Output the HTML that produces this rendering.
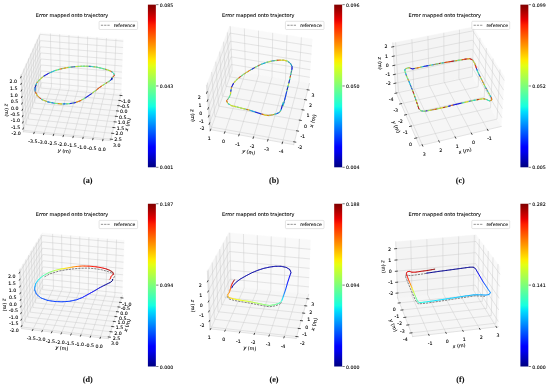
<!DOCTYPE html>
<html><head><meta charset="utf-8"><title>Error mapped onto trajectory</title>
<style>
html,body{margin:0;padding:0;background:#fff;}
body{width:550px;height:386px;overflow:hidden;}
svg{display:block}
svg *{stroke-linejoin:round;stroke-linecap:butt}
svg text{stroke:#000;stroke-width:0.08px;text-rendering:geometricPrecision}
svg .m text{stroke-width:0.2px}
</style></head><body>
<svg width="550" height="386" viewBox="0 0 550 386">
<rect width="550" height="386" fill="#fff"/>
<g class="m" transform="scale(0.409)">



<g>
<g>
<path d="M 101.98 209.75  L 296.19 227.71  L 301.51 96.48  L 98.36 79.89
" style="fill: #f2f2f2; opacity: 0.42; stroke: #f2f2f2; stroke-linejoin: miter"/>
</g>
</g>
<g>
<g>
<path d="M 101.98 209.75  L 57.18 321.99  L 50.90 183.97  L 98.36 79.89
" style="fill: #e6e6e6; opacity: 0.42; stroke: #e6e6e6; stroke-linejoin: miter"/>
</g>
</g>
<g>
<g>
<path d="M 101.98 209.75  L 57.18 321.99  L 270.61 343.82  L 296.19 227.71
" style="fill: #ececec; opacity: 0.42; stroke: #ececec; stroke-linejoin: miter"/>
</g>
</g>
<g>
<g>
<path d="M 294.94 233.35  L 99.80 215.21  L 96.06 84.93
" style="fill: none; stroke: #c6c6c6; stroke-width: 1.05"/>
<path d="M 292.22 245.71  L 95.03 227.17  L 91.02 95.98
" style="fill: none; stroke: #c6c6c6; stroke-width: 1.05"/>
<path d="M 289.44 258.34  L 90.15 239.39  L 85.87 107.28
" style="fill: none; stroke: #c6c6c6; stroke-width: 1.05"/>
<path d="M 286.60 271.25  L 85.17 251.88  L 80.60 118.84
" style="fill: none; stroke: #c6c6c6; stroke-width: 1.05"/>
<path d="M 283.69 284.45  L 80.07 264.65  L 75.20 130.67
" style="fill: none; stroke: #c6c6c6; stroke-width: 1.05"/>
<path d="M 280.72 297.95  L 74.86 277.70  L 69.68 142.78
" style="fill: none; stroke: #c6c6c6; stroke-width: 1.05"/>
<path d="M 277.67 311.77  L 69.53 291.05  L 64.03 155.18
" style="fill: none; stroke: #c6c6c6; stroke-width: 1.05"/>
<path d="M 274.56 325.91  L 64.08 304.70  L 58.24 167.87
" style="fill: none; stroke: #c6c6c6; stroke-width: 1.05"/>
<path d="M 271.37 340.38  L 58.50 318.67  L 52.31 180.88
" style="fill: none; stroke: #c6c6c6; stroke-width: 1.05"/>
</g>
</g>
<g>
<g>
<path d="M 123.27 81.92  L 125.81 211.95  L 83.33 324.67
" style="fill: none; stroke: #c6c6c6; stroke-width: 1.05"/>
<path d="M 145.88 83.77  L 147.44 213.95  L 107.07 327.09
" style="fill: none; stroke: #c6c6c6; stroke-width: 1.05"/>
<path d="M 168.57 85.62  L 169.14 215.96  L 130.91 329.53
" style="fill: none; stroke: #c6c6c6; stroke-width: 1.05"/>
<path d="M 191.36 87.48  L 190.92 217.97  L 154.84 331.98
" style="fill: none; stroke: #c6c6c6; stroke-width: 1.05"/>
<path d="M 214.23 89.35  L 212.79 220.00  L 178.87 334.43
" style="fill: none; stroke: #c6c6c6; stroke-width: 1.05"/>
<path d="M 237.18 91.23  L 234.73 222.03  L 202.99 336.90
" style="fill: none; stroke: #c6c6c6; stroke-width: 1.05"/>
<path d="M 260.23 93.11  L 256.75 224.06  L 227.21 339.38
" style="fill: none; stroke: #c6c6c6; stroke-width: 1.05"/>
<path d="M 283.36 95.00  L 278.85 226.11  L 251.53 341.87
" style="fill: none; stroke: #c6c6c6; stroke-width: 1.05"/>
</g>
</g>
<g>
<g>
<path d="M 56.81 313.83  L 101.77 202.04  L 296.50 219.92
" style="fill: none; stroke: #c6c6c6; stroke-width: 1.05"/>
<path d="M 56.12 298.76  L 101.37 187.81  L 297.09 205.55
" style="fill: none; stroke: #c6c6c6; stroke-width: 1.05"/>
<path d="M 55.43 283.52  L 100.97 173.43  L 297.67 191.03
" style="fill: none; stroke: #c6c6c6; stroke-width: 1.05"/>
<path d="M 54.73 268.11  L 100.56 158.91  L 298.27 176.36
" style="fill: none; stroke: #c6c6c6; stroke-width: 1.05"/>
<path d="M 54.02 252.53  L 100.15 144.25  L 298.87 161.54
" style="fill: none; stroke: #c6c6c6; stroke-width: 1.05"/>
<path d="M 53.30 236.78  L 99.74 129.43  L 299.48 146.57
" style="fill: none; stroke: #c6c6c6; stroke-width: 1.05"/>
<path d="M 52.58 220.85  L 99.32 114.47  L 300.09 131.44
" style="fill: none; stroke: #c6c6c6; stroke-width: 1.05"/>
<path d="M 51.85 204.73  L 98.90 99.35  L 300.71 116.16
" style="fill: none; stroke: #c6c6c6; stroke-width: 1.05"/>
<path d="M 51.11 188.44  L 98.47 84.07  L 301.34 100.71
" style="fill: none; stroke: #c6c6c6; stroke-width: 1.05"/>
</g>
</g>
<g>
<g>
<path d="M 296.19 227.71  L 270.61 343.82
" style="fill: none; stroke: #cccccc; stroke-width: 1.25; stroke-linecap: square"/>
</g>
<g>
<g>
<path d="M 293.36 233.21  L 298.12 233.65
" style="fill: none; stroke: #000000; stroke-width: 1.7; stroke-linecap: square"/>
</g>
<g>
<text style="font-size: 11.5px; font-family: 'DejaVu Sans', 'Liberation Sans', sans-serif; text-anchor: middle" x="307.92" y="251.77" transform="rotate(-0 307.92 251.77)">-1.0</text>
</g>
</g>
<g>
<g>
<path d="M 290.62 245.56  L 295.43 246.01
" style="fill: none; stroke: #000000; stroke-width: 1.7; stroke-linecap: square"/>
</g>
<g>
<text style="font-size: 11.5px; font-family: 'DejaVu Sans', 'Liberation Sans', sans-serif; text-anchor: middle" x="305.34" y="264.21" transform="rotate(-0 305.34 264.21)">-0.5</text>
</g>
</g>
<g>
<g>
<path d="M 287.82 258.18  L 292.68 258.65
" style="fill: none; stroke: #000000; stroke-width: 1.7; stroke-linecap: square"/>
</g>
<g>
<text style="font-size: 11.5px; font-family: 'DejaVu Sans', 'Liberation Sans', sans-serif; text-anchor: middle" x="302.71" y="276.92" transform="rotate(-0 302.71 276.92)">0.0</text>
</g>
</g>
<g>
<g>
<path d="M 284.96 271.09  L 289.88 271.56
" style="fill: none; stroke: #000000; stroke-width: 1.7; stroke-linecap: square"/>
</g>
<g>
<text style="font-size: 11.5px; font-family: 'DejaVu Sans', 'Liberation Sans', sans-serif; text-anchor: middle" x="300.02" y="289.92" transform="rotate(-0 300.02 289.92)">0.5</text>
</g>
</g>
<g>
<g>
<path d="M 282.03 284.29  L 287.00 284.77
" style="fill: none; stroke: #000000; stroke-width: 1.7; stroke-linecap: square"/>
</g>
<g>
<text style="font-size: 11.5px; font-family: 'DejaVu Sans', 'Liberation Sans', sans-serif; text-anchor: middle" x="297.27" y="303.21" transform="rotate(-0 297.27 303.21)">1.0</text>
</g>
</g>
<g>
<g>
<path d="M 279.04 297.79  L 284.07 298.28
" style="fill: none; stroke: #000000; stroke-width: 1.7; stroke-linecap: square"/>
</g>
<g>
<text style="font-size: 11.5px; font-family: 'DejaVu Sans', 'Liberation Sans', sans-serif; text-anchor: middle" x="294.46" y="316.80" transform="rotate(-0 294.46 316.80)">1.5</text>
</g>
</g>
<g>
<g>
<path d="M 275.98 311.60  L 281.06 312.11
" style="fill: none; stroke: #000000; stroke-width: 1.7; stroke-linecap: square"/>
</g>
<g>
<text style="font-size: 11.5px; font-family: 'DejaVu Sans', 'Liberation Sans', sans-serif; text-anchor: middle" x="291.58" y="330.70" transform="rotate(-0 291.58 330.70)">2.0</text>
</g>
</g>
<g>
<g>
<path d="M 272.85 325.73  L 277.99 326.25
" style="fill: none; stroke: #000000; stroke-width: 1.7; stroke-linecap: square"/>
</g>
<g>
<text style="font-size: 11.5px; font-family: 'DejaVu Sans', 'Liberation Sans', sans-serif; text-anchor: middle" x="288.63" y="344.93" transform="rotate(-0 288.63 344.93)">2.5</text>
</g>
</g>
<g>
<g>
<path d="M 269.64 340.20  L 274.84 340.73
" style="fill: none; stroke: #000000; stroke-width: 1.7; stroke-linecap: square"/>
</g>
<g>
<text style="font-size: 11.5px; font-family: 'DejaVu Sans', 'Liberation Sans', sans-serif; text-anchor: middle" x="285.62" y="359.49" transform="rotate(-0 285.62 359.49)">3.0</text>
</g>
</g>
<g>
<g transform="translate(313.23 320.98) rotate(-77.57)">
<text x="0" y="-0.89" style="font-size: 12px; font-family: 'DejaVu Sans', 'Liberation Sans', sans-serif"><tspan style="font-style: oblique">x</tspan> (m)</text>
</g>
</g>
</g>
<g>
<g>
<path d="M 57.18 321.99  L 270.61 343.82
" style="fill: none; stroke: #cccccc; stroke-width: 1.25; stroke-linecap: square"/>
</g>
<g>
<g>
<path d="M 83.70 323.67  L 82.58 326.66
" style="fill: none; stroke: #000000; stroke-width: 1.7; stroke-linecap: square"/>
</g>
<g>
<text style="font-size: 11.5px; font-family: 'DejaVu Sans', 'Liberation Sans', sans-serif; text-anchor: middle" x="80.49" y="350.66" transform="rotate(-0 80.49 350.66)">-3.5</text>
</g>
</g>
<g>
<g>
<path d="M 107.43 326.10  L 106.36 329.09
" style="fill: none; stroke: #000000; stroke-width: 1.7; stroke-linecap: square"/>
</g>
<g>
<text style="font-size: 11.5px; font-family: 'DejaVu Sans', 'Liberation Sans', sans-serif; text-anchor: middle" x="104.31" y="353.13" transform="rotate(-0 104.31 353.13)">-3.0</text>
</g>
</g>
<g>
<g>
<path d="M 131.24 328.53  L 130.23 331.54
" style="fill: none; stroke: #000000; stroke-width: 1.7; stroke-linecap: square"/>
</g>
<g>
<text style="font-size: 11.5px; font-family: 'DejaVu Sans', 'Liberation Sans', sans-serif; text-anchor: middle" x="128.23" y="355.62" transform="rotate(-0 128.23 355.62)">-2.5</text>
</g>
</g>
<g>
<g>
<path d="M 155.16 330.97  L 154.20 333.99
" style="fill: none; stroke: #000000; stroke-width: 1.7; stroke-linecap: square"/>
</g>
<g>
<text style="font-size: 11.5px; font-family: 'DejaVu Sans', 'Liberation Sans', sans-serif; text-anchor: middle" x="152.24" y="358.11" transform="rotate(-0 152.24 358.11)">-2.0</text>
</g>
</g>
<g>
<g>
<path d="M 179.17 333.43  L 178.27 336.46
" style="fill: none; stroke: #000000; stroke-width: 1.7; stroke-linecap: square"/>
</g>
<g>
<text style="font-size: 11.5px; font-family: 'DejaVu Sans', 'Liberation Sans', sans-serif; text-anchor: middle" x="176.35" y="360.61" transform="rotate(-0 176.35 360.61)">-1.5</text>
</g>
</g>
<g>
<g>
<path d="M 203.27 335.89  L 202.43 338.93
" style="fill: none; stroke: #000000; stroke-width: 1.7; stroke-linecap: square"/>
</g>
<g>
<text style="font-size: 11.5px; font-family: 'DejaVu Sans', 'Liberation Sans', sans-serif; text-anchor: middle" x="200.56" y="363.12" transform="rotate(-0 200.56 363.12)">-1.0</text>
</g>
</g>
<g>
<g>
<path d="M 227.47 338.36  L 226.69 341.42
" style="fill: none; stroke: #000000; stroke-width: 1.7; stroke-linecap: square"/>
</g>
<g>
<text style="font-size: 11.5px; font-family: 'DejaVu Sans', 'Liberation Sans', sans-serif; text-anchor: middle" x="224.86" y="365.64" transform="rotate(-0 224.86 365.64)">-0.5</text>
</g>
</g>
<g>
<g>
<path d="M 251.77 340.84  L 251.05 343.91
" style="fill: none; stroke: #000000; stroke-width: 1.7; stroke-linecap: square"/>
</g>
<g>
<text style="font-size: 11.5px; font-family: 'DejaVu Sans', 'Liberation Sans', sans-serif; text-anchor: middle" x="249.26" y="368.17" transform="rotate(-0 249.26 368.17)">0.0</text>
</g>
</g>
<g>
<g transform="translate(141.07 372.46) rotate(-354.16)">
<text x="0" y="-0.89" style="font-size: 12px; font-family: 'DejaVu Sans', 'Liberation Sans', sans-serif"><tspan style="font-style: oblique">y</tspan> (m)</text>
</g>
</g>
</g>
<g>
<g>
<path d="M 57.18 321.99  L 50.90 183.97
" style="fill: none; stroke: #cccccc; stroke-width: 1.25; stroke-linecap: square"/>
</g>
<g>
<g>
<path d="M 57.20 312.85  L 56.01 315.81
" style="fill: none; stroke: #000000; stroke-width: 1.7; stroke-linecap: square"/>
</g>
<g>
<text style="font-size: 11.5px; font-family: 'DejaVu Sans', 'Liberation Sans', sans-serif; text-anchor: middle" x="39.23" y="329.46" transform="rotate(-0 39.23 329.46)">-2.0</text>
</g>
</g>
<g>
<g>
<path d="M 56.52 297.78  L 55.32 300.72
" style="fill: none; stroke: #000000; stroke-width: 1.7; stroke-linecap: square"/>
</g>
<g>
<text style="font-size: 11.5px; font-family: 'DejaVu Sans', 'Liberation Sans', sans-serif; text-anchor: middle" x="38.45" y="314.34" transform="rotate(-0 38.45 314.34)">-1.5</text>
</g>
</g>
<g>
<g>
<path d="M 55.83 282.55  L 54.62 285.47
" style="fill: none; stroke: #000000; stroke-width: 1.7; stroke-linecap: square"/>
</g>
<g>
<text style="font-size: 11.5px; font-family: 'DejaVu Sans', 'Liberation Sans', sans-serif; text-anchor: middle" x="37.65" y="299.05" transform="rotate(-0 37.65 299.05)">-1.0</text>
</g>
</g>
<g>
<g>
<path d="M 55.13 267.15  L 53.92 270.04
" style="fill: none; stroke: #000000; stroke-width: 1.7; stroke-linecap: square"/>
</g>
<g>
<text style="font-size: 11.5px; font-family: 'DejaVu Sans', 'Liberation Sans', sans-serif; text-anchor: middle" x="36.85" y="283.59" transform="rotate(-0 36.85 283.59)">-0.5</text>
</g>
</g>
<g>
<g>
<path d="M 54.43 251.58  L 53.20 254.45
" style="fill: none; stroke: #000000; stroke-width: 1.7; stroke-linecap: square"/>
</g>
<g>
<text style="font-size: 11.5px; font-family: 'DejaVu Sans', 'Liberation Sans', sans-serif; text-anchor: middle" x="36.03" y="267.96" transform="rotate(-0 36.03 267.96)">0.0</text>
</g>
</g>
<g>
<g>
<path d="M 53.71 235.83  L 52.48 238.68
" style="fill: none; stroke: #000000; stroke-width: 1.7; stroke-linecap: square"/>
</g>
<g>
<text style="font-size: 11.5px; font-family: 'DejaVu Sans', 'Liberation Sans', sans-serif; text-anchor: middle" x="35.21" y="252.15" transform="rotate(-0 35.21 252.15)">0.5</text>
</g>
</g>
<g>
<g>
<path d="M 52.99 219.91  L 51.75 222.73
" style="fill: none; stroke: #000000; stroke-width: 1.7; stroke-linecap: square"/>
</g>
<g>
<text style="font-size: 11.5px; font-family: 'DejaVu Sans', 'Liberation Sans', sans-serif; text-anchor: middle" x="34.38" y="236.16" transform="rotate(-0 34.38 236.16)">1.0</text>
</g>
</g>
<g>
<g>
<path d="M 52.26 203.80  L 51.01 206.60
" style="fill: none; stroke: #000000; stroke-width: 1.7; stroke-linecap: square"/>
</g>
<g>
<text style="font-size: 11.5px; font-family: 'DejaVu Sans', 'Liberation Sans', sans-serif; text-anchor: middle" x="33.54" y="219.99" transform="rotate(-0 33.54 219.99)">1.5</text>
</g>
</g>
<g>
<g>
<path d="M 51.53 187.51  L 50.27 190.29
" style="fill: none; stroke: #000000; stroke-width: 1.7; stroke-linecap: square"/>
</g>
<g>
<text style="font-size: 11.5px; font-family: 'DejaVu Sans', 'Liberation Sans', sans-serif; text-anchor: middle" x="32.69" y="203.63" transform="rotate(-0 32.69 203.63)">2.0</text>
</g>
</g>
<g>
<g transform="translate(10.76 253.89) rotate(-272.60)">
<text x="0" y="-0.89" style="font-size: 12px; font-family: 'DejaVu Sans', 'Liberation Sans', sans-serif"><tspan style="font-style: oblique">z</tspan> (m)</text>
</g>
</g>
</g>
<g/>

<g>
<g>
<path d="M 756.49 204.21  L 566.25 172.73  L 561.67 63.98  L 764.11 95.48
" style="fill: #f2f2f2; opacity: 0.42; stroke: #f2f2f2; stroke-linejoin: miter"/>
</g>
</g>
<g>
<g>
<path d="M 513.30 316.82  L 566.25 172.73  L 561.67 63.98  L 504.69 208.67
" style="fill: #e6e6e6; opacity: 0.42; stroke: #e6e6e6; stroke-linejoin: miter"/>
</g>
</g>
<g>
<g>
<path d="M 718.07 353.60  L 756.49 204.21  L 566.25 172.73  L 513.30 316.82
" style="fill: #ececec; opacity: 0.42; stroke: #ececec; stroke-linejoin: miter"/>
</g>
</g>
<g>
<g>
<path d="M 719.79 346.94  L 515.66 310.40  L 507.24 202.20
" style="fill: none; stroke: #c6c6c6; stroke-width: 1.05"/>
<path d="M 726.69 320.09  L 525.17 284.52  L 517.51 176.12
" style="fill: none; stroke: #c6c6c6; stroke-width: 1.05"/>
<path d="M 733.41 293.96  L 534.42 259.33  L 527.49 150.78
" style="fill: none; stroke: #c6c6c6; stroke-width: 1.05"/>
<path d="M 739.96 268.52  L 543.44 234.80  L 537.19 126.14
" style="fill: none; stroke: #c6c6c6; stroke-width: 1.05"/>
<path d="M 746.33 243.75  L 552.22 210.90  L 546.63 102.17
" style="fill: none; stroke: #c6c6c6; stroke-width: 1.05"/>
<path d="M 752.53 219.62  L 560.79 187.60  L 555.82 78.85
" style="fill: none; stroke: #c6c6c6; stroke-width: 1.05"/>
</g>
</g>
<g>
<g>
<path d="M 736.90 91.24  L 730.95 199.99  L 690.54 348.66
" style="fill: none; stroke: #c6c6c6; stroke-width: 1.05"/>
<path d="M 701.71 85.77  L 697.90 194.52  L 654.94 342.26
" style="fill: none; stroke: #c6c6c6; stroke-width: 1.05"/>
<path d="M 666.75 80.33  L 665.05 189.08  L 619.57 335.91
" style="fill: none; stroke: #c6c6c6; stroke-width: 1.05"/>
<path d="M 632.00 74.93  L 632.39 183.67  L 584.43 329.59
" style="fill: none; stroke: #c6c6c6; stroke-width: 1.05"/>
<path d="M 597.48 69.55  L 599.93 178.30  L 549.52 323.32
" style="fill: none; stroke: #c6c6c6; stroke-width: 1.05"/>
<path d="M 563.18 64.22  L 567.67 172.96  L 514.82 317.09
" style="fill: none; stroke: #c6c6c6; stroke-width: 1.05"/>
</g>
</g>
<g>
<g>
<path d="M 512.11 301.79  L 565.61 157.56  L 757.56 189.06
" style="fill: none; stroke: #c6c6c6; stroke-width: 1.05"/>
<path d="M 510.64 283.42  L 564.83 139.03  L 758.85 170.54
" style="fill: none; stroke: #c6c6c6; stroke-width: 1.05"/>
<path d="M 509.14 264.62  L 564.03 120.10  L 760.18 151.62
" style="fill: none; stroke: #c6c6c6; stroke-width: 1.05"/>
<path d="M 507.61 245.37  L 563.22 100.76  L 761.53 132.28
" style="fill: none; stroke: #c6c6c6; stroke-width: 1.05"/>
<path d="M 506.04 225.66  L 562.39 80.99  L 762.92 112.50
" style="fill: none; stroke: #c6c6c6; stroke-width: 1.05"/>
</g>
</g>
<g>
<g>
<path d="M 756.49 204.21  L 718.07 353.60
" style="fill: none; stroke: #cccccc; stroke-width: 1.25; stroke-linecap: square"/>
</g>
<g>
<g>
<path d="M 718.12 346.64  L 723.12 347.53
" style="fill: none; stroke: #000000; stroke-width: 1.7; stroke-linecap: square"/>
</g>
<g>
<text style="font-size: 11.5px; font-family: 'DejaVu Sans', 'Liberation Sans', sans-serif; text-anchor: middle" x="733.52" y="365.03" transform="rotate(-0 733.52 365.03)">-2</text>
</g>
</g>
<g>
<g>
<path d="M 725.05 319.80  L 729.98 320.67
" style="fill: none; stroke: #000000; stroke-width: 1.7; stroke-linecap: square"/>
</g>
<g>
<text style="font-size: 11.5px; font-family: 'DejaVu Sans', 'Liberation Sans', sans-serif; text-anchor: middle" x="740.22" y="338.13" transform="rotate(-0 740.22 338.13)">-1</text>
</g>
</g>
<g>
<g>
<path d="M 731.79 293.67  L 736.66 294.52
" style="fill: none; stroke: #000000; stroke-width: 1.7; stroke-linecap: square"/>
</g>
<g>
<text style="font-size: 11.5px; font-family: 'DejaVu Sans', 'Liberation Sans', sans-serif; text-anchor: middle" x="746.74" y="311.96" transform="rotate(-0 746.74 311.96)">0</text>
</g>
</g>
<g>
<g>
<path d="M 738.36 268.24  L 743.16 269.07
" style="fill: none; stroke: #000000; stroke-width: 1.7; stroke-linecap: square"/>
</g>
<g>
<text style="font-size: 11.5px; font-family: 'DejaVu Sans', 'Liberation Sans', sans-serif; text-anchor: middle" x="753.09" y="286.48" transform="rotate(-0 753.09 286.48)">1</text>
</g>
</g>
<g>
<g>
<path d="M 744.75 243.48  L 749.49 244.28
" style="fill: none; stroke: #000000; stroke-width: 1.7; stroke-linecap: square"/>
</g>
<g>
<text style="font-size: 11.5px; font-family: 'DejaVu Sans', 'Liberation Sans', sans-serif; text-anchor: middle" x="759.27" y="261.66" transform="rotate(-0 759.27 261.66)">2</text>
</g>
</g>
<g>
<g>
<path d="M 750.97 219.35  L 755.66 220.14
" style="fill: none; stroke: #000000; stroke-width: 1.7; stroke-linecap: square"/>
</g>
<g>
<text style="font-size: 11.5px; font-family: 'DejaVu Sans', 'Liberation Sans', sans-serif; text-anchor: middle" x="765.29" y="237.48" transform="rotate(-0 765.29 237.48)">3</text>
</g>
</g>
<g>
<g transform="translate(765.82 312.32) rotate(-75.57)">
<text x="0" y="-0.89" style="font-size: 12px; font-family: 'DejaVu Sans', 'Liberation Sans', sans-serif"><tspan style="font-style: oblique">x</tspan> (m)</text>
</g>
</g>
</g>
<g>
<g>
<path d="M 513.30 316.82  L 718.07 353.60
" style="fill: none; stroke: #cccccc; stroke-width: 1.25; stroke-linecap: square"/>
</g>
<g>
<g>
<path d="M 690.89 347.37  L 689.84 351.23
" style="fill: none; stroke: #000000; stroke-width: 1.7; stroke-linecap: square"/>
</g>
<g>
<text style="font-size: 11.5px; font-family: 'DejaVu Sans', 'Liberation Sans', sans-serif; text-anchor: middle" x="687.34" y="375.19" transform="rotate(-0 687.34 375.19)">-4</text>
</g>
</g>
<g>
<g>
<path d="M 655.31 340.98  L 654.20 344.82
" style="fill: none; stroke: #000000; stroke-width: 1.7; stroke-linecap: square"/>
</g>
<g>
<text style="font-size: 11.5px; font-family: 'DejaVu Sans', 'Liberation Sans', sans-serif; text-anchor: middle" x="651.71" y="368.73" transform="rotate(-0 651.71 368.73)">-3</text>
</g>
</g>
<g>
<g>
<path d="M 619.97 334.64  L 618.79 338.45
" style="fill: none; stroke: #000000; stroke-width: 1.7; stroke-linecap: square"/>
</g>
<g>
<text style="font-size: 11.5px; font-family: 'DejaVu Sans', 'Liberation Sans', sans-serif; text-anchor: middle" x="616.31" y="362.32" transform="rotate(-0 616.31 362.32)">-2</text>
</g>
</g>
<g>
<g>
<path d="M 584.85 328.33  L 583.60 332.12
" style="fill: none; stroke: #000000; stroke-width: 1.7; stroke-linecap: square"/>
</g>
<g>
<text style="font-size: 11.5px; font-family: 'DejaVu Sans', 'Liberation Sans', sans-serif; text-anchor: middle" x="581.14" y="355.94" transform="rotate(-0 581.14 355.94)">-1</text>
</g>
</g>
<g>
<g>
<path d="M 549.95 322.07  L 548.64 325.83
" style="fill: none; stroke: #000000; stroke-width: 1.7; stroke-linecap: square"/>
</g>
<g>
<text style="font-size: 11.5px; font-family: 'DejaVu Sans', 'Liberation Sans', sans-serif; text-anchor: middle" x="546.20" y="349.60" transform="rotate(-0 546.20 349.60)">0</text>
</g>
</g>
<g>
<g>
<path d="M 515.28 315.84  L 513.91 319.58
" style="fill: none; stroke: #000000; stroke-width: 1.7; stroke-linecap: square"/>
</g>
<g>
<text style="font-size: 11.5px; font-family: 'DejaVu Sans', 'Liberation Sans', sans-serif; text-anchor: middle" x="511.48" y="343.31" transform="rotate(-0 511.48 343.31)">1</text>
</g>
</g>
<g>
<g transform="translate(591.27 373.90) rotate(-349.81)">
<text x="0" y="-0.89" style="font-size: 12px; font-family: 'DejaVu Sans', 'Liberation Sans', sans-serif"><tspan style="font-style: oblique">y</tspan> (m)</text>
</g>
</g>
</g>
<g>
<g>
<path d="M 513.30 316.82  L 504.69 208.67
" style="fill: none; stroke: #cccccc; stroke-width: 1.25; stroke-linecap: square"/>
</g>
<g>
<g>
<path d="M 512.57 300.55  L 511.18 304.29
" style="fill: none; stroke: #000000; stroke-width: 1.7; stroke-linecap: square"/>
</g>
<g>
<text style="font-size: 11.5px; font-family: 'DejaVu Sans', 'Liberation Sans', sans-serif; text-anchor: middle" x="494.31" y="318.71" transform="rotate(-0 494.31 318.71)">-2</text>
</g>
</g>
<g>
<g>
<path d="M 511.11 282.17  L 509.70 285.92
" style="fill: none; stroke: #000000; stroke-width: 1.7; stroke-linecap: square"/>
</g>
<g>
<text style="font-size: 11.5px; font-family: 'DejaVu Sans', 'Liberation Sans', sans-serif; text-anchor: middle" x="492.63" y="300.35" transform="rotate(-0 492.63 300.35)">-1</text>
</g>
</g>
<g>
<g>
<path d="M 509.62 263.37  L 508.19 267.13
" style="fill: none; stroke: #000000; stroke-width: 1.7; stroke-linecap: square"/>
</g>
<g>
<text style="font-size: 11.5px; font-family: 'DejaVu Sans', 'Liberation Sans', sans-serif; text-anchor: middle" x="490.91" y="281.56" transform="rotate(-0 490.91 281.56)">0</text>
</g>
</g>
<g>
<g>
<path d="M 508.09 244.12  L 506.64 247.88
" style="fill: none; stroke: #000000; stroke-width: 1.7; stroke-linecap: square"/>
</g>
<g>
<text style="font-size: 11.5px; font-family: 'DejaVu Sans', 'Liberation Sans', sans-serif; text-anchor: middle" x="489.15" y="262.33" transform="rotate(-0 489.15 262.33)">1</text>
</g>
</g>
<g>
<g>
<path d="M 506.53 224.41  L 505.06 228.17
" style="fill: none; stroke: #000000; stroke-width: 1.7; stroke-linecap: square"/>
</g>
<g>
<text style="font-size: 11.5px; font-family: 'DejaVu Sans', 'Liberation Sans', sans-serif; text-anchor: middle" x="487.36" y="242.63" transform="rotate(-0 487.36 242.63)">2</text>
</g>
</g>
<g>
<g transform="translate(464.76 267.19) rotate(-274.55)">
<text x="0" y="-0.89" style="font-size: 12px; font-family: 'DejaVu Sans', 'Liberation Sans', sans-serif"><tspan style="font-style: oblique">z</tspan> (m)</text>
</g>
</g>
</g>
<g/>

<g>
<g>
<path d="M 1153.13 184.55  L 1225.59 309.12  L 1233.62 187.38  L 1156.47 66.15
" style="fill: #f2f2f2; opacity: 0.42; stroke: #f2f2f2; stroke-linejoin: miter"/>
</g>
</g>
<g>
<g>
<path d="M 1153.13 184.55  L 967.54 224.57  L 960.39 104.97  L 1156.47 66.15
" style="fill: #e6e6e6; opacity: 0.42; stroke: #e6e6e6; stroke-linejoin: miter"/>
</g>
</g>
<g>
<g>
<path d="M 1153.13 184.55  L 967.54 224.57  L 1025.62 356.50  L 1225.59 309.12
" style="fill: #ececec; opacity: 0.42; stroke: #ececec; stroke-linejoin: miter"/>
</g>
</g>
<g>
<g>
<path d="M 1192.03 317.07  L 1121.92 191.28  L 1123.53 72.67
" style="fill: none; stroke: #c6c6c6; stroke-width: 1.05"/>
<path d="M 1152.89 326.35  L 1085.55 199.12  L 1085.14 80.27
" style="fill: none; stroke: #c6c6c6; stroke-width: 1.05"/>
<path d="M 1113.29 335.73  L 1048.79 207.05  L 1046.30 87.96
" style="fill: none; stroke: #c6c6c6; stroke-width: 1.05"/>
<path d="M 1073.21 345.22  L 1011.63 215.06  L 1007.02 95.74
" style="fill: none; stroke: #c6c6c6; stroke-width: 1.05"/>
<path d="M 1032.65 354.83  L 974.05 223.17  L 967.27 103.61
" style="fill: none; stroke: #c6c6c6; stroke-width: 1.05"/>
</g>
</g>
<g>
<g>
<path d="M 1158.22 68.92  L 1154.79 187.40  L 968.87 227.58
" style="fill: none; stroke: #c6c6c6; stroke-width: 1.05"/>
<path d="M 1173.42 92.79  L 1169.12 212.03  L 980.33 253.62
" style="fill: none; stroke: #c6c6c6; stroke-width: 1.05"/>
<path d="M 1189.18 117.55  L 1183.94 237.52  L 992.20 280.58
" style="fill: none; stroke: #c6c6c6; stroke-width: 1.05"/>
<path d="M 1205.53 143.24  L 1199.29 263.90  L 1004.51 308.53
" style="fill: none; stroke: #c6c6c6; stroke-width: 1.05"/>
<path d="M 1222.50 169.91  L 1215.20 291.24  L 1017.27 337.52
" style="fill: none; stroke: #c6c6c6; stroke-width: 1.05"/>
</g>
</g>
<g>
<g>
<path d="M 966.28 203.47  L 1153.72 163.64  L 1227.01 287.70
" style="fill: none; stroke: #c6c6c6; stroke-width: 1.05"/>
<path d="M 964.99 181.88  L 1154.32 142.24  L 1228.45 265.75
" style="fill: none; stroke: #c6c6c6; stroke-width: 1.05"/>
<path d="M 963.67 159.84  L 1154.94 120.42  L 1229.93 243.33
" style="fill: none; stroke: #c6c6c6; stroke-width: 1.05"/>
<path d="M 962.32 137.34  L 1155.57 98.16  L 1231.44 220.40
" style="fill: none; stroke: #c6c6c6; stroke-width: 1.05"/>
<path d="M 960.95 114.37  L 1156.20 75.44  L 1232.99 196.97
" style="fill: none; stroke: #c6c6c6; stroke-width: 1.05"/>
</g>
</g>
<g>
<g>
<path d="M 1225.59 309.12  L 1025.62 356.50
" style="fill: none; stroke: #cccccc; stroke-width: 1.25; stroke-linecap: square"/>
</g>
<g>
<g>
<path d="M 1191.42 315.98  L 1193.25 319.27
" style="fill: none; stroke: #000000; stroke-width: 1.7; stroke-linecap: square"/>
</g>
<g>
<text style="font-size: 11.5px; font-family: 'DejaVu Sans', 'Liberation Sans', sans-serif; text-anchor: middle" x="1196.84" y="342.95" transform="rotate(-0 1196.84 342.95)">-1</text>
</g>
</g>
<g>
<g>
<path d="M 1152.31 325.24  L 1154.07 328.56
" style="fill: none; stroke: #000000; stroke-width: 1.7; stroke-linecap: square"/>
</g>
<g>
<text style="font-size: 11.5px; font-family: 'DejaVu Sans', 'Liberation Sans', sans-serif; text-anchor: middle" x="1157.64" y="352.34" transform="rotate(-0 1157.64 352.34)">0</text>
</g>
</g>
<g>
<g>
<path d="M 1112.73 334.61  L 1114.41 337.97
" style="fill: none; stroke: #000000; stroke-width: 1.7; stroke-linecap: square"/>
</g>
<g>
<text style="font-size: 11.5px; font-family: 'DejaVu Sans', 'Liberation Sans', sans-serif; text-anchor: middle" x="1117.99" y="361.85" transform="rotate(-0 1117.99 361.85)">1</text>
</g>
</g>
<g>
<g>
<path d="M 1072.67 344.09  L 1074.28 347.49
" style="fill: none; stroke: #000000; stroke-width: 1.7; stroke-linecap: square"/>
</g>
<g>
<text style="font-size: 11.5px; font-family: 'DejaVu Sans', 'Liberation Sans', sans-serif; text-anchor: middle" x="1077.85" y="371.47" transform="rotate(-0 1077.85 371.47)">2</text>
</g>
</g>
<g>
<g>
<path d="M 1032.14 353.69  L 1033.67 357.13
" style="fill: none; stroke: #000000; stroke-width: 1.7; stroke-linecap: square"/>
</g>
<g>
<text style="font-size: 11.5px; font-family: 'DejaVu Sans', 'Liberation Sans', sans-serif; text-anchor: middle" x="1037.24" y="381.20" transform="rotate(-0 1037.24 381.20)">3</text>
</g>
</g>
<g>
<g transform="translate(1122.56 377.15) rotate(-13.32)">
<text x="0" y="-0.89" style="font-size: 12px; font-family: 'DejaVu Sans', 'Liberation Sans', sans-serif"><tspan style="font-style: oblique">x</tspan> (m)</text>
</g>
</g>
</g>
<g>
<g>
<path d="M 967.54 224.57  L 1025.62 356.50
" style="fill: none; stroke: #cccccc; stroke-width: 1.25; stroke-linecap: square"/>
</g>
<g>
<g>
<path d="M 970.40 227.25  L 965.81 228.24
" style="fill: none; stroke: #000000; stroke-width: 1.7; stroke-linecap: square"/>
</g>
<g>
<text style="font-size: 11.5px; font-family: 'DejaVu Sans', 'Liberation Sans', sans-serif; text-anchor: middle" x="956.36" y="246.80" transform="rotate(-0 956.36 246.80)">-4</text>
</g>
</g>
<g>
<g>
<path d="M 981.88 253.28  L 977.22 254.30
" style="fill: none; stroke: #000000; stroke-width: 1.7; stroke-linecap: square"/>
</g>
<g>
<text style="font-size: 11.5px; font-family: 'DejaVu Sans', 'Liberation Sans', sans-serif; text-anchor: middle" x="967.58" y="272.97" transform="rotate(-0 967.58 272.97)">-3</text>
</g>
</g>
<g>
<g>
<path d="M 993.78 280.23  L 989.05 281.29
" style="fill: none; stroke: #000000; stroke-width: 1.7; stroke-linecap: square"/>
</g>
<g>
<text style="font-size: 11.5px; font-family: 'DejaVu Sans', 'Liberation Sans', sans-serif; text-anchor: middle" x="979.20" y="300.08" transform="rotate(-0 979.20 300.08)">-2</text>
</g>
</g>
<g>
<g>
<path d="M 1006.11 308.17  L 1001.30 309.27
" style="fill: none; stroke: #000000; stroke-width: 1.7; stroke-linecap: square"/>
</g>
<g>
<text style="font-size: 11.5px; font-family: 'DejaVu Sans', 'Liberation Sans', sans-serif; text-anchor: middle" x="991.25" y="328.18" transform="rotate(-0 991.25 328.18)">-1</text>
</g>
</g>
<g>
<g>
<path d="M 1018.90 337.14  L 1014.01 338.29
" style="fill: none; stroke: #000000; stroke-width: 1.7; stroke-linecap: square"/>
</g>
<g>
<text style="font-size: 11.5px; font-family: 'DejaVu Sans', 'Liberation Sans', sans-serif; text-anchor: middle" x="1003.74" y="357.31" transform="rotate(-0 1003.74 357.31)">0</text>
</g>
</g>
<g>
<g transform="translate(957.52 297.80) rotate(-293.76)">
<text x="0" y="-0.89" style="font-size: 12px; font-family: 'DejaVu Sans', 'Liberation Sans', sans-serif"><tspan style="font-style: oblique">y</tspan> (m)</text>
</g>
</g>
</g>
<g>
<g>
<path d="M 967.54 224.57  L 960.39 104.97
" style="fill: none; stroke: #cccccc; stroke-width: 1.25; stroke-linecap: square"/>
</g>
<g>
<g>
<path d="M 967.82 203.14  L 963.20 204.13
" style="fill: none; stroke: #000000; stroke-width: 1.7; stroke-linecap: square"/>
</g>
<g>
<text style="font-size: 11.5px; font-family: 'DejaVu Sans', 'Liberation Sans', sans-serif; text-anchor: middle" x="949.59" y="206.82" transform="rotate(-0 949.59 206.82)">-2</text>
</g>
</g>
<g>
<g>
<path d="M 966.55 181.55  L 961.87 182.53
" style="fill: none; stroke: #000000; stroke-width: 1.7; stroke-linecap: square"/>
</g>
<g>
<text style="font-size: 11.5px; font-family: 'DejaVu Sans', 'Liberation Sans', sans-serif; text-anchor: middle" x="948.14" y="185.25" transform="rotate(-0 948.14 185.25)">-1</text>
</g>
</g>
<g>
<g>
<path d="M 965.24 159.51  L 960.52 160.48
" style="fill: none; stroke: #000000; stroke-width: 1.7; stroke-linecap: square"/>
</g>
<g>
<text style="font-size: 11.5px; font-family: 'DejaVu Sans', 'Liberation Sans', sans-serif; text-anchor: middle" x="946.65" y="163.24" transform="rotate(-0 946.65 163.24)">0</text>
</g>
</g>
<g>
<g>
<path d="M 963.91 137.01  L 959.14 137.98
" style="fill: none; stroke: #000000; stroke-width: 1.7; stroke-linecap: square"/>
</g>
<g>
<text style="font-size: 11.5px; font-family: 'DejaVu Sans', 'Liberation Sans', sans-serif; text-anchor: middle" x="945.13" y="140.77" transform="rotate(-0 945.13 140.77)">1</text>
</g>
</g>
<g>
<g>
<path d="M 962.56 114.04  L 957.73 115.01
" style="fill: none; stroke: #000000; stroke-width: 1.7; stroke-linecap: square"/>
</g>
<g>
<text style="font-size: 11.5px; font-family: 'DejaVu Sans', 'Liberation Sans', sans-serif; text-anchor: middle" x="943.58" y="117.83" transform="rotate(-0 943.58 117.83)">2</text>
</g>
</g>
<g>
<g transform="translate(923.10 139.49) rotate(-273.42)">
<text x="0" y="-0.89" style="font-size: 12px; font-family: 'DejaVu Sans', 'Liberation Sans', sans-serif"><tspan style="font-style: oblique">z</tspan> (m)</text>
</g>
</g>
</g>
<g/>

<g>
<g>
<path d="M 106.30 703.06  L 298.97 723.09  L 303.86 587.57  L 103.28 569.61
" style="fill: #f2f2f2; opacity: 0.42; stroke: #f2f2f2; stroke-linejoin: miter"/>
</g>
</g>
<g>
<g>
<path d="M 106.30 703.06  L 53.15 803.44  L 47.40 659.92  L 103.28 569.61
" style="fill: #e6e6e6; opacity: 0.42; stroke: #e6e6e6; stroke-linejoin: miter"/>
</g>
</g>
<g>
<g>
<path d="M 106.30 703.06  L 53.15 803.44  L 265.20 827.92  L 298.97 723.09
" style="fill: #ececec; opacity: 0.42; stroke: #ececec; stroke-linejoin: miter"/>
</g>
</g>
<g>
<g>
<path d="M 297.30 728.28  L 103.67 708.04  L 100.52 574.07
" style="fill: none; stroke: #c6c6c6; stroke-width: 1.05"/>
<path d="M 293.75 739.31  L 98.07 718.62  L 94.65 583.56
" style="fill: none; stroke: #c6c6c6; stroke-width: 1.05"/>
<path d="M 290.11 750.59  L 92.34 729.44  L 88.64 593.26
" style="fill: none; stroke: #c6c6c6; stroke-width: 1.05"/>
<path d="M 286.40 762.12  L 86.48 740.49  L 82.50 603.20
" style="fill: none; stroke: #c6c6c6; stroke-width: 1.05"/>
<path d="M 282.59 773.93  L 80.50 751.80  L 76.21 613.36
" style="fill: none; stroke: #c6c6c6; stroke-width: 1.05"/>
<path d="M 278.70 786.01  L 74.37 763.37  L 69.77 623.77
" style="fill: none; stroke: #c6c6c6; stroke-width: 1.05"/>
<path d="M 274.71 798.38  L 68.10 775.20  L 63.17 634.44
" style="fill: none; stroke: #c6c6c6; stroke-width: 1.05"/>
<path d="M 270.63 811.05  L 61.69 787.31  L 56.41 645.36
" style="fill: none; stroke: #c6c6c6; stroke-width: 1.05"/>
<path d="M 266.45 824.02  L 55.12 799.71  L 49.49 656.56
" style="fill: none; stroke: #c6c6c6; stroke-width: 1.05"/>
</g>
</g>
<g>
<g>
<path d="M 128.61 571.88  L 130.65 705.60  L 79.89 806.53
" style="fill: none; stroke: #c6c6c6; stroke-width: 1.05"/>
<path d="M 150.63 573.85  L 151.82 707.80  L 103.16 809.21
" style="fill: none; stroke: #c6c6c6; stroke-width: 1.05"/>
<path d="M 172.76 575.83  L 173.08 710.01  L 126.54 811.91
" style="fill: none; stroke: #c6c6c6; stroke-width: 1.05"/>
<path d="M 195.00 577.82  L 194.44 712.23  L 150.04 814.63
" style="fill: none; stroke: #c6c6c6; stroke-width: 1.05"/>
<path d="M 217.34 579.82  L 215.90 714.46  L 173.66 817.35
" style="fill: none; stroke: #c6c6c6; stroke-width: 1.05"/>
<path d="M 239.79 581.83  L 237.46 716.70  L 197.40 820.09
" style="fill: none; stroke: #c6c6c6; stroke-width: 1.05"/>
<path d="M 262.35 583.85  L 259.12 718.95  L 221.26 822.85
" style="fill: none; stroke: #c6c6c6; stroke-width: 1.05"/>
<path d="M 285.01 585.88  L 280.88 721.21  L 245.24 825.62
" style="fill: none; stroke: #c6c6c6; stroke-width: 1.05"/>
</g>
</g>
<g>
<g>
<path d="M 52.89 796.94  L 106.17 697.00  L 299.20 716.93
" style="fill: none; stroke: #c6c6c6; stroke-width: 1.05"/>
<path d="M 52.26 781.21  L 105.83 682.32  L 299.73 702.04
" style="fill: none; stroke: #c6c6c6; stroke-width: 1.05"/>
<path d="M 51.62 765.33  L 105.50 667.51  L 300.28 687.01
" style="fill: none; stroke: #c6c6c6; stroke-width: 1.05"/>
<path d="M 50.98 749.28  L 105.16 652.57  L 300.82 671.84
" style="fill: none; stroke: #c6c6c6; stroke-width: 1.05"/>
<path d="M 50.33 733.08  L 104.82 637.50  L 301.38 656.53
" style="fill: none; stroke: #c6c6c6; stroke-width: 1.05"/>
<path d="M 49.68 716.71  L 104.47 622.29  L 301.93 641.08
" style="fill: none; stroke: #c6c6c6; stroke-width: 1.05"/>
<path d="M 49.01 700.18  L 104.12 606.93  L 302.50 625.49
" style="fill: none; stroke: #c6c6c6; stroke-width: 1.05"/>
<path d="M 48.35 683.49  L 103.77 591.44  L 303.06 609.75
" style="fill: none; stroke: #c6c6c6; stroke-width: 1.05"/>
<path d="M 47.67 666.62  L 103.42 575.81  L 303.64 593.87
" style="fill: none; stroke: #c6c6c6; stroke-width: 1.05"/>
</g>
</g>
<g>
<g>
<path d="M 298.97 723.09  L 265.20 827.92
" style="fill: none; stroke: #cccccc; stroke-width: 1.25; stroke-linecap: square"/>
</g>
<g>
<g>
<path d="M 295.72 728.11  L 300.47 728.61
" style="fill: none; stroke: #000000; stroke-width: 1.7; stroke-linecap: square"/>
</g>
<g>
<text style="font-size: 11.5px; font-family: 'DejaVu Sans', 'Liberation Sans', sans-serif; text-anchor: middle" x="310.29" y="747.19" transform="rotate(-0 310.29 747.19)">-1.0</text>
</g>
</g>
<g>
<g>
<path d="M 292.15 739.14  L 296.95 739.64
" style="fill: none; stroke: #000000; stroke-width: 1.7; stroke-linecap: square"/>
</g>
<g>
<text style="font-size: 11.5px; font-family: 'DejaVu Sans', 'Liberation Sans', sans-serif; text-anchor: middle" x="306.89" y="758.32" transform="rotate(-0 306.89 758.32)">-0.5</text>
</g>
</g>
<g>
<g>
<path d="M 288.50 750.41  L 293.35 750.93
" style="fill: none; stroke: #000000; stroke-width: 1.7; stroke-linecap: square"/>
</g>
<g>
<text style="font-size: 11.5px; font-family: 'DejaVu Sans', 'Liberation Sans', sans-serif; text-anchor: middle" x="303.41" y="769.70" transform="rotate(-0 303.41 769.70)">0.0</text>
</g>
</g>
<g>
<g>
<path d="M 284.76 761.95  L 289.66 762.48
" style="fill: none; stroke: #000000; stroke-width: 1.7; stroke-linecap: square"/>
</g>
<g>
<text style="font-size: 11.5px; font-family: 'DejaVu Sans', 'Liberation Sans', sans-serif; text-anchor: middle" x="299.85" y="781.35" transform="rotate(-0 299.85 781.35)">0.5</text>
</g>
</g>
<g>
<g>
<path d="M 280.94 773.75  L 285.90 774.29
" style="fill: none; stroke: #000000; stroke-width: 1.7; stroke-linecap: square"/>
</g>
<g>
<text style="font-size: 11.5px; font-family: 'DejaVu Sans', 'Liberation Sans', sans-serif; text-anchor: middle" x="296.20" y="793.26" transform="rotate(-0 296.20 793.26)">1.0</text>
</g>
</g>
<g>
<g>
<path d="M 277.03 785.83  L 282.04 786.38
" style="fill: none; stroke: #000000; stroke-width: 1.7; stroke-linecap: square"/>
</g>
<g>
<text style="font-size: 11.5px; font-family: 'DejaVu Sans', 'Liberation Sans', sans-serif; text-anchor: middle" x="292.47" y="805.45" transform="rotate(-0 292.47 805.45)">1.5</text>
</g>
</g>
<g>
<g>
<path d="M 273.02 798.19  L 278.09 798.76
" style="fill: none; stroke: #000000; stroke-width: 1.7; stroke-linecap: square"/>
</g>
<g>
<text style="font-size: 11.5px; font-family: 'DejaVu Sans', 'Liberation Sans', sans-serif; text-anchor: middle" x="288.66" y="817.93" transform="rotate(-0 288.66 817.93)">2.0</text>
</g>
</g>
<g>
<g>
<path d="M 268.92 810.85  L 274.05 811.44
" style="fill: none; stroke: #000000; stroke-width: 1.7; stroke-linecap: square"/>
</g>
<g>
<text style="font-size: 11.5px; font-family: 'DejaVu Sans', 'Liberation Sans', sans-serif; text-anchor: middle" x="284.75" y="830.70" transform="rotate(-0 284.75 830.70)">2.5</text>
</g>
</g>
<g>
<g>
<path d="M 264.72 823.82  L 269.91 824.42
" style="fill: none; stroke: #000000; stroke-width: 1.7; stroke-linecap: square"/>
</g>
<g>
<text style="font-size: 11.5px; font-family: 'DejaVu Sans', 'Liberation Sans', sans-serif; text-anchor: middle" x="280.75" y="843.79" transform="rotate(-0 280.75 843.79)">3.0</text>
</g>
</g>
<g>
<g transform="translate(310.69 812.07) rotate(-72.14)">
<text x="0" y="-0.89" style="font-size: 12px; font-family: 'DejaVu Sans', 'Liberation Sans', sans-serif"><tspan style="font-style: oblique">x</tspan> (m)</text>
</g>
</g>
</g>
<g>
<g>
<path d="M 53.15 803.44  L 265.20 827.92
" style="fill: none; stroke: #cccccc; stroke-width: 1.25; stroke-linecap: square"/>
</g>
<g>
<g>
<path d="M 80.34 805.64  L 79.00 808.31
" style="fill: none; stroke: #000000; stroke-width: 1.7; stroke-linecap: square"/>
</g>
<g>
<text style="font-size: 11.5px; font-family: 'DejaVu Sans', 'Liberation Sans', sans-serif; text-anchor: middle" x="76.40" y="832.12" transform="rotate(-0 76.40 832.12)">-3.5</text>
</g>
</g>
<g>
<g>
<path d="M 103.59 808.32  L 102.30 811.01
" style="fill: none; stroke: #000000; stroke-width: 1.7; stroke-linecap: square"/>
</g>
<g>
<text style="font-size: 11.5px; font-family: 'DejaVu Sans', 'Liberation Sans', sans-serif; text-anchor: middle" x="99.75" y="834.86" transform="rotate(-0 99.75 834.86)">-3.0</text>
</g>
</g>
<g>
<g>
<path d="M 126.95 811.01  L 125.71 813.72
" style="fill: none; stroke: #000000; stroke-width: 1.7; stroke-linecap: square"/>
</g>
<g>
<text style="font-size: 11.5px; font-family: 'DejaVu Sans', 'Liberation Sans', sans-serif; text-anchor: middle" x="123.22" y="837.61" transform="rotate(-0 123.22 837.61)">-2.5</text>
</g>
</g>
<g>
<g>
<path d="M 150.43 813.72  L 149.25 816.44
" style="fill: none; stroke: #000000; stroke-width: 1.7; stroke-linecap: square"/>
</g>
<g>
<text style="font-size: 11.5px; font-family: 'DejaVu Sans', 'Liberation Sans', sans-serif; text-anchor: middle" x="146.81" y="840.38" transform="rotate(-0 146.81 840.38)">-2.0</text>
</g>
</g>
<g>
<g>
<path d="M 174.03 816.44  L 172.91 819.18
" style="fill: none; stroke: #000000; stroke-width: 1.7; stroke-linecap: square"/>
</g>
<g>
<text style="font-size: 11.5px; font-family: 'DejaVu Sans', 'Liberation Sans', sans-serif; text-anchor: middle" x="170.52" y="843.16" transform="rotate(-0 170.52 843.16)">-1.5</text>
</g>
</g>
<g>
<g>
<path d="M 197.75 819.18  L 196.69 821.93
" style="fill: none; stroke: #000000; stroke-width: 1.7; stroke-linecap: square"/>
</g>
<g>
<text style="font-size: 11.5px; font-family: 'DejaVu Sans', 'Liberation Sans', sans-serif; text-anchor: middle" x="194.35" y="845.96" transform="rotate(-0 194.35 845.96)">-1.0</text>
</g>
</g>
<g>
<g>
<path d="M 221.59 821.93  L 220.59 824.69
" style="fill: none; stroke: #000000; stroke-width: 1.7; stroke-linecap: square"/>
</g>
<g>
<text style="font-size: 11.5px; font-family: 'DejaVu Sans', 'Liberation Sans', sans-serif; text-anchor: middle" x="218.31" y="848.77" transform="rotate(-0 218.31 848.77)">-0.5</text>
</g>
</g>
<g>
<g>
<path d="M 245.56 824.69  L 244.61 827.47
" style="fill: none; stroke: #000000; stroke-width: 1.7; stroke-linecap: square"/>
</g>
<g>
<text style="font-size: 11.5px; font-family: 'DejaVu Sans', 'Liberation Sans', sans-serif; text-anchor: middle" x="242.38" y="851.60" transform="rotate(-0 242.38 851.60)">0.0</text>
</g>
</g>
<g>
<g transform="translate(134.68 854.20) rotate(-353.41)">
<text x="0" y="-0.89" style="font-size: 12px; font-family: 'DejaVu Sans', 'Liberation Sans', sans-serif"><tspan style="font-style: oblique">y</tspan> (m)</text>
</g>
</g>
</g>
<g>
<g>
<path d="M 53.15 803.44  L 47.40 659.92
" style="fill: none; stroke: #cccccc; stroke-width: 1.25; stroke-linecap: square"/>
</g>
<g>
<g>
<path d="M 53.36 796.06  L 51.94 798.71
" style="fill: none; stroke: #000000; stroke-width: 1.7; stroke-linecap: square"/>
</g>
<g>
<text style="font-size: 11.5px; font-family: 'DejaVu Sans', 'Liberation Sans', sans-serif; text-anchor: middle" x="34.83" y="811.55" transform="rotate(-0 34.83 811.55)">-2.0</text>
</g>
</g>
<g>
<g>
<path d="M 52.73 780.34  L 51.31 782.96
" style="fill: none; stroke: #000000; stroke-width: 1.7; stroke-linecap: square"/>
</g>
<g>
<text style="font-size: 11.5px; font-family: 'DejaVu Sans', 'Liberation Sans', sans-serif; text-anchor: middle" x="34.11" y="795.76" transform="rotate(-0 34.11 795.76)">-1.5</text>
</g>
</g>
<g>
<g>
<path d="M 52.10 764.46  L 50.67 767.06
" style="fill: none; stroke: #000000; stroke-width: 1.7; stroke-linecap: square"/>
</g>
<g>
<text style="font-size: 11.5px; font-family: 'DejaVu Sans', 'Liberation Sans', sans-serif; text-anchor: middle" x="33.38" y="779.81" transform="rotate(-0 33.38 779.81)">-1.0</text>
</g>
</g>
<g>
<g>
<path d="M 51.46 748.43  L 50.02 751.00
" style="fill: none; stroke: #000000; stroke-width: 1.7; stroke-linecap: square"/>
</g>
<g>
<text style="font-size: 11.5px; font-family: 'DejaVu Sans', 'Liberation Sans', sans-serif; text-anchor: middle" x="32.64" y="763.71" transform="rotate(-0 32.64 763.71)">-0.5</text>
</g>
</g>
<g>
<g>
<path d="M 50.81 732.24  L 49.36 734.78
" style="fill: none; stroke: #000000; stroke-width: 1.7; stroke-linecap: square"/>
</g>
<g>
<text style="font-size: 11.5px; font-family: 'DejaVu Sans', 'Liberation Sans', sans-serif; text-anchor: middle" x="31.90" y="747.44" transform="rotate(-0 31.90 747.44)">0.0</text>
</g>
</g>
<g>
<g>
<path d="M 50.16 715.88  L 48.70 718.39
" style="fill: none; stroke: #000000; stroke-width: 1.7; stroke-linecap: square"/>
</g>
<g>
<text style="font-size: 11.5px; font-family: 'DejaVu Sans', 'Liberation Sans', sans-serif; text-anchor: middle" x="31.14" y="731.01" transform="rotate(-0 31.14 731.01)">0.5</text>
</g>
</g>
<g>
<g>
<path d="M 49.50 699.36  L 48.04 701.84
" style="fill: none; stroke: #000000; stroke-width: 1.7; stroke-linecap: square"/>
</g>
<g>
<text style="font-size: 11.5px; font-family: 'DejaVu Sans', 'Liberation Sans', sans-serif; text-anchor: middle" x="30.38" y="714.41" transform="rotate(-0 30.38 714.41)">1.0</text>
</g>
</g>
<g>
<g>
<path d="M 48.84 682.67  L 47.36 685.12
" style="fill: none; stroke: #000000; stroke-width: 1.7; stroke-linecap: square"/>
</g>
<g>
<text style="font-size: 11.5px; font-family: 'DejaVu Sans', 'Liberation Sans', sans-serif; text-anchor: middle" x="29.62" y="697.65" transform="rotate(-0 29.62 697.65)">1.5</text>
</g>
</g>
<g>
<g>
<path d="M 48.16 665.81  L 46.68 668.23
" style="fill: none; stroke: #000000; stroke-width: 1.7; stroke-linecap: square"/>
</g>
<g>
<text style="font-size: 11.5px; font-family: 'DejaVu Sans', 'Liberation Sans', sans-serif; text-anchor: middle" x="28.84" y="680.71" transform="rotate(-0 28.84 680.71)">2.0</text>
</g>
</g>
<g>
<g transform="translate(6.06 730.11) rotate(-272.29)">
<text x="0" y="-0.89" style="font-size: 12px; font-family: 'DejaVu Sans', 'Liberation Sans', sans-serif"><tspan style="font-style: oblique">z</tspan> (m)</text>
</g>
</g>
</g>
<g/>

<g>
<g>
<path d="M 754.70 719.79  L 562.89 700.54  L 559.70 569.08  L 759.69 586.51
" style="fill: #f2f2f2; opacity: 0.42; stroke: #f2f2f2; stroke-linejoin: miter"/>
</g>
</g>
<g>
<g>
<path d="M 512.85 803.90  L 562.89 700.54  L 559.70 569.08  L 506.98 663.01
" style="fill: #e6e6e6; opacity: 0.42; stroke: #e6e6e6; stroke-linejoin: miter"/>
</g>
</g>
<g>
<g>
<path d="M 723.90 827.40  L 754.70 719.79  L 562.89 700.54  L 512.85 803.90
" style="fill: #ececec; opacity: 0.42; stroke: #ececec; stroke-linejoin: miter"/>
</g>
</g>
<g>
<g>
<path d="M 725.19 822.88  L 514.94 799.58  L 509.19 659.06
" style="fill: none; stroke: #c6c6c6; stroke-width: 1.05"/>
<path d="M 730.86 803.08  L 524.14 780.58  L 518.91 641.75
" style="fill: none; stroke: #c6c6c6; stroke-width: 1.05"/>
<path d="M 736.33 783.97  L 533.02 762.24  L 528.28 625.05
" style="fill: none; stroke: #c6c6c6; stroke-width: 1.05"/>
<path d="M 741.61 765.51  L 541.60 744.50  L 537.33 608.94
" style="fill: none; stroke: #c6c6c6; stroke-width: 1.05"/>
<path d="M 746.72 747.67  L 549.90 727.36  L 546.06 593.38
" style="fill: none; stroke: #c6c6c6; stroke-width: 1.05"/>
<path d="M 751.66 730.41  L 557.94 710.76  L 554.50 578.34
" style="fill: none; stroke: #c6c6c6; stroke-width: 1.05"/>
</g>
</g>
<g>
<g>
<path d="M 732.00 584.10  L 728.16 717.12  L 694.64 824.14
" style="fill: none; stroke: #c6c6c6; stroke-width: 1.05"/>
<path d="M 697.47 581.09  L 695.06 713.80  L 658.18 820.08
" style="fill: none; stroke: #c6c6c6; stroke-width: 1.05"/>
<path d="M 663.17 578.10  L 662.17 710.50  L 621.98 816.05
" style="fill: none; stroke: #c6c6c6; stroke-width: 1.05"/>
<path d="M 629.11 575.13  L 629.50 707.22  L 586.04 812.05
" style="fill: none; stroke: #c6c6c6; stroke-width: 1.05"/>
<path d="M 595.28 572.18  L 597.03 703.96  L 550.36 808.08
" style="fill: none; stroke: #c6c6c6; stroke-width: 1.05"/>
<path d="M 561.67 569.25  L 564.78 700.73  L 514.93 804.13
" style="fill: none; stroke: #c6c6c6; stroke-width: 1.05"/>
</g>
</g>
<g>
<g>
<path d="M 512.04 784.56  L 562.45 682.42  L 755.39 701.43
" style="fill: none; stroke: #c6c6c6; stroke-width: 1.05"/>
<path d="M 511.05 760.84  L 561.91 660.23  L 756.23 678.95
" style="fill: none; stroke: #c6c6c6; stroke-width: 1.05"/>
<path d="M 510.05 736.74  L 561.36 637.73  L 757.08 656.14
" style="fill: none; stroke: #c6c6c6; stroke-width: 1.05"/>
<path d="M 509.03 712.26  L 560.81 614.90  L 757.95 632.99
" style="fill: none; stroke: #c6c6c6; stroke-width: 1.05"/>
<path d="M 507.99 687.39  L 560.25 591.75  L 758.83 609.51
" style="fill: none; stroke: #c6c6c6; stroke-width: 1.05"/>
</g>
</g>
<g>
<g>
<path d="M 754.70 719.79  L 723.90 827.40
" style="fill: none; stroke: #cccccc; stroke-width: 1.25; stroke-linecap: square"/>
</g>
<g>
<g>
<path d="M 723.47 822.69  L 728.62 823.26
" style="fill: none; stroke: #000000; stroke-width: 1.7; stroke-linecap: square"/>
</g>
<g>
<text style="font-size: 11.5px; font-family: 'DejaVu Sans', 'Liberation Sans', sans-serif; text-anchor: middle" x="739.46" y="842.45" transform="rotate(-0 739.46 842.45)">-2</text>
</g>
</g>
<g>
<g>
<path d="M 729.17 802.90  L 734.23 803.45
" style="fill: none; stroke: #000000; stroke-width: 1.7; stroke-linecap: square"/>
</g>
<g>
<text style="font-size: 11.5px; font-family: 'DejaVu Sans', 'Liberation Sans', sans-serif; text-anchor: middle" x="744.87" y="822.48" transform="rotate(-0 744.87 822.48)">-1</text>
</g>
</g>
<g>
<g>
<path d="M 734.67 783.79  L 739.65 784.32
" style="fill: none; stroke: #000000; stroke-width: 1.7; stroke-linecap: square"/>
</g>
<g>
<text style="font-size: 11.5px; font-family: 'DejaVu Sans', 'Liberation Sans', sans-serif; text-anchor: middle" x="750.09" y="803.22" transform="rotate(-0 750.09 803.22)">0</text>
</g>
</g>
<g>
<g>
<path d="M 739.98 765.33  L 744.88 765.85
" style="fill: none; stroke: #000000; stroke-width: 1.7; stroke-linecap: square"/>
</g>
<g>
<text style="font-size: 11.5px; font-family: 'DejaVu Sans', 'Liberation Sans', sans-serif; text-anchor: middle" x="755.13" y="784.60" transform="rotate(-0 755.13 784.60)">1</text>
</g>
</g>
<g>
<g>
<path d="M 745.11 747.50  L 749.93 748.00
" style="fill: none; stroke: #000000; stroke-width: 1.7; stroke-linecap: square"/>
</g>
<g>
<text style="font-size: 11.5px; font-family: 'DejaVu Sans', 'Liberation Sans', sans-serif; text-anchor: middle" x="760.00" y="766.62" transform="rotate(-0 760.00 766.62)">2</text>
</g>
</g>
<g>
<g>
<path d="M 750.08 730.25  L 754.82 730.74
" style="fill: none; stroke: #000000; stroke-width: 1.7; stroke-linecap: square"/>
</g>
<g>
<text style="font-size: 11.5px; font-family: 'DejaVu Sans', 'Liberation Sans', sans-serif; text-anchor: middle" x="764.71" y="749.22" transform="rotate(-0 764.71 749.22)">3</text>
</g>
</g>
<g>
<g transform="translate(768.33 809.78) rotate(-74.02)">
<text x="0" y="-0.89" style="font-size: 12px; font-family: 'DejaVu Sans', 'Liberation Sans', sans-serif"><tspan style="font-style: oblique">x</tspan> (m)</text>
</g>
</g>
</g>
<g>
<g>
<path d="M 512.85 803.90  L 723.90 827.40
" style="fill: none; stroke: #cccccc; stroke-width: 1.25; stroke-linecap: square"/>
</g>
<g>
<g>
<path d="M 694.94 823.19  L 694.05 826.04
" style="fill: none; stroke: #000000; stroke-width: 1.7; stroke-linecap: square"/>
</g>
<g>
<text style="font-size: 11.5px; font-family: 'DejaVu Sans', 'Liberation Sans', sans-serif; text-anchor: middle" x="691.95" y="850.21" transform="rotate(-0 691.95 850.21)">-4</text>
</g>
</g>
<g>
<g>
<path d="M 658.51 819.14  L 657.53 821.96
" style="fill: none; stroke: #000000; stroke-width: 1.7; stroke-linecap: square"/>
</g>
<g>
<text style="font-size: 11.5px; font-family: 'DejaVu Sans', 'Liberation Sans', sans-serif; text-anchor: middle" x="655.34" y="846.07" transform="rotate(-0 655.34 846.07)">-3</text>
</g>
</g>
<g>
<g>
<path d="M 622.33 815.12  L 621.27 817.92
" style="fill: none; stroke: #000000; stroke-width: 1.7; stroke-linecap: square"/>
</g>
<g>
<text style="font-size: 11.5px; font-family: 'DejaVu Sans', 'Liberation Sans', sans-serif; text-anchor: middle" x="619.01" y="841.96" transform="rotate(-0 619.01 841.96)">-2</text>
</g>
</g>
<g>
<g>
<path d="M 586.42 811.12  L 585.27 813.91
" style="fill: none; stroke: #000000; stroke-width: 1.7; stroke-linecap: square"/>
</g>
<g>
<text style="font-size: 11.5px; font-family: 'DejaVu Sans', 'Liberation Sans', sans-serif; text-anchor: middle" x="582.93" y="837.88" transform="rotate(-0 582.93 837.88)">-1</text>
</g>
</g>
<g>
<g>
<path d="M 550.77 807.16  L 549.53 809.92
" style="fill: none; stroke: #000000; stroke-width: 1.7; stroke-linecap: square"/>
</g>
<g>
<text style="font-size: 11.5px; font-family: 'DejaVu Sans', 'Liberation Sans', sans-serif; text-anchor: middle" x="547.12" y="833.83" transform="rotate(-0 547.12 833.83)">0</text>
</g>
</g>
<g>
<g>
<path d="M 515.37 803.22  L 514.05 805.96
" style="fill: none; stroke: #000000; stroke-width: 1.7; stroke-linecap: square"/>
</g>
<g>
<text style="font-size: 11.5px; font-family: 'DejaVu Sans', 'Liberation Sans', sans-serif; text-anchor: middle" x="511.56" y="829.81" transform="rotate(-0 511.56 829.81)">1</text>
</g>
</g>
<g>
<g transform="translate(594.44 854.52) rotate(-353.64)">
<text x="0" y="-0.89" style="font-size: 12px; font-family: 'DejaVu Sans', 'Liberation Sans', sans-serif"><tspan style="font-style: oblique">y</tspan> (m)</text>
</g>
</g>
</g>
<g>
<g>
<path d="M 512.85 803.90  L 506.98 663.01
" style="fill: none; stroke: #cccccc; stroke-width: 1.25; stroke-linecap: square"/>
</g>
<g>
<g>
<path d="M 512.49 783.66  L 511.15 786.37
" style="fill: none; stroke: #000000; stroke-width: 1.7; stroke-linecap: square"/>
</g>
<g>
<text style="font-size: 11.5px; font-family: 'DejaVu Sans', 'Liberation Sans', sans-serif; text-anchor: middle" x="494.06" y="799.44" transform="rotate(-0 494.06 799.44)">-2</text>
</g>
</g>
<g>
<g>
<path d="M 511.50 759.95  L 510.15 762.62
" style="fill: none; stroke: #000000; stroke-width: 1.7; stroke-linecap: square"/>
</g>
<g>
<text style="font-size: 11.5px; font-family: 'DejaVu Sans', 'Liberation Sans', sans-serif; text-anchor: middle" x="492.92" y="775.63" transform="rotate(-0 492.92 775.63)">-1</text>
</g>
</g>
<g>
<g>
<path d="M 510.50 735.87  L 509.14 738.50
" style="fill: none; stroke: #000000; stroke-width: 1.7; stroke-linecap: square"/>
</g>
<g>
<text style="font-size: 11.5px; font-family: 'DejaVu Sans', 'Liberation Sans', sans-serif; text-anchor: middle" x="491.77" y="751.44" transform="rotate(-0 491.77 751.44)">0</text>
</g>
</g>
<g>
<g>
<path d="M 509.49 711.40  L 508.11 713.99
" style="fill: none; stroke: #000000; stroke-width: 1.7; stroke-linecap: square"/>
</g>
<g>
<text style="font-size: 11.5px; font-family: 'DejaVu Sans', 'Liberation Sans', sans-serif; text-anchor: middle" x="490.60" y="726.87" transform="rotate(-0 490.60 726.87)">1</text>
</g>
</g>
<g>
<g>
<path d="M 508.45 686.55  L 507.06 689.09
" style="fill: none; stroke: #000000; stroke-width: 1.7; stroke-linecap: square"/>
</g>
<g>
<text style="font-size: 11.5px; font-family: 'DejaVu Sans', 'Liberation Sans', sans-serif; text-anchor: middle" x="489.41" y="701.90" transform="rotate(-0 489.41 701.90)">2</text>
</g>
</g>
<g>
<g transform="translate(465.99 732.66) rotate(-272.38)">
<text x="0" y="-0.89" style="font-size: 12px; font-family: 'DejaVu Sans', 'Liberation Sans', sans-serif"><tspan style="font-style: oblique">z</tspan> (m)</text>
</g>
</g>
</g>
<g/>

<g>
<g>
<path d="M 1218.07 798.66  L 1161.50 708.51  L 1164.11 574.13  L 1223.26 652.99
" style="fill: #f2f2f2; opacity: 0.42; stroke: #f2f2f2; stroke-linejoin: miter"/>
</g>
</g>
<g>
<g>
<path d="M 971.91 728.23  L 1161.50 708.51  L 1164.11 574.13  L 967.49 591.33
" style="fill: #e6e6e6; opacity: 0.42; stroke: #e6e6e6; stroke-linejoin: miter"/>
</g>
</g>
<g>
<g>
<path d="M 1009.15 822.88  L 1218.07 798.66  L 1161.50 708.51  L 971.91 728.23
" style="fill: #ececec; opacity: 0.42; stroke: #ececec; stroke-linejoin: miter"/>
</g>
</g>
<g>
<g>
<path d="M 1048.34 818.34  L 1007.40 724.54  L 1004.32 588.11
" style="fill: none; stroke: #c6c6c6; stroke-width: 1.05"/>
<path d="M 1090.24 813.48  L 1045.39 720.59  L 1043.73 584.66
" style="fill: none; stroke: #c6c6c6; stroke-width: 1.05"/>
<path d="M 1131.72 808.67  L 1083.02 716.67  L 1082.76 581.25
" style="fill: none; stroke: #c6c6c6; stroke-width: 1.05"/>
<path d="M 1172.78 803.91  L 1120.32 712.80  L 1121.43 577.87
" style="fill: none; stroke: #c6c6c6; stroke-width: 1.05"/>
<path d="M 1213.42 799.20  L 1157.27 708.95  L 1159.73 574.52
" style="fill: none; stroke: #c6c6c6; stroke-width: 1.05"/>
</g>
</g>
<g>
<g>
<path d="M 1217.67 645.53  L 1212.74 790.16  L 1005.63 813.94
" style="fill: none; stroke: #c6c6c6; stroke-width: 1.05"/>
<path d="M 1205.49 629.30  L 1201.12 771.65  L 997.97 794.48
" style="fill: none; stroke: #c6c6c6; stroke-width: 1.05"/>
<path d="M 1193.81 613.73  L 1189.97 753.87  L 990.63 775.80
" style="fill: none; stroke: #c6c6c6; stroke-width: 1.05"/>
<path d="M 1182.60 598.79  L 1179.24 736.77  L 983.57 757.85
" style="fill: none; stroke: #c6c6c6; stroke-width: 1.05"/>
<path d="M 1171.83 584.43  L 1168.91 720.32  L 976.78 740.60
" style="fill: none; stroke: #c6c6c6; stroke-width: 1.05"/>
</g>
</g>
<g>
<g>
<path d="M 971.54 716.58  L 1161.72 697.07  L 1218.51 786.30
" style="fill: none; stroke: #c6c6c6; stroke-width: 1.05"/>
<path d="M 970.68 690.01  L 1162.23 670.98  L 1219.52 758.09
" style="fill: none; stroke: #c6c6c6; stroke-width: 1.05"/>
<path d="M 969.81 663.06  L 1162.74 644.51  L 1220.54 729.43
" style="fill: none; stroke: #c6c6c6; stroke-width: 1.05"/>
<path d="M 968.93 635.71  L 1163.26 617.67  L 1221.58 700.31
" style="fill: none; stroke: #c6c6c6; stroke-width: 1.05"/>
<path d="M 968.03 607.95  L 1163.79 590.44  L 1222.63 670.73
" style="fill: none; stroke: #c6c6c6; stroke-width: 1.05"/>
</g>
</g>
<g>
<g>
<path d="M 1218.07 798.66  L 1009.15 822.88
" style="fill: none; stroke: #cccccc; stroke-width: 1.25; stroke-linecap: square"/>
</g>
<g>
<g>
<path d="M 1047.97 817.51  L 1049.07 820.01
" style="fill: none; stroke: #000000; stroke-width: 1.7; stroke-linecap: square"/>
</g>
<g>
<text style="font-size: 11.5px; font-family: 'DejaVu Sans', 'Liberation Sans', sans-serif; text-anchor: middle" x="1051.57" y="843.97" transform="rotate(-0 1051.57 843.97)">-1</text>
</g>
</g>
<g>
<g>
<path d="M 1089.84 812.66  L 1091.04 815.13
" style="fill: none; stroke: #000000; stroke-width: 1.7; stroke-linecap: square"/>
</g>
<g>
<text style="font-size: 11.5px; font-family: 'DejaVu Sans', 'Liberation Sans', sans-serif; text-anchor: middle" x="1093.65" y="839.00" transform="rotate(-0 1093.65 839.00)">0</text>
</g>
</g>
<g>
<g>
<path d="M 1131.29 807.86  L 1132.58 810.31
" style="fill: none; stroke: #000000; stroke-width: 1.7; stroke-linecap: square"/>
</g>
<g>
<text style="font-size: 11.5px; font-family: 'DejaVu Sans', 'Liberation Sans', sans-serif; text-anchor: middle" x="1135.31" y="834.08" transform="rotate(-0 1135.31 834.08)">1</text>
</g>
</g>
<g>
<g>
<path d="M 1172.31 803.11  L 1173.71 805.53
" style="fill: none; stroke: #000000; stroke-width: 1.7; stroke-linecap: square"/>
</g>
<g>
<text style="font-size: 11.5px; font-family: 'DejaVu Sans', 'Liberation Sans', sans-serif; text-anchor: middle" x="1176.54" y="829.21" transform="rotate(-0 1176.54 829.21)">2</text>
</g>
</g>
<g>
<g>
<path d="M 1212.93 798.40  L 1214.42 800.80
" style="fill: none; stroke: #000000; stroke-width: 1.7; stroke-linecap: square"/>
</g>
<g>
<text style="font-size: 11.5px; font-family: 'DejaVu Sans', 'Liberation Sans', sans-serif; text-anchor: middle" x="1217.36" y="824.40" transform="rotate(-0 1217.36 824.40)">3</text>
</g>
</g>
<g>
<g transform="translate(1107.11 852.29) rotate(-6.61)">
<text x="0" y="-0.89" style="font-size: 12px; font-family: 'DejaVu Sans', 'Liberation Sans', sans-serif"><tspan style="font-style: oblique">x</tspan> (m)</text>
</g>
</g>
</g>
<g>
<g>
<path d="M 971.91 728.23  L 1009.15 822.88
" style="fill: none; stroke: #cccccc; stroke-width: 1.25; stroke-linecap: square"/>
</g>
<g>
<g>
<path d="M 1007.33 813.74  L 1002.23 814.33
" style="fill: none; stroke: #000000; stroke-width: 1.7; stroke-linecap: square"/>
</g>
<g>
<text style="font-size: 11.5px; font-family: 'DejaVu Sans', 'Liberation Sans', sans-serif; text-anchor: middle" x="991.37" y="834.00" transform="rotate(-0 991.37 834.00)">-4</text>
</g>
</g>
<g>
<g>
<path d="M 999.64 794.29  L 994.64 794.85
" style="fill: none; stroke: #000000; stroke-width: 1.7; stroke-linecap: square"/>
</g>
<g>
<text style="font-size: 11.5px; font-family: 'DejaVu Sans', 'Liberation Sans', sans-serif; text-anchor: middle" x="984.02" y="814.33" transform="rotate(-0 984.02 814.33)">-3</text>
</g>
</g>
<g>
<g>
<path d="M 992.26 775.62  L 987.36 776.16
" style="fill: none; stroke: #000000; stroke-width: 1.7; stroke-linecap: square"/>
</g>
<g>
<text style="font-size: 11.5px; font-family: 'DejaVu Sans', 'Liberation Sans', sans-serif; text-anchor: middle" x="976.95" y="795.44" transform="rotate(-0 976.95 795.44)">-2</text>
</g>
</g>
<g>
<g>
<path d="M 985.17 757.68  L 980.36 758.20
" style="fill: none; stroke: #000000; stroke-width: 1.7; stroke-linecap: square"/>
</g>
<g>
<text style="font-size: 11.5px; font-family: 'DejaVu Sans', 'Liberation Sans', sans-serif; text-anchor: middle" x="970.17" y="777.30" transform="rotate(-0 970.17 777.30)">-1</text>
</g>
</g>
<g>
<g>
<path d="M 978.36 740.44  L 973.63 740.94
" style="fill: none; stroke: #000000; stroke-width: 1.7; stroke-linecap: square"/>
</g>
<g>
<text style="font-size: 11.5px; font-family: 'DejaVu Sans', 'Liberation Sans', sans-serif; text-anchor: middle" x="963.65" y="759.86" transform="rotate(-0 963.65 759.86)">0</text>
</g>
</g>
<g>
<g transform="translate(951.03 783.01) rotate(-291.47)">
<text x="0" y="-0.89" style="font-size: 12px; font-family: 'DejaVu Sans', 'Liberation Sans', sans-serif"><tspan style="font-style: oblique">y</tspan> (m)</text>
</g>
</g>
</g>
<g>
<g>
<path d="M 971.91 728.23  L 967.49 591.33
" style="fill: none; stroke: #cccccc; stroke-width: 1.25; stroke-linecap: square"/>
</g>
<g>
<g>
<path d="M 973.10 716.42  L 968.42 716.90
" style="fill: none; stroke: #000000; stroke-width: 1.7; stroke-linecap: square"/>
</g>
<g>
<text style="font-size: 11.5px; font-family: 'DejaVu Sans', 'Liberation Sans', sans-serif; text-anchor: middle" x="956.04" y="720.94" transform="rotate(-0 956.04 720.94)">-2</text>
</g>
</g>
<g>
<g>
<path d="M 972.25 689.86  L 967.54 690.33
" style="fill: none; stroke: #000000; stroke-width: 1.7; stroke-linecap: square"/>
</g>
<g>
<text style="font-size: 11.5px; font-family: 'DejaVu Sans', 'Liberation Sans', sans-serif; text-anchor: middle" x="955.07" y="694.48" transform="rotate(-0 955.07 694.48)">-1</text>
</g>
</g>
<g>
<g>
<path d="M 971.39 662.91  L 966.65 663.36
" style="fill: none; stroke: #000000; stroke-width: 1.7; stroke-linecap: square"/>
</g>
<g>
<text style="font-size: 11.5px; font-family: 'DejaVu Sans', 'Liberation Sans', sans-serif; text-anchor: middle" x="954.09" y="667.64" transform="rotate(-0 954.09 667.64)">0</text>
</g>
</g>
<g>
<g>
<path d="M 970.52 635.56  L 965.74 636.00
" style="fill: none; stroke: #000000; stroke-width: 1.7; stroke-linecap: square"/>
</g>
<g>
<text style="font-size: 11.5px; font-family: 'DejaVu Sans', 'Liberation Sans', sans-serif; text-anchor: middle" x="953.10" y="640.40" transform="rotate(-0 953.10 640.40)">1</text>
</g>
</g>
<g>
<g>
<path d="M 969.63 607.81  L 964.82 608.24
" style="fill: none; stroke: #000000; stroke-width: 1.7; stroke-linecap: square"/>
</g>
<g>
<text style="font-size: 11.5px; font-family: 'DejaVu Sans', 'Liberation Sans', sans-serif; text-anchor: middle" x="952.09" y="612.76" transform="rotate(-0 952.09 612.76)">2</text>
</g>
</g>
<g>
<g transform="translate(931.95 636.58) rotate(-271.85)">
<text x="0" y="-0.89" style="font-size: 12px; font-family: 'DejaVu Sans', 'Liberation Sans', sans-serif"><tspan style="font-style: oblique">z</tspan> (m)</text>
</g>
</g>
</g>
<g/>

</g>
<text x="72.00" y="16.70" text-anchor="middle" font-family="'DejaVu Sans', 'Liberation Sans', sans-serif" font-size="4.97" fill="#000">Error mapped onto trajectory</text>
<defs><linearGradient id="jet" x1="0" y1="0" x2="0" y2="1"><stop offset="0.0000" stop-color="#800000"/><stop offset="0.0312" stop-color="#9f0000"/><stop offset="0.0625" stop-color="#c40000"/><stop offset="0.0938" stop-color="#e80000"/><stop offset="0.1250" stop-color="#ff1e00"/><stop offset="0.1562" stop-color="#ff3b00"/><stop offset="0.1875" stop-color="#ff5900"/><stop offset="0.2188" stop-color="#ff7700"/><stop offset="0.2500" stop-color="#ff9400"/><stop offset="0.2812" stop-color="#ffb200"/><stop offset="0.3125" stop-color="#ffd000"/><stop offset="0.3438" stop-color="#feed00"/><stop offset="0.3750" stop-color="#e4ff13"/><stop offset="0.4062" stop-color="#caff2c"/><stop offset="0.4375" stop-color="#b1ff46"/><stop offset="0.4688" stop-color="#97ff60"/><stop offset="0.5000" stop-color="#7dff7a"/><stop offset="0.5312" stop-color="#63ff94"/><stop offset="0.5625" stop-color="#49ffad"/><stop offset="0.5938" stop-color="#30ffc7"/><stop offset="0.6250" stop-color="#16ffe1"/><stop offset="0.6562" stop-color="#00e0fb"/><stop offset="0.6875" stop-color="#00c0ff"/><stop offset="0.7188" stop-color="#00a0ff"/><stop offset="0.7500" stop-color="#0080ff"/><stop offset="0.7812" stop-color="#0060ff"/><stop offset="0.8125" stop-color="#0040ff"/><stop offset="0.8438" stop-color="#0020ff"/><stop offset="0.8750" stop-color="#0000ff"/><stop offset="0.9062" stop-color="#0000ed"/><stop offset="0.9375" stop-color="#0000c8"/><stop offset="0.9688" stop-color="#0000a4"/><stop offset="1.0000" stop-color="#000080"/></linearGradient></defs><rect x="147.90" y="4.65" width="7.95" height="162.65" fill="url(#jet)"/><path d="M156.15 4.65h2.3" stroke="#222" stroke-width="0.6" fill="none"/><text x="159.80" y="6.70" font-family="'DejaVu Sans', 'Liberation Sans', sans-serif" font-size="4.7" fill="#000">0.085</text><path d="M156.15 85.98h2.3" stroke="#222" stroke-width="0.6" fill="none"/><text x="159.80" y="88.03" font-family="'DejaVu Sans', 'Liberation Sans', sans-serif" font-size="4.7" fill="#000">0.043</text><path d="M156.15 167.30h2.3" stroke="#222" stroke-width="0.6" fill="none"/><text x="159.80" y="169.35" font-family="'DejaVu Sans', 'Liberation Sans', sans-serif" font-size="4.7" fill="#000">0.001</text>
<text x="258.30" y="16.70" text-anchor="middle" font-family="'DejaVu Sans', 'Liberation Sans', sans-serif" font-size="4.97" fill="#000">Error mapped onto trajectory</text>
<rect x="334.20" y="4.65" width="7.95" height="162.65" fill="url(#jet)"/><path d="M342.45 4.65h2.3" stroke="#222" stroke-width="0.6" fill="none"/><text x="346.10" y="6.70" font-family="'DejaVu Sans', 'Liberation Sans', sans-serif" font-size="4.7" fill="#000">0.096</text><path d="M342.45 85.98h2.3" stroke="#222" stroke-width="0.6" fill="none"/><text x="346.10" y="88.03" font-family="'DejaVu Sans', 'Liberation Sans', sans-serif" font-size="4.7" fill="#000">0.050</text><path d="M342.45 167.30h2.3" stroke="#222" stroke-width="0.6" fill="none"/><text x="346.10" y="169.35" font-family="'DejaVu Sans', 'Liberation Sans', sans-serif" font-size="4.7" fill="#000">0.004</text>
<text x="444.80" y="16.70" text-anchor="middle" font-family="'DejaVu Sans', 'Liberation Sans', sans-serif" font-size="4.97" fill="#000">Error mapped onto trajectory</text>
<rect x="520.40" y="4.65" width="7.95" height="162.65" fill="url(#jet)"/><path d="M528.65 4.65h2.3" stroke="#222" stroke-width="0.6" fill="none"/><text x="532.30" y="6.70" font-family="'DejaVu Sans', 'Liberation Sans', sans-serif" font-size="4.7" fill="#000">0.099</text><path d="M528.65 85.98h2.3" stroke="#222" stroke-width="0.6" fill="none"/><text x="532.30" y="88.03" font-family="'DejaVu Sans', 'Liberation Sans', sans-serif" font-size="4.7" fill="#000">0.052</text><path d="M528.65 167.30h2.3" stroke="#222" stroke-width="0.6" fill="none"/><text x="532.30" y="169.35" font-family="'DejaVu Sans', 'Liberation Sans', sans-serif" font-size="4.7" fill="#000">0.005</text>
<text x="72.00" y="215.50" text-anchor="middle" font-family="'DejaVu Sans', 'Liberation Sans', sans-serif" font-size="4.97" fill="#000">Error mapped onto trajectory</text>
<rect x="147.90" y="203.75" width="7.95" height="162.75" fill="url(#jet)"/><path d="M156.15 203.75h2.3" stroke="#222" stroke-width="0.6" fill="none"/><text x="159.80" y="205.80" font-family="'DejaVu Sans', 'Liberation Sans', sans-serif" font-size="4.7" fill="#000">0.187</text><path d="M156.15 285.12h2.3" stroke="#222" stroke-width="0.6" fill="none"/><text x="159.80" y="287.18" font-family="'DejaVu Sans', 'Liberation Sans', sans-serif" font-size="4.7" fill="#000">0.094</text><path d="M156.15 366.50h2.3" stroke="#222" stroke-width="0.6" fill="none"/><text x="159.80" y="368.55" font-family="'DejaVu Sans', 'Liberation Sans', sans-serif" font-size="4.7" fill="#000">0.000</text>
<text x="258.30" y="215.50" text-anchor="middle" font-family="'DejaVu Sans', 'Liberation Sans', sans-serif" font-size="4.97" fill="#000">Error mapped onto trajectory</text>
<rect x="334.20" y="203.75" width="7.95" height="162.75" fill="url(#jet)"/><path d="M342.45 203.75h2.3" stroke="#222" stroke-width="0.6" fill="none"/><text x="346.10" y="205.80" font-family="'DejaVu Sans', 'Liberation Sans', sans-serif" font-size="4.7" fill="#000">0.188</text><path d="M342.45 285.12h2.3" stroke="#222" stroke-width="0.6" fill="none"/><text x="346.10" y="287.18" font-family="'DejaVu Sans', 'Liberation Sans', sans-serif" font-size="4.7" fill="#000">0.094</text><path d="M342.45 366.50h2.3" stroke="#222" stroke-width="0.6" fill="none"/><text x="346.10" y="368.55" font-family="'DejaVu Sans', 'Liberation Sans', sans-serif" font-size="4.7" fill="#000">0.000</text>
<text x="444.80" y="215.50" text-anchor="middle" font-family="'DejaVu Sans', 'Liberation Sans', sans-serif" font-size="4.97" fill="#000">Error mapped onto trajectory</text>
<rect x="520.40" y="203.75" width="7.95" height="162.75" fill="url(#jet)"/><path d="M528.65 203.75h2.3" stroke="#222" stroke-width="0.6" fill="none"/><text x="532.30" y="205.80" font-family="'DejaVu Sans', 'Liberation Sans', sans-serif" font-size="4.7" fill="#000">0.282</text><path d="M528.65 285.12h2.3" stroke="#222" stroke-width="0.6" fill="none"/><text x="532.30" y="287.18" font-family="'DejaVu Sans', 'Liberation Sans', sans-serif" font-size="4.7" fill="#000">0.141</text><path d="M528.65 366.50h2.3" stroke="#222" stroke-width="0.6" fill="none"/><text x="532.30" y="368.55" font-family="'DejaVu Sans', 'Liberation Sans', sans-serif" font-size="4.7" fill="#000">0.000</text>
<path d="M35.10 89.50L35.10 87.70L36.50 83.40L39.50 79.70L43.80 76.10L48.90 73.20L54.70 70.70L61.30 68.80L67.80 67.50L75.10 66.60L82.40 66.20L89.60 66.30L95.90 67.00L101.40 68.20L105.90 69.40L109.50 70.60L112.30 72.10L113.90 73.60L114.30 75.20L113.40 76.60L112.10 77.70L111.50 79.50L110.00 80.70L106.80 82.70L103.20 85.00L99.50 87.50L96.80 89.70L91.10 94.00L85.30 97.90L80.20 100.80L75.10 102.70L69.30 103.70L62.00 104.00L54.70 103.30L47.50 101.80L41.60 99.40L37.30 95.70L35.10 91.40L35.10 89.50" fill="none" stroke="#777" stroke-width="1.3" stroke-dasharray="2.2 1.0" stroke-opacity="0.5"/>
<path d="M283.00 106.00L284.00 102.40L285.50 96.50L286.90 90.70L288.40 84.90L289.80 79.10L291.00 73.30L292.00 68.90L292.00 66.30L290.50 63.40L287.60 61.20L284.00 60.20L278.20 60.20L272.40 60.90L266.50 62.40L260.70 64.50L254.90 67.50L249.10 70.80L244.00 74.00L239.60 77.30L236.00 80.30L233.40 83.50L231.60 87.10L230.90 90.70L230.40 94.80L228.60 98.30L226.50 100.80L228.00 103.60L231.60 105.70L237.50 107.10L243.30 108.60L249.10 110.00L254.90 111.90L260.70 113.80L265.10 115.10L268.70 115.50L272.40 114.80L276.70 113.70L279.60 112.30L281.10 109.70L282.30 105.40L283.00 102.50" fill="none" stroke="#777" stroke-width="1.3" stroke-dasharray="2.2 1.0" stroke-opacity="0.5"/>
<path d="M404.90 69.60L405.90 68.60L408.80 67.70L412.50 68.90L416.10 68.20L424.10 66.40L432.80 64.80L441.50 63.10L450.30 61.60L459.00 60.20L466.30 59.00L469.90 58.70L472.60 60.00L474.70 63.50L477.70 71.80L481.40 79.10L485.00 86.40L488.60 92.90L491.50 98.00L491.80 100.20L489.40 100.90L486.50 99.50L483.50 98.70L478.50 99.50L471.20 100.90L462.50 102.90L453.70 104.90L447.40 106.60L438.60 108.60L429.90 110.30L424.10 111.30L421.20 110.80L419.00 109.10L417.50 104.70L415.40 98.50L412.80 91.00L411.00 86.50L408.80 81.00L406.60 76.20L404.90 71.10L404.90 69.60" fill="none" stroke="#777" stroke-width="1.3" stroke-dasharray="2.2 1.0" stroke-opacity="0.5"/>
<g fill="none" stroke-width="0.98" stroke-linecap="butt"><path d="M35.10 89.62L35.10 88.78" stroke="#0074e5"/><path d="M35.10 89.02L35.10 88.18" stroke="#0074e5"/><path d="M35.10 88.42L35.10 87.58" stroke="#0074e5"/><path d="M35.06 87.81L35.32 87.02" stroke="#003fdb"/><path d="M35.25 87.24L35.51 86.45" stroke="#0005ba"/><path d="M35.43 86.67L35.69 85.88" stroke="#0000a4"/><path d="M35.62 86.10L35.88 85.30" stroke="#0000a4"/><path d="M35.81 85.53L36.07 84.73" stroke="#074cb1"/><path d="M35.99 84.96L36.25 84.16" stroke="#10bfc4"/><path d="M36.18 84.39L36.44 83.59" stroke="#14e5ca"/><path d="M36.34 83.81L36.73 83.08" stroke="#0aa7d8"/><path d="M36.60 83.28L37.13 82.63" stroke="#738d73"/><path d="M36.98 82.81L37.50 82.16" stroke="#e5b100"/><path d="M37.35 82.35L37.88 81.69" stroke="#e5b600"/><path d="M37.73 81.88L38.26 81.23" stroke="#9ad048"/><path d="M38.11 81.42L38.64 80.76" stroke="#4ee590"/><path d="M38.49 80.95L39.02 80.30" stroke="#4ee590"/><path d="M38.86 80.48L39.39 79.83" stroke="#83e55b"/><path d="M39.23 80.01L39.82 79.42" stroke="#b9e525"/><path d="M39.65 79.58L40.29 79.04" stroke="#b9e525"/><path d="M40.11 79.19L40.75 78.65" stroke="#b9e525"/><path d="M40.57 78.81L41.21 78.27" stroke="#c1e51d"/><path d="M41.03 78.42L41.67 77.88" stroke="#b1e52d"/><path d="M41.49 78.04L42.13 77.50" stroke="#8de552"/><path d="M41.95 77.65L42.59 77.11" stroke="#a1d13f"/><path d="M42.41 77.27L43.05 76.73" stroke="#d4b110"/><path d="M42.87 76.88L43.51 76.34" stroke="#c0af24"/><path d="M43.32 76.49L43.98 75.98" stroke="#4fa293"/><path d="M43.78 76.11L44.51 75.69" stroke="#0247e1"/><path d="M44.31 75.81L45.04 75.40" stroke="#0000e5"/><path d="M44.83 75.52L45.56 75.10" stroke="#0000e5"/><path d="M45.35 75.22L46.08 74.80" stroke="#0000e5"/><path d="M45.87 74.92L46.60 74.51" stroke="#0000e5"/><path d="M46.39 74.63L47.12 74.21" stroke="#0000e5"/><path d="M46.91 74.33L47.64 73.91" stroke="#0000e5"/><path d="M47.43 74.03L48.16 73.62" stroke="#0000e5"/><path d="M47.96 73.74L48.69 73.32" stroke="#0000e5"/><path d="M48.47 73.44L49.22 73.05" stroke="#1226d2"/><path d="M49.00 73.16L49.78 72.82" stroke="#489999"/><path d="M49.55 72.92L50.33 72.59" stroke="#6be573"/><path d="M50.11 72.68L50.88 72.35" stroke="#35daa9"/><path d="M50.66 72.44L51.43 72.11" stroke="#00abe2"/><path d="M51.21 72.21L51.98 71.87" stroke="#0089e5"/><path d="M51.76 71.97L52.53 71.64" stroke="#1bb7c7"/><path d="M52.31 71.73L53.08 71.40" stroke="#2dddb2"/><path d="M52.86 71.49L53.63 71.16" stroke="#12c5d1"/><path d="M53.41 71.26L54.18 70.92" stroke="#00b4e5"/><path d="M53.96 71.02L54.73 70.69" stroke="#05c8dc"/><path d="M54.51 70.77L55.31 70.52" stroke="#0bdcd3"/><path d="M55.08 70.59L55.89 70.36" stroke="#4ee190"/><path d="M55.66 70.42L56.46 70.19" stroke="#90e54e"/><path d="M56.23 70.26L57.04 70.03" stroke="#86e558"/><path d="M56.81 70.09L57.62 69.86" stroke="#76e568"/><path d="M57.39 69.93L58.19 69.69" stroke="#55e589"/><path d="M57.96 69.76L58.77 69.53" stroke="#2de5b1"/><path d="M58.54 69.59L59.35 69.36" stroke="#1fe5bf"/><path d="M59.12 69.43L59.92 69.20" stroke="#82d95f"/><path d="M59.69 69.26L60.50 69.03" stroke="#e5a400"/><path d="M60.27 69.10L61.08 68.86" stroke="#e56800"/><path d="M60.84 68.93L61.66 68.72" stroke="#e55400"/><path d="M61.42 68.78L62.25 68.61" stroke="#b9842a"/><path d="M62.01 68.66L62.84 68.49" stroke="#75cd6a"/><path d="M62.60 68.54L63.42 68.38" stroke="#75d86a"/><path d="M63.19 68.42L64.01 68.26" stroke="#b9ae2a"/><path d="M63.78 68.30L64.60 68.14" stroke="#e59300"/><path d="M64.36 68.19L65.19 68.02" stroke="#e59500"/><path d="M64.95 68.07L65.78 67.90" stroke="#e59800"/><path d="M65.54 67.95L66.36 67.79" stroke="#bfc022"/><path d="M66.13 67.83L66.95 67.67" stroke="#b3d82e"/><path d="M66.72 67.72L67.54 67.55" stroke="#d9c50b"/><path d="M67.30 67.60L68.13 67.45" stroke="#e5be00"/><path d="M67.89 67.49L68.73 67.39" stroke="#a3cb40"/><path d="M68.49 67.41L69.32 67.31" stroke="#40df9f"/><path d="M69.09 67.34L69.92 67.24" stroke="#2ae5b4"/><path d="M69.68 67.27L70.51 67.17" stroke="#4ae594"/><path d="M70.28 67.19L71.11 67.09" stroke="#5fe57f"/><path d="M70.87 67.12L71.70 67.02" stroke="#4fbf8e"/><path d="M71.47 67.05L72.30 66.95" stroke="#204cbb"/><path d="M72.06 66.97L72.90 66.87" stroke="#3a4ca1"/><path d="M72.66 66.90L73.49 66.80" stroke="#74a66b"/><path d="M73.25 66.83L74.09 66.73" stroke="#3a7fa9"/><path d="M73.85 66.75L74.68 66.65" stroke="#004ce5"/><path d="M74.44 66.68L75.28 66.58" stroke="#2e7fb5"/><path d="M75.04 66.60L75.88 66.56" stroke="#74cc6c"/><path d="M75.64 66.57L76.48 66.52" stroke="#a4e53a"/><path d="M76.24 66.54L77.07 66.49" stroke="#cae515"/><path d="M76.84 66.50L77.67 66.46" stroke="#d6e508"/><path d="M77.43 66.47L78.27 66.43" stroke="#a0e53e"/><path d="M78.03 66.44L78.87 66.39" stroke="#6be573"/><path d="M78.63 66.41L79.47 66.36" stroke="#70e56f"/><path d="M79.23 66.37L80.07 66.33" stroke="#85e559"/><path d="M79.83 66.34L80.67 66.29" stroke="#9de541"/><path d="M80.43 66.31L81.27 66.26" stroke="#a5e539"/><path d="M81.03 66.28L81.87 66.23" stroke="#82e55c"/><path d="M81.63 66.24L82.47 66.20" stroke="#53e58b"/><path d="M82.23 66.20L83.06 66.21" stroke="#53e58b"/><path d="M82.83 66.21L83.66 66.22" stroke="#5fe57f"/><path d="M83.42 66.21L84.26 66.23" stroke="#69e575"/><path d="M84.02 66.22L84.86 66.23" stroke="#73e56b"/><path d="M84.62 66.23L85.46 66.24" stroke="#81e55d"/><path d="M85.22 66.24L86.06 66.25" stroke="#a5e539"/><path d="M85.82 66.25L86.66 66.26" stroke="#99e545"/><path d="M86.42 66.26L87.26 66.27" stroke="#62e57c"/><path d="M87.02 66.26L87.86 66.28" stroke="#6ce572"/><path d="M87.62 66.27L88.46 66.28" stroke="#99e545"/><path d="M88.22 66.28L89.06 66.29" stroke="#70ac71"/><path d="M88.82 66.29L89.66 66.30" stroke="#1c57c8"/><path d="M89.42 66.29L90.26 66.37" stroke="#003ae5"/><path d="M90.02 66.35L90.85 66.44" stroke="#1b73c8"/><path d="M90.62 66.41L91.45 66.51" stroke="#43c99c"/><path d="M91.21 66.48L92.05 66.57" stroke="#36d9ab"/><path d="M91.81 66.55L92.64 66.64" stroke="#0dc6d7"/><path d="M92.40 66.61L93.24 66.70" stroke="#2bd2b7"/><path d="M93.00 66.68L93.84 66.77" stroke="#56e588"/><path d="M93.60 66.74L94.43 66.84" stroke="#6ed271"/><path d="M94.19 66.81L95.03 66.90" stroke="#abaa37"/><path d="M94.79 66.88L95.62 66.97" stroke="#a8be38"/><path d="M95.39 66.94L96.22 67.06" stroke="#62e57c"/><path d="M95.98 67.02L96.80 67.20" stroke="#42e59c"/><path d="M96.57 67.15L97.39 67.32" stroke="#49e595"/><path d="M97.15 67.27L97.97 67.45" stroke="#51e58e"/><path d="M97.74 67.40L98.56 67.58" stroke="#72e56c"/><path d="M98.32 67.53L99.14 67.71" stroke="#62dc7d"/><path d="M98.91 67.66L99.73 67.84" stroke="#2ed3b3"/><path d="M99.50 67.78L100.32 67.96" stroke="#55dc8b"/><path d="M100.08 67.91L100.90 68.09" stroke="#70e56f"/><path d="M100.67 68.04L101.49 68.22" stroke="#41e59d"/><path d="M101.26 68.16L102.07 68.38" stroke="#22e5bc"/><path d="M101.84 68.32L102.65 68.53" stroke="#34e5aa"/><path d="M102.42 68.47L103.23 68.69" stroke="#6ce572"/><path d="M102.99 68.63L103.81 68.84" stroke="#82e55c"/><path d="M103.57 68.78L104.39 69.00" stroke="#58e586"/><path d="M104.15 68.93L104.97 69.15" stroke="#3ce5a2"/><path d="M104.73 69.09L105.55 69.31" stroke="#56e588"/><path d="M105.31 69.24L106.12 69.47" stroke="#a57637"/><path d="M105.89 69.40L106.69 69.66" stroke="#cd760e"/><path d="M106.46 69.59L107.26 69.85" stroke="#c2e51c"/><path d="M107.03 69.78L107.83 70.04" stroke="#a6e538"/><path d="M107.60 69.97L108.40 70.23" stroke="#8ae554"/><path d="M108.17 70.16L108.97 70.42" stroke="#89e555"/><path d="M108.74 70.35L109.53 70.61" stroke="#a6e13a"/><path d="M109.31 70.52L110.06 70.90" stroke="#d3db0e"/><path d="M109.85 70.79L110.59 71.18" stroke="#e3b200"/><path d="M110.38 71.07L111.12 71.47" stroke="#e36800"/><path d="M110.91 71.35L111.65 71.75" stroke="#be4b20"/><path d="M111.44 71.64L112.18 72.03" stroke="#5d9b7f"/><path d="M111.97 71.91L112.64 72.40" stroke="#22e5bc"/><path d="M112.46 72.25L113.07 72.82" stroke="#25e5b9"/><path d="M112.90 72.66L113.51 73.23" stroke="#23e5bb"/><path d="M113.34 73.07L113.95 73.64" stroke="#20e5be"/><path d="M113.83 73.45L114.07 74.24" stroke="#1fe5bf"/><path d="M114.00 74.01L114.21 74.83" stroke="#46e598"/><path d="M114.16 74.60L114.26 75.39" stroke="#919b4b"/><path d="M114.31 75.18L113.86 75.89" stroke="#c72c13"/><path d="M113.99 75.68L113.53 76.39" stroke="#d90700"/><path d="M113.67 76.20L113.15 76.84" stroke="#dd4100"/><path d="M113.32 76.67L112.67 77.21" stroke="#d4a00e"/><path d="M112.86 77.06L112.22 77.60" stroke="#a7d53a"/><path d="M112.37 77.43L111.93 78.11" stroke="#88e556"/><path d="M112.03 77.90L111.77 78.69" stroke="#44738d"/><path d="M111.84 78.47L111.58 79.26" stroke="#0000c5"/><path d="M111.68 79.05L111.26 79.74" stroke="#0000c5"/><path d="M111.41 79.57L110.76 80.09" stroke="#0000c5"/><path d="M110.95 79.94L110.29 80.47" stroke="#0029d0"/><path d="M110.48 80.32L109.81 80.83" stroke="#0066e0"/><path d="M110.01 80.69L109.30 81.14" stroke="#40b0a2"/><path d="M109.50 81.01L108.79 81.46" stroke="#7fe55f"/><path d="M108.99 81.33L108.28 81.77" stroke="#7fe55f"/><path d="M108.48 81.65L107.77 82.09" stroke="#7be563"/><path d="M107.98 81.97L107.26 82.41" stroke="#76e568"/><path d="M107.47 82.28L106.75 82.73" stroke="#979b45"/><path d="M106.96 82.60L106.25 83.05" stroke="#c92c11"/><path d="M106.45 82.92L105.74 83.37" stroke="#cc7610"/><path d="M105.95 83.25L105.24 83.70" stroke="#bfe51f"/><path d="M105.44 83.57L104.73 84.02" stroke="#93e54b"/><path d="M104.93 83.89L104.23 84.34" stroke="#68e576"/><path d="M104.43 84.21L103.72 84.67" stroke="#68e576"/><path d="M103.92 84.54L103.22 84.99" stroke="#98e546"/><path d="M103.42 84.86L102.72 85.32" stroke="#c8e516"/><path d="M102.92 85.19L102.22 85.66" stroke="#c8e516"/><path d="M102.42 85.53L101.72 86.00" stroke="#bdb324"/><path d="M101.92 85.86L101.23 86.33" stroke="#cc6619"/><path d="M101.43 86.20L100.73 86.67" stroke="#e54d00"/><path d="M100.93 86.53L100.23 87.00" stroke="#e54d00"/><path d="M100.43 86.87L99.74 87.34" stroke="#e54d00"/><path d="M99.93 87.20L99.25 87.69" stroke="#e54d00"/><path d="M99.44 87.55L98.79 88.08" stroke="#e54d00"/><path d="M98.98 87.93L98.33 88.46" stroke="#e54d00"/><path d="M98.51 88.30L97.86 88.84" stroke="#e54d00"/><path d="M98.05 88.68L97.40 89.21" stroke="#e54d00"/><path d="M97.58 89.06L96.93 89.59" stroke="#e54d00"/><path d="M97.12 89.44L96.46 89.96" stroke="#e54d00"/><path d="M96.65 89.81L95.98 90.32" stroke="#cb8018"/><path d="M96.17 90.18L95.50 90.68" stroke="#a3cc3c"/><path d="M95.69 90.54L95.02 91.04" stroke="#7ce562"/><path d="M95.21 90.90L94.54 91.40" stroke="#62e57c"/><path d="M94.73 91.26L94.06 91.77" stroke="#76e468"/><path d="M94.25 91.62L93.58 92.13" stroke="#b3e22b"/><path d="M93.77 91.98L93.10 92.49" stroke="#cee110"/><path d="M93.30 92.34L92.63 92.85" stroke="#a4e33a"/><path d="M92.82 92.70L92.15 93.21" stroke="#88e556"/><path d="M92.34 93.07L91.67 93.57" stroke="#5a9986"/><path d="M91.86 93.43L91.19 93.93" stroke="#1726ce"/><path d="M91.38 93.79L90.70 94.27" stroke="#0000d0"/><path d="M90.89 94.14L90.20 94.61" stroke="#0006d0"/><path d="M90.40 94.47L89.70 94.94" stroke="#000be5"/><path d="M89.90 94.81L89.20 95.28" stroke="#000be5"/><path d="M89.40 95.14L88.70 95.61" stroke="#000be5"/><path d="M88.90 95.48L88.21 95.95" stroke="#000be5"/><path d="M88.41 95.81L87.71 96.28" stroke="#000be5"/><path d="M87.91 96.15L87.21 96.62" stroke="#000be5"/><path d="M87.41 96.48L86.71 96.95" stroke="#000be5"/><path d="M86.91 96.82L86.21 97.28" stroke="#000be5"/><path d="M86.41 97.15L85.72 97.62" stroke="#000be5"/><path d="M85.92 97.49L85.22 97.95" stroke="#0d30d7"/><path d="M85.42 97.83L84.69 98.24" stroke="#349dad"/><path d="M84.90 98.13L84.17 98.54" stroke="#53e58b"/><path d="M84.38 98.42L83.65 98.84" stroke="#65e579"/><path d="M83.86 98.72L83.13 99.13" stroke="#70e56e"/><path d="M83.34 99.02L82.61 99.43" stroke="#74e56a"/><path d="M82.82 99.31L82.09 99.73" stroke="#7ee560"/><path d="M82.30 99.61L81.57 100.02" stroke="#95d84a"/><path d="M81.77 99.90L81.04 100.32" stroke="#c5ae1e"/><path d="M81.25 100.20L80.52 100.62" stroke="#e59300"/><path d="M80.73 100.50L79.99 100.89" stroke="#e35000"/><path d="M80.21 100.80L79.42 101.09" stroke="#e32f00"/><path d="M79.65 101.01L78.86 101.30" stroke="#e56100"/><path d="M79.09 101.21L78.30 101.51" stroke="#e57200"/><path d="M78.52 101.42L77.74 101.72" stroke="#e57700"/><path d="M77.96 101.63L77.18 101.93" stroke="#e57c00"/><path d="M77.40 101.84L76.61 102.14" stroke="#e59100"/><path d="M76.84 102.05L76.05 102.35" stroke="#e5b000"/><path d="M76.28 102.26L75.49 102.56" stroke="#736373"/><path d="M75.71 102.47L74.92 102.75" stroke="#000be5"/><path d="M75.15 102.69L74.33 102.83" stroke="#0007e5"/><path d="M74.56 102.79L73.74 102.94" stroke="#0002e5"/><path d="M73.97 102.89L73.14 103.04" stroke="#3173b1"/><path d="M73.38 103.00L72.55 103.14" stroke="#52c58e"/><path d="M72.79 103.10L71.96 103.24" stroke="#2165c2"/><path d="M72.20 103.20L71.37 103.34" stroke="#0018e3"/><path d="M71.61 103.30L70.78 103.44" stroke="#0006df"/><path d="M71.02 103.40L70.19 103.55" stroke="#0000dd"/><path d="M70.43 103.51L69.60 103.65" stroke="#0b4cd2"/><path d="M69.83 103.61L69.00 103.72" stroke="#1cbfc2"/><path d="M69.24 103.70L68.40 103.74" stroke="#42e59c"/><path d="M68.64 103.73L67.80 103.76" stroke="#66e578"/><path d="M68.04 103.75L67.20 103.79" stroke="#71e56d"/><path d="M67.44 103.78L66.61 103.81" stroke="#79e565"/><path d="M66.85 103.80L66.01 103.84" stroke="#51ce90"/><path d="M66.25 103.83L65.41 103.86" stroke="#14abd0"/><path d="M65.65 103.85L64.81 103.88" stroke="#0090e5"/><path d="M65.05 103.87L64.21 103.91" stroke="#0065e5"/><path d="M64.45 103.90L63.61 103.93" stroke="#0048e5"/><path d="M63.85 103.92L63.01 103.96" stroke="#0a7dd9"/><path d="M63.25 103.95L62.41 103.98" stroke="#1acbc5"/><path d="M62.65 103.98L61.81 104.00" stroke="#61d77f"/><path d="M62.05 104.00L61.21 103.92" stroke="#c4c220"/><path d="M61.45 103.95L60.62 103.87" stroke="#e4c100"/><path d="M60.86 103.89L60.02 103.81" stroke="#dfd301"/><path d="M60.26 103.83L59.42 103.75" stroke="#dec402"/><path d="M59.66 103.78L58.83 103.70" stroke="#e27001"/><path d="M59.06 103.72L58.23 103.64" stroke="#e05605"/><path d="M58.47 103.66L57.63 103.58" stroke="#ceac13"/><path d="M57.87 103.60L57.03 103.52" stroke="#8ee550"/><path d="M57.27 103.55L56.44 103.47" stroke="#5fe57f"/><path d="M56.68 103.49L55.84 103.41" stroke="#70e56e"/><path d="M56.08 103.43L55.24 103.35" stroke="#7fe55f"/><path d="M55.48 103.38L54.65 103.29" stroke="#5ee580"/><path d="M54.88 103.33L54.06 103.17" stroke="#2de5b1"/><path d="M54.29 103.22L53.47 103.04" stroke="#1ce5c2"/><path d="M53.71 103.09L52.89 102.92" stroke="#0e8cd4"/><path d="M53.12 102.97L52.30 102.80" stroke="#0033e5"/><path d="M52.53 102.85L51.71 102.68" stroke="#046bdf"/><path d="M51.95 102.73L51.12 102.55" stroke="#09c0d6"/><path d="M51.36 102.60L50.54 102.43" stroke="#2ddfb1"/><path d="M50.77 102.48L49.95 102.31" stroke="#60e47f"/><path d="M50.18 102.36L49.36 102.19" stroke="#3893aa"/><path d="M49.60 102.24L48.77 102.07" stroke="#004ee5"/><path d="M49.01 102.11L48.19 101.94" stroke="#0074e5"/><path d="M48.42 101.99L47.60 101.82" stroke="#008de5"/><path d="M47.83 101.88L47.04 101.62" stroke="#16aacd"/><path d="M47.26 101.70L46.48 101.39" stroke="#6ea974"/><path d="M46.71 101.48L45.93 101.16" stroke="#c68b1d"/><path d="M46.15 101.25L45.37 100.93" stroke="#d3b80d"/><path d="M45.59 101.02L44.82 100.71" stroke="#96e548"/><path d="M45.04 100.80L44.26 100.48" stroke="#8ed753"/><path d="M44.48 100.57L43.71 100.26" stroke="#d0c215"/><path d="M43.93 100.35L43.15 100.03" stroke="#dbc209"/><path d="M43.37 100.12L42.59 99.80" stroke="#bcd724"/><path d="M42.82 99.89L42.04 99.58" stroke="#54cd8e"/><path d="M42.26 99.67L41.48 99.35" stroke="#00b4e5"/><path d="M41.69 99.47L41.05 98.93" stroke="#48cd9a"/><path d="M41.23 99.08L40.59 98.54" stroke="#b57627"/><path d="M40.78 98.69L40.14 98.14" stroke="#d90700"/><path d="M40.32 98.30L39.69 97.75" stroke="#ba5121"/><path d="M39.87 97.91L39.23 97.36" stroke="#c09021"/><path d="M39.41 97.52L38.78 96.97" stroke="#e58600"/><path d="M38.96 97.13L38.32 96.58" stroke="#e58600"/><path d="M38.50 96.74L37.87 96.19" stroke="#e58200"/><path d="M38.05 96.34L37.41 95.80" stroke="#e57f00"/><path d="M37.57 95.97L37.08 95.31" stroke="#d9b208"/><path d="M37.20 95.51L36.82 94.76" stroke="#cde511"/><path d="M36.93 94.98L36.55 94.23" stroke="#cde511"/><path d="M36.66 94.44L36.27 93.70" stroke="#d9a008"/><path d="M36.38 93.91L36.00 93.16" stroke="#e55a00"/><path d="M36.11 93.38L35.73 92.63" stroke="#e55700"/><path d="M35.84 92.84L35.45 92.09" stroke="#e54f00"/><path d="M35.56 92.31L35.18 91.56" stroke="#cc6418"/><path d="M35.26 91.78L35.07 90.99" stroke="#668c7d"/><path d="M35.10 91.22L35.10 90.38" stroke="#0d87d7"/><path d="M35.10 90.62L35.10 89.78" stroke="#0074e5"/><path d="M35.10 89.98L35.10 89.42" stroke="#0074e5"/></g>
<path d="M112.05 77.8L111.5 80.0" stroke="#1428b8" stroke-width="1.5" fill="none"/>
<g fill="none" stroke-width="0.98" stroke-linecap="butt"><path d="M282.97 106.12L283.19 105.31" stroke="#5fe57f"/><path d="M283.13 105.54L283.35 104.73" stroke="#48e596"/><path d="M283.29 104.96L283.51 104.15" stroke="#25e5b9"/><path d="M283.45 104.38L283.67 103.57" stroke="#0d95d5"/><path d="M283.61 103.80L283.83 102.99" stroke="#0045e5"/><path d="M283.77 103.23L284.00 102.42" stroke="#0047e5"/><path d="M283.93 102.65L284.14 101.84" stroke="#0048e5"/><path d="M284.08 102.07L284.29 101.25" stroke="#3597ac"/><path d="M284.23 101.49L284.44 100.67" stroke="#47aa99"/><path d="M284.38 100.91L284.59 100.09" stroke="#1251d2"/><path d="M284.53 100.32L284.73 99.51" stroke="#0033e5"/><path d="M284.68 99.74L284.88 98.93" stroke="#0033e5"/><path d="M284.82 99.16L285.03 98.35" stroke="#0033e5"/><path d="M284.97 98.58L285.18 97.77" stroke="#0033e5"/><path d="M285.12 98.00L285.33 97.19" stroke="#0033e5"/><path d="M285.27 97.42L285.47 96.60" stroke="#0033e5"/><path d="M285.42 96.84L285.62 96.02" stroke="#0033e5"/><path d="M285.56 96.25L285.76 95.44" stroke="#0033e5"/><path d="M285.70 95.67L285.90 94.86" stroke="#0033e5"/><path d="M285.84 95.09L286.04 94.27" stroke="#0033e5"/><path d="M285.98 94.51L286.18 93.69" stroke="#0033e5"/><path d="M286.12 93.92L286.32 93.11" stroke="#0033e5"/><path d="M286.26 93.34L286.46 92.52" stroke="#0033e5"/><path d="M286.40 92.76L286.60 91.94" stroke="#0033e5"/><path d="M286.54 92.17L286.74 91.36" stroke="#0033e5"/><path d="M286.69 91.59L286.88 90.77" stroke="#226ec1"/><path d="M286.82 91.01L287.03 90.19" stroke="#54c88b"/><path d="M286.97 90.42L287.18 89.61" stroke="#54bf80"/><path d="M287.12 89.84L287.33 89.03" stroke="#224c96"/><path d="M287.27 89.26L287.48 88.45" stroke="#0000a4"/><path d="M287.42 88.68L287.63 87.87" stroke="#0000a4"/><path d="M287.57 88.10L287.78 87.29" stroke="#0000a4"/><path d="M287.72 87.52L287.93 86.71" stroke="#0058c5"/><path d="M287.87 86.94L288.08 86.13" stroke="#00b1e5"/><path d="M288.02 86.36L288.23 85.55" stroke="#3fc2a4"/><path d="M288.17 85.78L288.38 84.97" stroke="#9ddd43"/><path d="M288.32 85.20L288.53 84.38" stroke="#bce522"/><path d="M288.47 84.62L288.67 83.80" stroke="#ace533"/><path d="M288.61 84.03L288.81 83.22" stroke="#93e54b"/><path d="M288.75 83.45L288.95 82.63" stroke="#457e9c"/><path d="M288.89 82.87L289.09 82.05" stroke="#0016e5"/><path d="M289.03 82.28L289.23 81.47" stroke="#000bc5"/><path d="M289.17 81.70L289.37 80.89" stroke="#0000a4"/><path d="M289.31 81.12L289.51 80.30" stroke="#0016af"/><path d="M289.45 80.54L289.65 79.72" stroke="#0059d0"/><path d="M289.59 79.95L289.79 79.14" stroke="#1296d2"/><path d="M289.74 79.37L289.91 78.55" stroke="#40c6a1"/><path d="M289.87 78.78L290.04 77.96" stroke="#49e595"/><path d="M289.99 78.20L290.16 77.37" stroke="#71db70"/><path d="M290.11 77.61L290.28 76.79" stroke="#c8941c"/><path d="M290.23 77.02L290.40 76.20" stroke="#e54900"/><path d="M290.35 76.43L290.52 75.61" stroke="#e55200"/><path d="M290.47 75.85L290.64 75.02" stroke="#734873"/><path d="M290.59 75.26L290.76 74.44" stroke="#0b65d8"/><path d="M290.72 74.67L290.89 73.85" stroke="#30c5b0"/><path d="M290.84 74.09L291.01 73.26" stroke="#52e58c"/><path d="M290.96 73.50L291.14 72.68" stroke="#5ce582"/><path d="M291.09 72.91L291.27 72.09" stroke="#3d998d"/><path d="M291.22 72.33L291.41 71.51" stroke="#0f269e"/><path d="M291.35 71.74L291.54 70.92" stroke="#37738a"/><path d="M291.49 71.16L291.67 70.34" stroke="#56e588"/><path d="M291.62 70.57L291.81 69.75" stroke="#2699ba"/><path d="M291.75 69.99L291.94 69.17" stroke="#0726de"/><path d="M291.89 69.40L292.02 68.58" stroke="#0000e5"/><path d="M292.00 68.82L292.00 67.98" stroke="#0000e5"/><path d="M292.00 68.22L292.00 67.38" stroke="#0000e5"/><path d="M292.00 67.62L292.00 66.78" stroke="#001ce5"/><path d="M292.00 67.02L292.00 66.18" stroke="#0055db"/><path d="M292.05 66.40L291.67 65.66" stroke="#0039ba"/><path d="M291.78 65.87L291.39 65.12" stroke="#0146b7"/><path d="M291.50 65.34L291.12 64.59" stroke="#02aed3"/><path d="M291.23 64.81L290.84 64.06" stroke="#1bdbc3"/><path d="M290.95 64.27L290.57 63.53" stroke="#1a97c8"/><path d="M290.70 63.72L290.15 63.11" stroke="#0f63d5"/><path d="M290.33 63.27L289.66 62.76" stroke="#3cb1a5"/><path d="M289.85 62.91L289.18 62.40" stroke="#3cc2a5"/><path d="M289.37 62.54L288.70 62.04" stroke="#0f8dd5"/><path d="M288.89 62.18L288.22 61.67" stroke="#0e8dd6"/><path d="M288.42 61.82L287.75 61.31" stroke="#3ac2a7"/><path d="M287.95 61.44L287.21 61.07" stroke="#56e588"/><path d="M287.43 61.15L286.62 60.93" stroke="#7fe55f"/><path d="M286.85 60.99L286.04 60.77" stroke="#bce522"/><path d="M286.27 60.83L285.47 60.61" stroke="#d0e50e"/><path d="M285.70 60.67L284.89 60.45" stroke="#dbd207"/><path d="M285.12 60.51L284.31 60.29" stroke="#e5be00"/><path d="M284.54 60.34L283.72 60.18" stroke="#d4d20e"/><path d="M283.96 60.20L283.12 60.20" stroke="#ced413"/><path d="M283.36 60.20L282.52 60.20" stroke="#e0ba05"/><path d="M282.76 60.20L281.92 60.20" stroke="#becb24"/><path d="M282.16 60.20L281.32 60.20" stroke="#b1da30"/><path d="M281.56 60.20L280.72 60.20" stroke="#d8c80c"/><path d="M280.96 60.20L280.12 60.20" stroke="#e5c600"/><path d="M280.36 60.20L279.52 60.20" stroke="#e5cd00"/><path d="M279.76 60.20L278.92 60.20" stroke="#e5a800"/><path d="M279.16 60.20L278.32 60.20" stroke="#e36000"/><path d="M278.56 60.19L277.73 60.25" stroke="#dd2300"/><path d="M277.97 60.23L277.13 60.33" stroke="#cd2c0d"/><path d="M277.37 60.30L276.54 60.40" stroke="#a99b34"/><path d="M276.77 60.37L275.94 60.47" stroke="#90e54e"/><path d="M276.18 60.44L275.35 60.54" stroke="#80e55e"/><path d="M275.58 60.52L274.75 60.62" stroke="#6ce572"/><path d="M274.99 60.59L274.15 60.69" stroke="#54c78b"/><path d="M274.39 60.66L273.56 60.76" stroke="#3589ad"/><path d="M273.80 60.73L272.96 60.83" stroke="#51a890"/><path d="M273.20 60.80L272.37 60.90" stroke="#3dc2a5"/><path d="M272.60 60.86L271.79 61.05" stroke="#0082e5"/><path d="M272.02 61.00L271.21 61.20" stroke="#3f90a4"/><path d="M271.44 61.14L270.62 61.35" stroke="#9dd043"/><path d="M270.86 61.29L270.04 61.50" stroke="#b4e52a"/><path d="M270.28 61.44L269.46 61.65" stroke="#a9e535"/><path d="M269.69 61.59L268.88 61.79" stroke="#a5e539"/><path d="M269.11 61.74L268.30 61.94" stroke="#badf26"/><path d="M268.53 61.88L267.72 62.09" stroke="#8ec556"/><path d="M267.95 62.03L267.14 62.24" stroke="#3db6a7"/><path d="M267.37 62.18L266.56 62.39" stroke="#5ccf84"/><path d="M266.79 62.32L265.99 62.58" stroke="#8be553"/><path d="M266.22 62.50L265.43 62.79" stroke="#5cd884"/><path d="M265.65 62.71L264.86 62.99" stroke="#17c3cd"/><path d="M265.09 62.91L264.30 63.20" stroke="#00b6e5"/><path d="M264.52 63.12L263.73 63.40" stroke="#00a4e5"/><path d="M263.96 63.32L263.17 63.61" stroke="#0098e5"/><path d="M263.40 63.52L262.61 63.81" stroke="#15b2ce"/><path d="M262.83 63.73L262.04 64.01" stroke="#20cbc2"/><path d="M262.27 63.93L261.48 64.22" stroke="#0bc3da"/><path d="M261.70 64.14L260.91 64.42" stroke="#1bd1c7"/><path d="M261.14 64.33L260.37 64.66" stroke="#8ea554"/><path d="M260.58 64.56L259.84 64.95" stroke="#8ba557"/><path d="M260.05 64.84L259.30 65.22" stroke="#6da874"/><path d="M259.52 65.11L258.77 65.50" stroke="#c74b1d"/><path d="M258.98 65.39L258.24 65.77" stroke="#e52c00"/><path d="M258.45 65.66L257.71 66.05" stroke="#8f8852"/><path d="M257.92 65.94L257.17 66.32" stroke="#3be5a3"/><path d="M257.39 66.21L256.64 66.60" stroke="#3ee5a0"/><path d="M256.85 66.49L256.11 66.88" stroke="#63e57b"/><path d="M256.32 66.77L255.57 67.15" stroke="#9ce542"/><path d="M255.79 67.04L255.04 67.43" stroke="#b8e526"/><path d="M255.25 67.31L254.52 67.72" stroke="#7f994b"/><path d="M254.73 67.60L254.00 68.01" stroke="#20268e"/><path d="M254.20 67.90L253.47 68.31" stroke="#001dba"/><path d="M253.68 68.19L252.95 68.61" stroke="#002bd2"/><path d="M253.16 68.49L252.43 68.90" stroke="#000ed1"/><path d="M252.64 68.79L251.91 69.20" stroke="#0018d1"/><path d="M252.12 69.08L251.39 69.50" stroke="#0060dd"/><path d="M251.60 69.38L250.87 69.79" stroke="#0090e5"/><path d="M251.08 69.68L250.35 70.09" stroke="#4c9c99"/><path d="M250.56 69.97L249.83 70.39" stroke="#bfae26"/><path d="M250.03 70.27L249.30 70.68" stroke="#e5b400"/><path d="M249.51 70.56L248.79 70.99" stroke="#e17a00"/><path d="M248.99 70.87L248.28 71.31" stroke="#db2400"/><path d="M248.49 71.19L247.77 71.63" stroke="#df6e00"/><path d="M247.98 71.50L247.27 71.95" stroke="#e5d600"/><path d="M247.47 71.82L246.76 72.27" stroke="#d4d80f"/><path d="M246.96 72.14L246.25 72.59" stroke="#a3e03d"/><path d="M246.45 72.46L245.74 72.91" stroke="#a3c83d"/><path d="M245.95 72.78L245.23 73.23" stroke="#d59b0f"/><path d="M245.44 73.10L244.73 73.54" stroke="#e59700"/><path d="M244.93 73.42L244.22 73.86" stroke="#c7bc1d"/><path d="M244.42 73.73L243.72 74.20" stroke="#6dde74"/><path d="M243.92 74.06L243.25 74.57" stroke="#70e56e"/><path d="M243.44 74.42L242.77 74.92" stroke="#98e546"/><path d="M242.96 74.78L242.29 75.28" stroke="#74e56a"/><path d="M242.48 75.14L241.81 75.64" stroke="#66e578"/><path d="M242.00 75.50L241.33 76.00" stroke="#63e57b"/><path d="M241.52 75.86L240.85 76.36" stroke="#62e57c"/><path d="M241.04 76.22L240.37 76.72" stroke="#a4803e"/><path d="M240.56 76.58L239.89 77.08" stroke="#e51b00"/><path d="M240.08 76.94L239.41 77.45" stroke="#e51600"/><path d="M239.60 77.30L238.95 77.84" stroke="#e54200"/><path d="M239.14 77.68L238.49 78.22" stroke="#e58b00"/><path d="M238.68 78.07L238.03 78.61" stroke="#d6af0e"/><path d="M238.22 78.45L237.57 78.99" stroke="#a9d038"/><path d="M237.76 78.84L237.11 79.37" stroke="#8be553"/><path d="M237.30 79.22L236.65 79.76" stroke="#8ee550"/><path d="M236.84 79.60L236.19 80.14" stroke="#94e54a"/><path d="M236.37 79.98L235.77 80.56" stroke="#9fe53f"/><path d="M235.93 80.39L235.40 81.04" stroke="#afe52f"/><path d="M235.55 80.85L235.02 81.50" stroke="#bbe523"/><path d="M235.17 81.32L234.64 81.97" stroke="#c9e515"/><path d="M234.79 81.78L234.26 82.44" stroke="#d3e50b"/><path d="M234.42 82.25L233.89 82.90" stroke="#d6e408"/><path d="M234.04 82.71L233.51 83.37" stroke="#6d716f"/><path d="M233.65 83.17L233.20 83.88" stroke="#0000d9"/><path d="M233.32 83.67L232.94 84.42" stroke="#0000d9"/><path d="M233.05 84.20L232.67 84.96" stroke="#0000d9"/><path d="M232.78 84.74L232.40 85.49" stroke="#0000d9"/><path d="M232.51 85.28L232.14 86.03" stroke="#0000d9"/><path d="M232.24 85.81L231.87 86.57" stroke="#0000d9"/><path d="M231.97 86.35L231.60 87.10" stroke="#0000d9"/><path d="M231.68 86.88L231.48 87.69" stroke="#73486d"/><path d="M231.53 87.46L231.37 88.28" stroke="#e59200"/><path d="M231.42 88.04L231.26 88.87" stroke="#e59500"/><path d="M231.30 88.63L231.14 89.46" stroke="#73a973"/><path d="M231.19 89.22L231.03 90.05" stroke="#009ee5"/><path d="M231.07 89.81L230.91 90.63" stroke="#0044e5"/><path d="M230.95 90.40L230.83 91.23" stroke="#0008e5"/><path d="M230.86 90.99L230.76 91.82" stroke="#232dc1"/><path d="M230.79 91.59L230.69 92.42" stroke="#8d9c54"/><path d="M230.72 92.18L230.62 93.02" stroke="#d3e50b"/><path d="M230.65 92.78L230.55 93.61" stroke="#d9df07"/><path d="M230.57 93.37L230.47 94.21" stroke="#e2d502"/><path d="M230.50 93.97L230.40 94.80" stroke="#94dc4e"/><path d="M230.46 94.57L230.13 95.34" stroke="#42e59c"/><path d="M230.23 95.12L229.85 95.87" stroke="#83e55b"/><path d="M229.96 95.65L229.58 96.40" stroke="#90e54e"/><path d="M229.69 96.19L229.30 96.93" stroke="#42e59c"/><path d="M229.41 96.72L229.03 97.47" stroke="#28e5b6"/><path d="M229.14 97.25L228.75 98.00" stroke="#49dd96"/><path d="M228.87 97.79L228.45 98.51" stroke="#87cd5b"/><path d="M228.58 98.32L228.04 98.96" stroke="#65d57b"/><path d="M228.20 98.78L227.66 99.42" stroke="#1fddc0"/><path d="M227.81 99.24L227.27 99.88" stroke="#7fa164"/><path d="M227.43 99.70L226.89 100.34" stroke="#e56e00"/><path d="M227.04 100.16L226.50 100.80" stroke="#e56e00"/><path d="M226.55 100.60L226.76 101.32" stroke="#e56e00"/><path d="M226.67 101.12L227.07 101.86" stroke="#e56e00"/><path d="M226.95 101.64L227.35 102.38" stroke="#e56e00"/><path d="M227.24 102.17L227.63 102.91" stroke="#cfaa13"/><path d="M227.52 102.70L227.92 103.44" stroke="#b9e525"/><path d="M227.78 103.25L228.34 103.83" stroke="#7bde63"/><path d="M228.16 103.69L228.88 104.11" stroke="#1fd2c0"/><path d="M228.67 103.99L229.40 104.42" stroke="#06d2d9"/><path d="M229.19 104.30L229.92 104.72" stroke="#19dec6"/><path d="M229.71 104.60L230.44 105.02" stroke="#76e568"/><path d="M230.23 104.90L230.95 105.32" stroke="#c8e516"/><path d="M230.75 105.20L231.47 105.63" stroke="#c8e516"/><path d="M231.26 105.52L232.03 105.82" stroke="#c8e516"/><path d="M231.81 105.75L232.62 105.94" stroke="#c8e516"/><path d="M232.39 105.89L233.21 106.08" stroke="#c8e516"/><path d="M232.97 106.03L233.79 106.22" stroke="#c8e516"/><path d="M233.56 106.16L234.37 106.36" stroke="#c8e516"/><path d="M234.14 106.30L234.96 106.50" stroke="#c8e516"/><path d="M234.72 106.44L235.54 106.64" stroke="#c8e516"/><path d="M235.31 106.58L236.12 106.77" stroke="#c8e516"/><path d="M235.89 106.72L236.71 106.91" stroke="#bce522"/><path d="M236.47 106.86L237.29 107.05" stroke="#99e545"/><path d="M237.06 106.99L237.87 107.20" stroke="#81e55d"/><path d="M237.64 107.14L238.45 107.35" stroke="#8ee550"/><path d="M238.22 107.29L239.03 107.50" stroke="#a3e53b"/><path d="M238.80 107.44L239.62 107.65" stroke="#abe534"/><path d="M239.38 107.59L240.20 107.80" stroke="#abe534"/><path d="M239.96 107.74L240.78 107.95" stroke="#abe534"/><path d="M240.54 107.89L241.36 108.10" stroke="#abe534"/><path d="M241.13 108.04L241.94 108.25" stroke="#abe534"/><path d="M241.71 108.19L242.52 108.40" stroke="#abe534"/><path d="M242.29 108.34L243.10 108.55" stroke="#abe534"/><path d="M242.87 108.49L243.68 108.69" stroke="#abe534"/><path d="M243.45 108.64L244.26 108.83" stroke="#bee022"/><path d="M244.03 108.78L244.85 108.97" stroke="#dbd809"/><path d="M244.61 108.92L245.43 109.11" stroke="#a5db3e"/><path d="M245.20 109.06L246.01 109.26" stroke="#50e390"/><path d="M245.78 109.20L246.60 109.40" stroke="#59c185"/><path d="M246.36 109.34L247.18 109.54" stroke="#aa5333"/><path d="M246.95 109.48L247.76 109.68" stroke="#e04100"/><path d="M247.53 109.62L248.35 109.82" stroke="#e49200"/><path d="M248.11 109.76L248.93 109.96" stroke="#deca04"/><path d="M248.70 109.90L249.50 110.13" stroke="#d6e508"/><path d="M249.28 110.06L250.07 110.32" stroke="#6b7577"/><path d="M249.85 110.24L250.64 110.51" stroke="#2d75b5"/><path d="M250.42 110.43L251.21 110.69" stroke="#2dcdb5"/><path d="M250.99 110.62L251.78 110.88" stroke="#00a8e5"/><path d="M251.56 110.80L252.35 111.07" stroke="#0096e5"/><path d="M252.13 110.99L252.92 111.25" stroke="#0070e5"/><path d="M252.70 111.18L253.49 111.44" stroke="#0077e5"/><path d="M253.27 111.36L254.06 111.63" stroke="#00b3e5"/><path d="M253.84 111.55L254.63 111.81" stroke="#00c6e5"/><path d="M254.41 111.74L255.20 112.00" stroke="#006ee5"/><path d="M254.98 111.92L255.77 112.19" stroke="#0016e5"/><path d="M255.55 112.11L256.34 112.37" stroke="#0016e5"/><path d="M256.12 112.30L256.91 112.56" stroke="#0016e5"/><path d="M256.69 112.48L257.48 112.75" stroke="#0016e5"/><path d="M257.26 112.67L258.05 112.93" stroke="#0016e5"/><path d="M257.83 112.86L258.62 113.12" stroke="#0016e5"/><path d="M258.40 113.04L259.19 113.31" stroke="#0016e5"/><path d="M258.97 113.23L259.76 113.49" stroke="#0016e5"/><path d="M259.54 113.42L260.33 113.68" stroke="#0016e5"/><path d="M260.10 113.61L260.90 113.86" stroke="#0016e5"/><path d="M260.67 113.79L261.48 114.03" stroke="#1c39c8"/><path d="M261.25 113.96L262.06 114.20" stroke="#81565e"/><path d="M261.83 114.13L262.63 114.37" stroke="#d12c09"/><path d="M262.40 114.30L263.21 114.54" stroke="#df4f00"/><path d="M262.98 114.47L263.78 114.71" stroke="#e59600"/><path d="M263.55 114.64L264.36 114.88" stroke="#e59600"/><path d="M264.13 114.81L264.93 115.05" stroke="#e2b900"/><path d="M264.70 114.99L265.52 115.16" stroke="#dfdc00"/><path d="M265.28 115.12L266.12 115.21" stroke="#dfdc00"/><path d="M265.88 115.19L266.71 115.28" stroke="#e2c200"/><path d="M266.48 115.25L267.31 115.35" stroke="#cbc617"/><path d="M267.07 115.32L267.91 115.41" stroke="#c57617"/><path d="M267.67 115.39L268.50 115.48" stroke="#dd4100"/><path d="M268.26 115.47L269.09 115.44" stroke="#e39700"/><path d="M268.86 115.47L269.68 115.31" stroke="#aecd34"/><path d="M269.45 115.36L270.27 115.20" stroke="#9bbc45"/><path d="M270.04 115.25L270.86 115.09" stroke="#d37d11"/><path d="M270.63 115.14L271.45 114.98" stroke="#d67d0e"/><path d="M271.22 115.02L272.04 114.87" stroke="#a9bc38"/><path d="M271.81 114.91L272.63 114.75" stroke="#8be553"/><path d="M272.39 114.80L273.21 114.59" stroke="#b8bb2a"/><path d="M272.98 114.65L273.79 114.44" stroke="#e57400"/><path d="M273.56 114.50L274.37 114.30" stroke="#b08333"/><path d="M274.14 114.36L274.95 114.15" stroke="#60c980"/><path d="M274.72 114.21L275.53 114.00" stroke="#45e599"/><path d="M275.30 114.06L276.11 113.85" stroke="#22c9bf"/><path d="M275.88 113.91L276.69 113.70" stroke="#0096e5"/><path d="M276.47 113.78L277.24 113.45" stroke="#0050e5"/><path d="M277.02 113.55L277.77 113.18" stroke="#0021e5"/><path d="M277.56 113.29L278.32 112.92" stroke="#0942dc"/><path d="M278.10 113.02L278.86 112.66" stroke="#1a93c8"/><path d="M278.64 112.76L279.40 112.40" stroke="#119dd2"/><path d="M279.20 112.52L279.81 112.01" stroke="#006ee5"/><path d="M279.67 112.19L280.09 111.46" stroke="#4ba597"/><path d="M279.97 111.67L280.39 110.94" stroke="#96e548"/><path d="M280.27 111.15L280.69 110.42" stroke="#4bcd97"/><path d="M280.57 110.63L280.99 109.90" stroke="#00b4e5"/><path d="M280.88 110.11L281.22 109.35" stroke="#0086e5"/><path d="M281.13 109.57L281.36 108.77" stroke="#003ae3"/><path d="M281.30 109.00L281.52 108.19" stroke="#000edf"/><path d="M281.46 108.42L281.68 107.61" stroke="#0000dd"/><path d="M281.62 107.84L281.84 107.03" stroke="#000be1"/><path d="M281.78 107.26L282.01 106.46" stroke="#0016e5"/><path d="M281.94 106.69L282.17 105.88" stroke="#000bc5"/><path d="M282.10 106.11L282.33 105.30" stroke="#0000a4"/><path d="M282.27 105.53L282.47 104.72" stroke="#003ac5"/><path d="M282.41 104.95L282.61 104.13" stroke="#0074e5"/><path d="M282.55 104.37L282.75 103.55" stroke="#0eadd4"/><path d="M282.69 103.78L282.89 102.97" stroke="#1ce5c2"/><path d="M282.83 103.20L283.03 102.38" stroke="#3edba1"/></g>
<g fill="none" stroke-width="0.98" stroke-linecap="butt"><path d="M404.82 69.68L405.41 69.09" stroke="#00bfe5"/><path d="M405.24 69.26L405.83 68.67" stroke="#26c1bf"/><path d="M405.64 68.80L406.37 68.43" stroke="#99c54c"/><path d="M406.15 68.52L406.96 68.27" stroke="#d3cd11"/><path d="M406.73 68.34L407.53 68.09" stroke="#9ddc43"/><path d="M407.30 68.17L408.10 67.92" stroke="#79e565"/><path d="M407.87 67.99L408.67 67.74" stroke="#7ce562"/><path d="M408.45 67.77L409.25 67.81" stroke="#80e55e"/><path d="M409.02 67.77L409.82 68.03" stroke="#b4b72e"/><path d="M409.59 67.96L410.39 68.21" stroke="#e58900"/><path d="M410.16 68.14L410.96 68.40" stroke="#73446d"/><path d="M410.73 68.33L411.53 68.58" stroke="#0000d9"/><path d="M411.30 68.51L412.10 68.77" stroke="#0000d9"/><path d="M411.87 68.70L412.67 68.92" stroke="#0000d9"/><path d="M412.44 68.91L413.26 68.75" stroke="#0000d9"/><path d="M413.03 68.80L413.85 68.64" stroke="#0000d9"/><path d="M413.62 68.68L414.44 68.52" stroke="#0000d9"/><path d="M414.21 68.57L415.03 68.41" stroke="#402c9c"/><path d="M414.80 68.45L415.62 68.29" stroke="#8c9f52"/><path d="M415.38 68.34L416.21 68.18" stroke="#a6d139"/><path d="M415.97 68.23L416.79 68.04" stroke="#cc9417"/><path d="M416.56 68.10L417.38 67.91" stroke="#e55c00"/><path d="M417.14 67.97L417.96 67.78" stroke="#e55600"/><path d="M417.73 67.83L418.55 67.65" stroke="#e57300"/><path d="M418.31 67.70L419.13 67.52" stroke="#e58600"/><path d="M418.90 67.57L419.72 67.39" stroke="#e59100"/><path d="M419.49 67.44L420.30 67.25" stroke="#e5a100"/><path d="M420.07 67.31L420.89 67.12" stroke="#a4c63e"/><path d="M420.66 67.17L421.48 66.99" stroke="#62e57c"/><path d="M421.24 67.04L422.06 66.86" stroke="#49e595"/><path d="M421.83 66.91L422.65 66.73" stroke="#29c8b7"/><path d="M422.41 66.78L423.23 66.60" stroke="#106ed3"/><path d="M423.00 66.65L423.82 66.46" stroke="#0044e5"/><path d="M423.58 66.52L424.40 66.34" stroke="#0076e5"/><path d="M424.17 66.39L424.99 66.24" stroke="#004ce5"/><path d="M424.76 66.28L425.58 66.13" stroke="#0000e5"/><path d="M425.35 66.17L426.17 66.02" stroke="#0000e5"/><path d="M425.94 66.06L426.76 65.91" stroke="#0000e5"/><path d="M426.53 65.95L427.35 65.80" stroke="#0000e5"/><path d="M427.12 65.84L427.94 65.69" stroke="#0000e5"/><path d="M427.71 65.74L428.53 65.58" stroke="#0247e1"/><path d="M428.30 65.63L429.12 65.48" stroke="#0390dd"/><path d="M428.89 65.52L429.71 65.37" stroke="#2872bb"/><path d="M429.48 65.41L430.30 65.26" stroke="#98934c"/><path d="M430.07 65.30L430.89 65.15" stroke="#c5d81e"/><path d="M430.66 65.19L431.48 65.04" stroke="#67e079"/><path d="M431.25 65.09L432.07 64.93" stroke="#28e5b6"/><path d="M431.84 64.98L432.66 64.82" stroke="#14b4ce"/><path d="M432.43 64.87L433.25 64.71" stroke="#0082e5"/><path d="M433.02 64.76L433.84 64.60" stroke="#4c8899"/><path d="M433.61 64.64L434.43 64.48" stroke="#bf9026"/><path d="M434.20 64.53L435.02 64.37" stroke="#bf8d26"/><path d="M434.78 64.41L435.61 64.25" stroke="#4c7c99"/><path d="M435.37 64.30L436.20 64.14" stroke="#3797ac"/><path d="M435.96 64.18L436.79 64.02" stroke="#89d256"/><path d="M436.55 64.07L437.38 63.91" stroke="#c5c01d"/><path d="M437.14 63.95L437.96 63.79" stroke="#8bc057"/><path d="M437.73 63.84L438.55 63.68" stroke="#31e5ad"/><path d="M438.32 63.72L439.14 63.56" stroke="#579974"/><path d="M438.91 63.61L439.73 63.45" stroke="#91261d"/><path d="M439.49 63.49L440.32 63.33" stroke="#a92604"/><path d="M440.08 63.38L440.91 63.22" stroke="#aa9920"/><path d="M440.67 63.26L441.50 63.10" stroke="#81e55d"/><path d="M441.26 63.14L442.09 63.00" stroke="#45cc9a"/><path d="M441.85 63.04L442.68 62.90" stroke="#2299c0"/><path d="M442.44 62.94L443.27 62.80" stroke="#2ab2b6"/><path d="M443.03 62.84L443.86 62.70" stroke="#3fe59f"/><path d="M443.63 62.74L444.45 62.60" stroke="#59c184"/><path d="M444.22 62.64L445.04 62.50" stroke="#a85335"/><path d="M444.81 62.54L445.64 62.39" stroke="#dd0a00"/><path d="M445.40 62.44L446.23 62.29" stroke="#e13100"/><path d="M445.99 62.33L446.82 62.19" stroke="#e55a00"/><path d="M446.58 62.23L447.41 62.09" stroke="#e55f00"/><path d="M447.17 62.13L448.00 61.99" stroke="#e56100"/><path d="M447.77 62.03L448.59 61.89" stroke="#e55400"/><path d="M448.36 61.93L449.18 61.79" stroke="#e54000"/><path d="M448.95 61.83L449.78 61.69" stroke="#e52f00"/><path d="M449.54 61.73L450.37 61.59" stroke="#e52000"/><path d="M450.13 61.63L450.96 61.49" stroke="#e51b00"/><path d="M450.72 61.53L451.55 61.40" stroke="#c50d00"/><path d="M451.32 61.44L452.14 61.30" stroke="#a40000"/><path d="M451.91 61.34L452.74 61.21" stroke="#a70000"/><path d="M452.50 61.25L453.33 61.11" stroke="#af0000"/><path d="M453.09 61.15L453.92 61.02" stroke="#b40000"/><path d="M453.68 61.06L454.51 60.92" stroke="#5a4c73"/><path d="M454.28 60.96L455.11 60.83" stroke="#43b2a0"/><path d="M454.87 60.86L455.70 60.73" stroke="#abca35"/><path d="M455.46 60.77L456.29 60.64" stroke="#dcaa07"/><path d="M456.05 60.67L456.88 60.54" stroke="#e58c00"/><path d="M456.65 60.58L457.47 60.45" stroke="#cd9b18"/><path d="M457.24 60.48L458.07 60.35" stroke="#82c85e"/><path d="M457.83 60.39L458.66 60.25" stroke="#51e58e"/><path d="M458.42 60.29L459.25 60.16" stroke="#62e57c"/><path d="M459.01 60.20L459.84 60.06" stroke="#7ce562"/><path d="M459.61 60.10L460.44 59.96" stroke="#85e559"/><path d="M460.20 60.00L461.03 59.87" stroke="#85e559"/><path d="M460.79 59.91L461.62 59.77" stroke="#85e559"/><path d="M461.38 59.81L462.21 59.67" stroke="#a5a43c"/><path d="M461.97 59.71L462.80 59.57" stroke="#d5420f"/><path d="M462.57 59.61L463.40 59.48" stroke="#e54800"/><path d="M463.16 59.52L463.99 59.38" stroke="#e55b00"/><path d="M463.75 59.42L464.58 59.28" stroke="#e53300"/><path d="M464.34 59.32L465.17 59.19" stroke="#e51700"/><path d="M464.93 59.22L465.76 59.09" stroke="#c50800"/><path d="M465.53 59.13L466.36 58.99" stroke="#a40000"/><path d="M466.12 59.02L466.95 58.94" stroke="#c51e00"/><path d="M466.71 58.97L467.55 58.90" stroke="#e55c00"/><path d="M467.31 58.92L468.15 58.85" stroke="#e58d00"/><path d="M467.91 58.87L468.75 58.80" stroke="#e4bb00"/><path d="M468.51 58.82L469.35 58.75" stroke="#e4b800"/><path d="M469.11 58.77L469.94 58.70" stroke="#e16600"/><path d="M469.71 58.66L470.48 58.97" stroke="#db1f00"/><path d="M470.26 58.87L471.02 59.24" stroke="#d90700"/><path d="M470.80 59.14L471.56 59.50" stroke="#d90700"/><path d="M471.34 59.40L472.10 59.76" stroke="#d90700"/><path d="M471.88 59.66L472.64 60.02" stroke="#c44418"/><path d="M472.47 59.87L472.94 60.55" stroke="#cb8c18"/><path d="M472.81 60.35L473.24 61.07" stroke="#b2b131"/><path d="M473.12 60.86L473.55 61.58" stroke="#79d866"/><path d="M473.43 61.38L473.86 62.10" stroke="#9ce542"/><path d="M473.73 61.89L474.17 62.61" stroke="#c5e519"/><path d="M474.04 62.41L474.48 63.13" stroke="#d5b60d"/><path d="M474.35 62.92L474.78 63.64" stroke="#da960b"/><path d="M474.67 63.43L474.96 64.22" stroke="#b6c52a"/><path d="M474.88 63.99L475.16 64.78" stroke="#9fe53f"/><path d="M475.08 64.56L475.37 65.35" stroke="#c27f20"/><path d="M475.29 65.12L475.57 65.91" stroke="#e51800"/><path d="M475.49 65.69L475.78 66.47" stroke="#e51800"/><path d="M475.69 66.25L475.98 67.04" stroke="#e51800"/><path d="M475.90 66.81L476.18 67.60" stroke="#e51800"/><path d="M476.10 67.38L476.39 68.17" stroke="#e51800"/><path d="M476.31 67.94L476.59 68.73" stroke="#730c73"/><path d="M476.51 68.51L476.79 69.30" stroke="#0000e5"/><path d="M476.71 69.07L477.00 69.86" stroke="#0037e5"/><path d="M476.92 69.63L477.20 70.42" stroke="#008ae5"/><path d="M477.12 70.20L477.41 70.99" stroke="#00a6e5"/><path d="M477.33 70.76L477.61 71.55" stroke="#17c6cb"/><path d="M477.52 71.33L477.84 72.10" stroke="#2ee5b0"/><path d="M477.74 71.89L478.12 72.64" stroke="#34e5ab"/><path d="M478.02 72.42L478.39 73.17" stroke="#45e599"/><path d="M478.29 72.96L478.67 73.71" stroke="#51e58e"/><path d="M478.56 73.49L478.94 74.24" stroke="#36c2ab"/><path d="M478.83 74.03L479.21 74.78" stroke="#0d8dd7"/><path d="M479.10 74.56L479.48 75.31" stroke="#007be5"/><path d="M479.37 75.10L479.75 75.85" stroke="#0060e5"/><path d="M479.64 75.63L480.02 76.38" stroke="#2655bf"/><path d="M479.91 76.17L480.29 76.92" stroke="#99844c"/><path d="M480.18 76.70L480.56 77.45" stroke="#e5a900"/><path d="M480.46 77.24L480.84 77.99" stroke="#e5b800"/><path d="M480.73 77.77L481.11 78.52" stroke="#98d34a"/><path d="M481.00 78.31L481.38 79.06" stroke="#4be593"/><path d="M481.27 78.84L481.64 79.59" stroke="#4be593"/><path d="M481.54 79.38L481.91 80.13" stroke="#98ac4a"/><path d="M481.80 79.92L482.17 80.67" stroke="#e57200"/><path d="M482.07 80.46L482.44 81.21" stroke="#e57200"/><path d="M482.33 80.99L482.71 81.75" stroke="#e59000"/><path d="M482.60 81.53L482.97 82.28" stroke="#e5ae00"/><path d="M482.86 82.07L483.24 82.82" stroke="#998d4c"/><path d="M483.13 82.61L483.50 83.36" stroke="#4c7299"/><path d="M483.40 83.15L483.77 83.90" stroke="#99a14c"/><path d="M483.66 83.68L484.03 84.44" stroke="#e5cc00"/><path d="M483.93 84.22L484.30 84.98" stroke="#e0d004"/><path d="M484.19 84.76L484.56 85.51" stroke="#b8dd29"/><path d="M484.46 85.30L484.83 86.05" stroke="#66e578"/><path d="M484.72 85.84L485.10 86.59" stroke="#3ce5a2"/><path d="M484.99 86.37L485.39 87.11" stroke="#51e58e"/><path d="M485.28 86.90L485.68 87.63" stroke="#65e579"/><path d="M485.57 87.42L485.97 88.16" stroke="#59bf86"/><path d="M485.86 87.95L486.26 88.68" stroke="#244cbf"/><path d="M486.15 88.47L486.56 89.21" stroke="#2525bf"/><path d="M486.44 89.00L486.85 89.73" stroke="#95934c"/><path d="M486.73 89.52L487.14 90.26" stroke="#dfdc00"/><path d="M487.02 90.05L487.43 90.78" stroke="#6fb373"/><path d="M487.31 90.57L487.72 91.31" stroke="#0096e5"/><path d="M487.60 91.10L488.01 91.83" stroke="#16b3cf"/><path d="M487.89 91.62L488.30 92.36" stroke="#57d48a"/><path d="M488.18 92.15L488.59 92.88" stroke="#83e55b"/><path d="M488.47 92.67L488.89 93.40" stroke="#89e555"/><path d="M488.77 93.20L489.18 93.93" stroke="#abe036"/><path d="M489.06 93.72L489.48 94.45" stroke="#d7d80d"/><path d="M489.36 94.24L489.78 94.97" stroke="#a7db3c"/><path d="M489.66 94.76L490.07 95.49" stroke="#4ae395"/><path d="M489.95 95.28L490.37 96.01" stroke="#2be5b3"/><path d="M490.25 95.80L490.67 96.53" stroke="#15bfcc"/><path d="M490.55 96.32L490.96 97.05" stroke="#0098e5"/><path d="M490.84 96.85L491.26 97.58" stroke="#738673"/><path d="M491.14 97.37L491.56 98.10" stroke="#c73a00"/><path d="M491.48 97.87L491.60 98.71" stroke="#c74300"/><path d="M491.56 98.47L491.68 99.30" stroke="#e58600"/><path d="M491.64 99.06L491.76 99.89" stroke="#e58600"/><path d="M491.76 99.68L491.61 100.34" stroke="#e58600"/><path d="M491.75 100.21L490.94 100.45" stroke="#e58600"/><path d="M491.17 100.38L490.37 100.62" stroke="#e58600"/><path d="M490.60 100.55L489.79 100.79" stroke="#92b64f"/><path d="M490.02 100.73L489.22 100.89" stroke="#3be5a3"/><path d="M489.44 100.92L488.69 100.56" stroke="#2ee5b0"/><path d="M488.90 100.66L488.15 100.30" stroke="#25e5b9"/><path d="M488.36 100.40L487.61 100.03" stroke="#1ce5c2"/><path d="M487.82 100.14L487.07 99.77" stroke="#14e5ca"/><path d="M487.28 99.88L486.53 99.51" stroke="#3fe59f"/><path d="M486.75 99.60L485.95 99.35" stroke="#7fdc60"/><path d="M486.18 99.41L485.37 99.20" stroke="#9ec844"/><path d="M485.60 99.26L484.79 99.04" stroke="#8ab258"/><path d="M485.02 99.11L484.21 98.89" stroke="#a8653b"/><path d="M484.44 98.95L483.63 98.73" stroke="#e57300"/><path d="M483.86 98.77L483.04 98.75" stroke="#e5c200"/><path d="M483.28 98.74L482.45 98.87" stroke="#cfce14"/><path d="M482.69 98.83L481.86 98.96" stroke="#addf32"/><path d="M482.09 98.93L481.26 99.06" stroke="#afe52f"/><path d="M481.50 99.02L480.67 99.15" stroke="#c4e51a"/><path d="M480.91 99.11L480.08 99.25" stroke="#cae514"/><path d="M480.32 99.21L479.49 99.34" stroke="#d8d50a"/><path d="M479.72 99.30L478.89 99.44" stroke="#e59100"/><path d="M479.13 99.40L478.30 99.53" stroke="#db4e00"/><path d="M478.54 99.49L477.71 99.65" stroke="#ba1f00"/><path d="M477.95 99.61L477.12 99.76" stroke="#a40000"/><path d="M477.36 99.72L476.54 99.88" stroke="#c55500"/><path d="M476.77 99.83L475.95 99.99" stroke="#a2c840"/><path d="M476.18 99.94L475.36 100.10" stroke="#5fe57f"/><path d="M475.59 100.06L474.77 100.22" stroke="#30d6b2"/><path d="M475.00 100.17L474.18 100.33" stroke="#00c6e5"/><path d="M474.41 100.28L473.59 100.44" stroke="#0fccd4"/><path d="M473.83 100.40L473.00 100.55" stroke="#3ddba3"/><path d="M473.24 100.51L472.41 100.67" stroke="#5ae584"/><path d="M472.65 100.62L471.82 100.78" stroke="#57e587"/><path d="M472.06 100.74L471.23 100.89" stroke="#6fe56f"/><path d="M471.47 100.85L470.65 101.03" stroke="#88e556"/><path d="M470.88 100.97L470.06 101.16" stroke="#5a9986"/><path d="M470.30 101.11L469.48 101.30" stroke="#1726ce"/><path d="M469.71 101.24L468.89 101.43" stroke="#1473ce"/><path d="M469.13 101.38L468.31 101.56" stroke="#61e57d"/><path d="M468.54 101.51L467.72 101.70" stroke="#b7e527"/><path d="M467.96 101.65L467.14 101.83" stroke="#d3e50b"/><path d="M467.37 101.78L466.56 101.97" stroke="#dadf05"/><path d="M466.79 101.91L465.97 102.10" stroke="#e2d900"/><path d="M466.20 102.05L465.39 102.24" stroke="#d8db0a"/><path d="M465.62 102.18L464.80 102.37" stroke="#b9e126"/><path d="M465.04 102.32L464.22 102.51" stroke="#a5e539"/><path d="M464.45 102.45L463.63 102.64" stroke="#6fdf70"/><path d="M463.87 102.59L463.05 102.77" stroke="#1dd5c1"/><path d="M463.28 102.72L462.46 102.91" stroke="#25d8b9"/><path d="M462.70 102.86L461.88 103.04" stroke="#59e285"/><path d="M462.11 102.99L461.29 103.17" stroke="#479999"/><path d="M461.53 103.12L460.71 103.31" stroke="#1226d2"/><path d="M460.94 103.25L460.12 103.44" stroke="#0000e5"/><path d="M460.36 103.39L459.54 103.57" stroke="#0000e5"/><path d="M459.77 103.52L458.95 103.71" stroke="#0000e5"/><path d="M459.19 103.65L458.37 103.84" stroke="#0000e5"/><path d="M458.60 103.79L457.78 103.97" stroke="#0000e5"/><path d="M458.02 103.92L457.20 104.11" stroke="#0000e5"/><path d="M457.43 104.05L456.61 104.24" stroke="#0000e5"/><path d="M456.85 104.18L456.03 104.37" stroke="#0000e5"/><path d="M456.26 104.32L455.44 104.50" stroke="#0000e5"/><path d="M455.68 104.45L454.86 104.64" stroke="#0000e5"/><path d="M455.09 104.58L454.27 104.77" stroke="#0000e5"/><path d="M454.51 104.72L453.69 104.90" stroke="#0000e5"/><path d="M453.92 104.85L453.11 105.06" stroke="#0000e5"/><path d="M453.34 105.00L452.53 105.22" stroke="#732f73"/><path d="M452.76 105.15L451.95 105.37" stroke="#e55e00"/><path d="M452.18 105.31L451.37 105.53" stroke="#e55e00"/><path d="M451.60 105.47L450.79 105.68" stroke="#e55e00"/><path d="M451.02 105.62L450.21 105.84" stroke="#732f73"/><path d="M450.44 105.78L449.63 106.00" stroke="#0000e5"/><path d="M449.86 105.93L449.05 106.15" stroke="#0000e5"/><path d="M449.29 106.09L448.47 106.31" stroke="#0000e5"/><path d="M448.71 106.25L447.90 106.47" stroke="#001ce5"/><path d="M448.13 106.40L447.32 106.62" stroke="#6f8a73"/><path d="M447.55 106.56L446.73 106.75" stroke="#dfdc00"/><path d="M446.96 106.70L446.15 106.89" stroke="#d9de06"/><path d="M446.38 106.83L445.56 107.02" stroke="#c6e219"/><path d="M445.79 106.96L444.98 107.15" stroke="#b29919"/><path d="M445.21 107.10L444.39 107.28" stroke="#a72606"/><path d="M444.62 107.23L443.81 107.42" stroke="#a40000"/><path d="M444.04 107.36L443.22 107.55" stroke="#a40000"/><path d="M443.45 107.50L442.64 107.68" stroke="#bc7305"/><path d="M442.87 107.63L442.05 107.82" stroke="#d3e50b"/><path d="M442.28 107.76L441.47 107.95" stroke="#d3e50b"/><path d="M441.70 107.90L440.88 108.08" stroke="#dcd005"/><path d="M441.11 108.03L440.30 108.21" stroke="#e5bb00"/><path d="M440.53 108.16L439.71 108.35" stroke="#d1d011"/><path d="M439.94 108.29L439.13 108.48" stroke="#bce522"/><path d="M439.36 108.43L438.54 108.61" stroke="#bce522"/><path d="M438.78 108.56L437.95 108.73" stroke="#a0e53e"/><path d="M438.19 108.68L437.36 108.84" stroke="#85e559"/><path d="M437.60 108.80L436.77 108.96" stroke="#a2e43c"/><path d="M437.01 108.91L436.19 109.07" stroke="#bc9610"/><path d="M436.42 109.03L435.60 109.19" stroke="#b12500"/><path d="M435.83 109.14L435.01 109.30" stroke="#b21b00"/><path d="M435.24 109.26L434.42 109.42" stroke="#d16d00"/><path d="M434.65 109.37L433.83 109.53" stroke="#e59f00"/><path d="M434.07 109.49L433.24 109.65" stroke="#e59200"/><path d="M433.48 109.60L432.65 109.76" stroke="#bf7b26"/><path d="M432.89 109.72L432.06 109.88" stroke="#736973"/><path d="M432.30 109.83L431.47 109.99" stroke="#99914c"/><path d="M431.71 109.95L430.89 110.11" stroke="#e5be00"/><path d="M431.12 110.06L430.30 110.22" stroke="#dcc509"/><path d="M430.53 110.18L429.71 110.34" stroke="#bed822"/><path d="M429.94 110.29L429.12 110.44" stroke="#abe534"/><path d="M429.35 110.39L428.53 110.54" stroke="#a3e53b"/><path d="M428.76 110.50L427.93 110.64" stroke="#8ce553"/><path d="M428.17 110.60L427.34 110.74" stroke="#7ce562"/><path d="M427.58 110.70L426.75 110.84" stroke="#3e73a4"/><path d="M426.99 110.80L426.16 110.94" stroke="#0000e5"/><path d="M426.40 110.90L425.57 111.05" stroke="#732a73"/><path d="M425.81 111.01L424.98 111.15" stroke="#829c5f"/><path d="M425.21 111.11L424.39 111.25" stroke="#32e5ac"/><path d="M424.62 111.22L423.80 111.28" stroke="#6be573"/><path d="M424.03 111.29L423.20 111.15" stroke="#90e54e"/><path d="M423.44 111.19L422.61 111.04" stroke="#60c880"/><path d="M422.85 111.08L422.02 110.94" stroke="#189ccc"/><path d="M422.26 110.98L421.43 110.84" stroke="#42b99f"/><path d="M421.66 110.90L420.90 110.61" stroke="#7fe55f"/><path d="M421.10 110.72L420.44 110.21" stroke="#6ee570"/><path d="M420.63 110.36L419.96 109.84" stroke="#68e576"/><path d="M420.15 109.99L419.49 109.48" stroke="#70e56e"/><path d="M419.68 109.62L419.01 109.11" stroke="#86c259"/><path d="M419.16 109.29L418.80 108.56" stroke="#bd5624"/><path d="M418.89 108.77L418.62 107.98" stroke="#c30700"/><path d="M418.70 108.21L418.42 107.41" stroke="#a40000"/><path d="M418.50 107.64L418.23 106.84" stroke="#a40000"/><path d="M418.31 107.07L418.04 106.28" stroke="#a42609"/><path d="M418.11 106.50L417.84 105.71" stroke="#a69924"/><path d="M417.92 105.93L417.65 105.14" stroke="#93e54b"/><path d="M417.73 105.37L417.46 104.57" stroke="#9ede43"/><path d="M417.53 104.80L417.26 104.00" stroke="#d1d313"/><path d="M417.34 104.23L417.07 103.44" stroke="#c56700"/><path d="M417.15 103.66L416.88 102.87" stroke="#a40000"/><path d="M416.96 103.09L416.69 102.30" stroke="#a40000"/><path d="M416.76 102.53L416.49 101.73" stroke="#be7103"/><path d="M416.57 101.96L416.30 101.16" stroke="#d0e30e"/><path d="M416.38 101.39L416.11 100.59" stroke="#b4e52a"/><path d="M416.19 100.82L415.92 100.03" stroke="#a2e53c"/><path d="M415.99 100.25L415.72 99.46" stroke="#a39928"/><path d="M415.80 99.69L415.53 98.89" stroke="#6e6c53"/><path d="M415.61 99.12L415.34 98.32" stroke="#1daeb7"/><path d="M415.42 98.55L415.14 97.76" stroke="#22dbbc"/><path d="M415.22 97.98L414.95 97.19" stroke="#42e59c"/><path d="M415.02 97.41L414.75 96.62" stroke="#73734e"/><path d="M414.83 96.85L414.55 96.05" stroke="#ad4c0a"/><path d="M414.63 96.28L414.36 95.49" stroke="#babf1a"/><path d="M414.43 95.71L414.16 94.92" stroke="#ade531"/><path d="M414.24 95.15L413.96 94.35" stroke="#79e565"/><path d="M414.04 94.58L413.77 93.79" stroke="#56e588"/><path d="M413.84 94.01L413.57 93.22" stroke="#9e8444"/><path d="M413.65 93.45L413.37 92.65" stroke="#db1c00"/><path d="M413.45 92.88L413.18 92.09" stroke="#ba0b00"/><path d="M413.26 92.31L412.98 91.52" stroke="#a40000"/><path d="M413.06 91.75L412.78 90.95" stroke="#a74c10"/><path d="M412.87 91.18L412.56 90.40" stroke="#acbf29"/><path d="M412.65 90.62L412.34 89.84" stroke="#ade531"/><path d="M412.43 90.06L412.11 89.28" stroke="#74a56d"/><path d="M412.20 89.51L411.89 88.73" stroke="#1d45c7"/><path d="M411.98 88.95L411.67 88.17" stroke="#0024e5"/><path d="M411.76 88.39L411.44 87.61" stroke="#1d65c6"/><path d="M411.53 87.83L411.22 87.05" stroke="#48c597"/><path d="M411.31 87.28L411.00 86.50" stroke="#48bf97"/><path d="M411.09 86.72L410.78 85.94" stroke="#1d4cc6"/><path d="M410.87 86.16L410.55 85.38" stroke="#0000e5"/><path d="M410.64 85.61L410.33 84.83" stroke="#1a73c8"/><path d="M410.42 85.05L410.11 84.27" stroke="#2bddb4"/><path d="M410.20 84.49L409.89 83.71" stroke="#11c8d2"/><path d="M409.97 83.94L409.66 83.16" stroke="#00c0e5"/><path d="M409.75 83.38L409.44 82.60" stroke="#00c6e5"/><path d="M409.53 82.82L409.22 82.04" stroke="#00aae5"/><path d="M409.31 82.26L408.99 81.48" stroke="#008de5"/><path d="M409.08 81.71L408.77 80.93" stroke="#008de5"/><path d="M408.87 81.15L408.52 80.38" stroke="#739d73"/><path d="M408.62 80.60L408.27 79.84" stroke="#e5ae00"/><path d="M408.37 80.06L408.02 79.29" stroke="#e59a00"/><path d="M408.12 79.51L407.77 78.75" stroke="#9ab648"/><path d="M407.87 78.97L407.52 78.20" stroke="#4ee590"/><path d="M407.62 78.42L407.27 77.66" stroke="#59e585"/><path d="M407.37 77.88L407.02 77.11" stroke="#65e579"/><path d="M407.12 77.33L406.77 76.57" stroke="#73e56b"/><path d="M406.87 76.79L406.53 76.02" stroke="#9de541"/><path d="M406.61 76.24L406.35 75.44" stroke="#b9e525"/><path d="M406.42 75.67L406.16 74.88" stroke="#5d7385"/><path d="M406.23 75.10L405.97 74.31" stroke="#0225e2"/><path d="M406.04 74.53L405.78 73.74" stroke="#0995d7"/><path d="M405.85 73.96L405.59 73.17" stroke="#0ee0d0"/><path d="M405.67 73.40L405.40 72.60" stroke="#25e1b9"/><path d="M405.48 72.83L405.21 72.03" stroke="#6de471"/><path d="M405.29 72.26L405.02 71.46" stroke="#9ce542"/><path d="M405.09 71.69L404.87 70.88" stroke="#5ce582"/><path d="M404.90 71.12L404.90 70.28" stroke="#1ce5c2"/><path d="M404.90 70.52L404.90 69.68" stroke="#1ce5c2"/><path d="M404.90 69.84L404.90 69.56" stroke="#21e5bd"/></g>
<path d="M44.50 276.80L50.00 273.80L59.10 271.00L66.00 269.80L73.60 268.80L80.00 268.30L88.20 268.10L94.10 268.60L101.40 269.70L106.80 271.20L111.40 272.70L113.90 274.50L114.50 276.40L113.60 278.20L112.70 279.40" fill="none" stroke="#585858" stroke-width="0.75" stroke-dasharray="2.2 1.0"/>
<g fill="none" stroke-width="0.95" stroke-linecap="butt"><path d="M109.42 279.49L110.12 278.72" stroke="#f10800"/><path d="M109.96 278.90L110.66 278.13" stroke="#f10800"/><path d="M110.56 278.34L110.79 277.32" stroke="#f10800"/><path d="M110.73 277.55L111.03 276.57" stroke="#f10800"/><path d="M110.92 276.78L111.58 275.97" stroke="#f10800"/><path d="M111.42 276.16L112.11 275.38" stroke="#f10800"/><path d="M111.95 275.55L112.68 274.82" stroke="#e80000"/><path d="M112.53 275.00L113.14 274.18" stroke="#da0000"/><path d="M113.03 274.39L113.34 273.40" stroke="#c80000"/><path d="M113.33 273.62L113.08 272.72" stroke="#b60000"/><path d="M113.18 272.92L112.54 272.10" stroke="#9b0000"/><path d="M112.70 272.28L111.96 271.57" stroke="#800000"/><path d="M112.15 271.71L111.24 271.20" stroke="#840000"/><path d="M111.45 271.32L110.55 270.80" stroke="#8d0000"/><path d="M110.76 270.92L109.85 270.40" stroke="#960000"/><path d="M110.06 270.51L109.14 270.05" stroke="#9f0000"/><path d="M109.35 270.14L108.38 269.77" stroke="#a80000"/><path d="M108.61 269.85L107.64 269.48" stroke="#b20000"/><path d="M107.86 269.56L106.89 269.18" stroke="#bb0000"/><path d="M107.11 269.27L106.14 268.89" stroke="#c40000"/><path d="M106.37 268.97L105.38 268.66" stroke="#cd0000"/><path d="M105.61 268.73L104.60 268.48" stroke="#d60000"/><path d="M104.83 268.54L103.82 268.29" stroke="#da0000"/><path d="M104.05 268.35L103.04 268.10" stroke="#df0000"/><path d="M103.27 268.16L102.26 267.91" stroke="#e80000"/><path d="M102.50 267.97L101.48 267.72" stroke="#ed0400"/><path d="M101.72 267.77L100.69 267.58" stroke="#f10800"/><path d="M100.93 267.62L99.90 267.46" stroke="#f10800"/><path d="M100.14 267.49L99.11 267.33" stroke="#f10800"/><path d="M99.35 267.36L98.32 267.20" stroke="#f10800"/><path d="M98.56 267.24L97.53 267.07" stroke="#f10800"/><path d="M97.77 267.11L96.74 266.94" stroke="#f10800"/><path d="M96.98 266.98L95.95 266.81" stroke="#f10800"/><path d="M96.19 266.84L95.15 266.73" stroke="#f10800"/><path d="M95.39 266.75L94.35 266.65" stroke="#f60b00"/><path d="M94.59 266.68L93.56 266.58" stroke="#fa0f00"/><path d="M93.80 266.60L92.76 266.50" stroke="#fa0f00"/><path d="M93.00 266.52L91.96 266.42" stroke="#ff1300"/><path d="M92.20 266.45L91.16 266.35" stroke="#ff1600"/><path d="M91.40 266.37L90.37 266.27" stroke="#ff1600"/><path d="M90.61 266.30L89.57 266.20" stroke="#ff1a00"/><path d="M89.81 266.21L88.77 266.18" stroke="#ff1e00"/><path d="M89.01 266.18L87.97 266.15" stroke="#ff2200"/><path d="M88.21 266.16L87.17 266.13" stroke="#ff2900"/><path d="M87.41 266.14L86.36 266.11" stroke="#ff2d00"/><path d="M86.61 266.12L85.56 266.09" stroke="#ff3000"/><path d="M85.80 266.09L84.76 266.07" stroke="#ff3800"/><path d="M85.00 266.07L83.96 266.04" stroke="#ff3b00"/><path d="M84.20 266.05L83.16 266.02" stroke="#ff4300"/><path d="M83.40 266.03L82.36 266.00" stroke="#ff4700"/><path d="M82.60 265.99L81.56 266.07" stroke="#ff4e00"/><path d="M81.80 266.05L80.76 266.13" stroke="#ff5200"/><path d="M81.00 266.11L79.96 266.20" stroke="#ff5900"/><path d="M80.20 266.18L79.17 266.27" stroke="#ff6000"/><path d="M79.41 266.25L78.37 266.33" stroke="#ff6400"/><path d="M78.61 266.31L77.57 266.40" stroke="#ff6c00"/><path d="M77.81 266.38L76.77 266.46" stroke="#ff7300"/><path d="M77.01 266.44L75.97 266.53" stroke="#ff7700"/><path d="M76.21 266.51L75.17 266.59" stroke="#ff7e00"/><path d="M75.41 266.57L74.38 266.73" stroke="#ff8600"/><path d="M74.62 266.69L73.60 266.87" stroke="#ff8d00"/><path d="M73.83 266.83L72.81 267.02" stroke="#ff9400"/><path d="M73.04 266.97L72.02 267.16" stroke="#ff9c00"/><path d="M72.26 267.12L71.23 267.30" stroke="#ffa300"/><path d="M71.47 267.26L70.44 267.45" stroke="#ffae00"/><path d="M70.68 267.40L69.65 267.59" stroke="#ffb600"/><path d="M69.89 267.55L68.87 267.73" stroke="#ffbd00"/><path d="M69.10 267.69L68.08 267.87" stroke="#ffc400"/><path d="M68.31 267.83L67.28 267.99" stroke="#ffcc00"/><path d="M67.52 267.95L66.49 268.11" stroke="#ffd300"/><path d="M66.73 268.07L65.70 268.23" stroke="#ffdb00"/><path d="M65.94 268.19L64.91 268.35" stroke="#ffe200"/><path d="M65.15 268.32L64.12 268.47" stroke="#ffe600"/><path d="M64.35 268.44L63.32 268.60" stroke="#feed00"/><path d="M63.56 268.56L62.53 268.72" stroke="#f8f500"/><path d="M62.77 268.68L61.74 268.85" stroke="#f1fc06"/><path d="M61.98 268.81L60.96 269.04" stroke="#ebff0c"/><path d="M61.20 268.99L60.18 269.22" stroke="#e4ff13"/><path d="M60.42 269.17L59.40 269.40" stroke="#deff19"/><path d="M59.64 269.35L58.62 269.58" stroke="#d4ff23"/><path d="M58.85 269.53L57.84 269.76" stroke="#ceff29"/><path d="M58.07 269.71L57.06 269.94" stroke="#c7ff30"/><path d="M57.29 269.89L56.28 270.12" stroke="#c1ff36"/><path d="M56.51 270.07L55.50 270.30" stroke="#baff3c"/><path d="M55.73 270.24L54.74 270.55" stroke="#b4ff43"/><path d="M54.97 270.48L53.98 270.81" stroke="#adff49"/><path d="M54.21 270.73L53.22 271.06" stroke="#a7ff50"/><path d="M53.45 270.98L52.46 271.31" stroke="#9dff5a"/><path d="M52.69 271.24L51.70 271.57" stroke="#97ff60"/><path d="M51.93 271.49L50.94 271.82" stroke="#90ff66"/><path d="M51.16 271.75L50.18 272.07" stroke="#8aff6d"/><path d="M50.40 272.00L49.42 272.33" stroke="#83ff73"/><path d="M49.64 272.25L48.67 272.61" stroke="#7dff7a"/><path d="M48.89 272.51L47.98 273.02" stroke="#77ff80"/><path d="M48.19 272.90L47.28 273.42" stroke="#70ff87"/><path d="M47.49 273.30L46.59 273.82" stroke="#6aff8d"/><path d="M46.80 273.70L45.89 274.21" stroke="#63ff94"/><path d="M46.10 274.09L45.19 274.61" stroke="#5aff9d"/><path d="M45.40 274.49L44.50 275.00" stroke="#53ffa4"/><path d="M44.71 274.89L43.80 275.40" stroke="#4dffaa"/><path d="M44.01 275.28L43.11 275.80" stroke="#46ffb1"/><path d="M43.30 275.66L42.48 276.30" stroke="#40ffb7"/><path d="M42.67 276.15L41.86 276.81" stroke="#39ffbe"/><path d="M42.05 276.66L41.24 277.32" stroke="#33ffc4"/><path d="M41.43 277.17L40.62 277.83" stroke="#29ffce"/><path d="M40.81 277.67L40.00 278.33" stroke="#23ffd4"/><path d="M40.19 278.18L39.38 278.84" stroke="#1cffdb"/><path d="M39.57 278.69L38.76 279.35" stroke="#16ffe1"/><path d="M38.93 279.18L38.27 279.98" stroke="#0ff8e7"/><path d="M38.42 279.79L37.81 280.63" stroke="#06ecf1"/><path d="M37.95 280.44L37.34 281.28" stroke="#00e4f8"/><path d="M37.48 281.08L36.87 281.93" stroke="#00d8ff"/><path d="M37.01 281.73L36.40 282.58" stroke="#00d0ff"/><path d="M36.54 282.38L35.93 283.23" stroke="#00c4ff"/><path d="M36.04 283.02L35.64 283.96" stroke="#00bcff"/><path d="M35.71 283.73L35.46 284.74" stroke="#00b4ff"/><path d="M35.52 284.51L35.26 285.52" stroke="#00acff"/><path d="M35.32 285.29L35.06 286.30" stroke="#00a4ff"/><path d="M35.12 286.06L34.86 287.07" stroke="#009cff"/><path d="M34.92 286.84L34.67 287.85" stroke="#0094ff"/><path d="M34.70 287.61L34.70 288.65" stroke="#008cff"/><path d="M34.70 288.41L34.70 289.46" stroke="#0080ff"/><path d="M34.69 289.22L34.80 290.24" stroke="#0078ff"/><path d="M34.74 290.01L35.14 290.97" stroke="#0070ff"/><path d="M35.05 290.75L35.44 291.71" stroke="#006cff"/><path d="M35.35 291.49L35.75 292.46" stroke="#0064ff"/><path d="M35.65 292.23L36.05 293.20" stroke="#0060ff"/><path d="M35.96 292.97L36.35 293.94" stroke="#005cff"/><path d="M36.24 293.73L36.79 294.58" stroke="#0054ff"/><path d="M36.63 294.41L37.44 295.07" stroke="#0054ff"/><path d="M37.25 294.92L38.06 295.57" stroke="#0054ff"/><path d="M37.87 295.42L38.68 296.08" stroke="#0050ff"/><path d="M38.49 295.93L39.30 296.59" stroke="#0050ff"/><path d="M39.11 296.44L39.92 297.10" stroke="#0050ff"/><path d="M39.73 296.94L40.54 297.60" stroke="#004cff"/><path d="M40.35 297.46L41.20 298.04" stroke="#004cff"/><path d="M40.99 297.93L41.96 298.30" stroke="#0048ff"/><path d="M41.74 298.22L42.71 298.59" stroke="#0048ff"/><path d="M42.49 298.50L43.46 298.87" stroke="#0048ff"/><path d="M43.24 298.78L44.21 299.15" stroke="#0048ff"/><path d="M43.99 299.07L44.96 299.44" stroke="#0044ff"/><path d="M44.73 299.35L45.71 299.72" stroke="#0044ff"/><path d="M45.48 299.64L46.46 300.01" stroke="#0044ff"/><path d="M46.23 299.92L47.21 300.29" stroke="#0040ff"/><path d="M46.98 300.22L47.98 300.49" stroke="#0040ff"/><path d="M47.74 300.44L48.77 300.59" stroke="#0040ff"/><path d="M48.54 300.56L49.57 300.72" stroke="#0040ff"/><path d="M49.33 300.68L50.36 300.84" stroke="#003cff"/><path d="M50.12 300.80L51.15 300.96" stroke="#003cff"/><path d="M50.91 300.92L51.94 301.08" stroke="#003cff"/><path d="M51.71 301.04L52.73 301.20" stroke="#0038ff"/><path d="M52.50 301.16L53.53 301.32" stroke="#0038ff"/><path d="M53.29 301.28L54.32 301.44" stroke="#0038ff"/><path d="M54.08 301.41L55.11 301.53" stroke="#0038ff"/><path d="M54.88 301.51L55.92 301.55" stroke="#0038ff"/><path d="M55.68 301.54L56.72 301.58" stroke="#0038ff"/><path d="M56.48 301.57L57.52 301.62" stroke="#0038ff"/><path d="M57.28 301.61L58.32 301.65" stroke="#0038ff"/><path d="M58.08 301.64L59.12 301.68" stroke="#0038ff"/><path d="M58.88 301.67L59.92 301.71" stroke="#0038ff"/><path d="M59.68 301.70L60.72 301.75" stroke="#0038ff"/><path d="M60.48 301.74L61.52 301.78" stroke="#0038ff"/><path d="M61.28 301.77L62.32 301.79" stroke="#0038ff"/><path d="M62.08 301.79L63.12 301.72" stroke="#0038ff"/><path d="M62.88 301.74L63.92 301.67" stroke="#0038ff"/><path d="M63.68 301.68L64.72 301.61" stroke="#0038ff"/><path d="M64.48 301.63L65.52 301.56" stroke="#0038ff"/><path d="M65.28 301.58L66.32 301.50" stroke="#0038ff"/><path d="M66.08 301.52L67.12 301.45" stroke="#0038ff"/><path d="M66.88 301.47L67.92 301.39" stroke="#0038ff"/><path d="M67.68 301.41L68.72 301.34" stroke="#0038ff"/><path d="M68.48 301.36L69.51 301.27" stroke="#0038ff"/><path d="M69.28 301.31L70.29 301.09" stroke="#0034ff"/><path d="M70.06 301.14L71.08 300.93" stroke="#0034ff"/><path d="M70.84 300.98L71.86 300.77" stroke="#0034ff"/><path d="M71.63 300.81L72.65 300.60" stroke="#0034ff"/><path d="M72.41 300.65L73.43 300.44" stroke="#0030ff"/><path d="M73.20 300.49L74.22 300.28" stroke="#0030ff"/><path d="M73.98 300.32L75.00 300.11" stroke="#0030ff"/><path d="M74.77 300.16L75.79 299.95" stroke="#002cff"/><path d="M75.55 300.00L76.57 299.79" stroke="#002cff"/><path d="M76.34 299.85L77.31 299.48" stroke="#002cff"/><path d="M77.09 299.57L78.06 299.19" stroke="#0028ff"/><path d="M77.84 299.28L78.81 298.90" stroke="#0024ff"/><path d="M78.58 298.99L79.55 298.61" stroke="#0024ff"/><path d="M79.33 298.70L80.30 298.32" stroke="#0020ff"/><path d="M80.08 298.41L81.05 298.03" stroke="#001cff"/><path d="M80.82 298.12L81.79 297.74" stroke="#001cff"/><path d="M81.57 297.82L82.54 297.44" stroke="#0018ff"/><path d="M82.32 297.54L83.23 297.04" stroke="#0014ff"/><path d="M83.02 297.16L83.93 296.65" stroke="#0010ff"/><path d="M83.72 296.77L84.64 296.27" stroke="#0010ff"/><path d="M84.42 296.38L85.34 295.88" stroke="#000cff"/><path d="M85.13 296.00L86.04 295.49" stroke="#0008ff"/><path d="M85.83 295.61L86.74 295.11" stroke="#0004ff"/><path d="M86.53 295.22L87.44 294.72" stroke="#0000ff"/><path d="M87.23 294.83L88.14 294.33" stroke="#0000ff"/><path d="M87.93 294.45L88.84 293.94" stroke="#0000ff"/><path d="M88.63 294.06L89.55 293.56" stroke="#0000ff"/><path d="M89.34 293.67L90.25 293.17" stroke="#0000ff"/><path d="M90.04 293.29L90.95 292.78" stroke="#0000fa"/><path d="M90.74 292.90L91.65 292.40" stroke="#0000f6"/><path d="M91.44 292.51L92.35 292.01" stroke="#0000f1"/><path d="M92.14 292.13L93.05 291.62" stroke="#0000ed"/><path d="M92.84 291.74L93.76 291.23" stroke="#0000e8"/><path d="M93.55 291.35L94.45 290.83" stroke="#0000e8"/><path d="M94.24 290.95L95.13 290.42" stroke="#0000e3"/><path d="M94.93 290.54L95.82 290.01" stroke="#0000df"/><path d="M95.62 290.13L96.51 289.59" stroke="#0000da"/><path d="M96.30 289.72L97.20 289.18" stroke="#0000d6"/><path d="M96.99 289.31L97.88 288.77" stroke="#0000d1"/><path d="M97.68 288.89L98.57 288.36" stroke="#0000cd"/><path d="M98.36 288.48L99.26 287.95" stroke="#0000c8"/><path d="M99.05 288.07L99.96 287.56" stroke="#0000c4"/><path d="M99.75 287.67L100.67 287.20" stroke="#0000bf"/><path d="M100.46 287.31L101.39 286.83" stroke="#0000bb"/><path d="M101.17 286.94L102.10 286.47" stroke="#0000b6"/><path d="M101.89 286.58L102.81 286.10" stroke="#0000b2"/><path d="M102.60 286.21L103.53 285.74" stroke="#0000ad"/><path d="M103.31 285.84L104.24 285.38" stroke="#0000a8"/><path d="M104.03 285.49L104.96 285.02" stroke="#0000a4"/><path d="M104.74 285.13L105.68 284.66" stroke="#00009f"/><path d="M105.46 284.77L106.39 284.30" stroke="#00009b"/><path d="M106.18 284.41L107.11 283.95" stroke="#000096"/><path d="M106.90 284.05L107.83 283.60" stroke="#000092"/><path d="M107.62 283.70L108.55 283.25" stroke="#00008d"/><path d="M108.34 283.35L109.27 282.90" stroke="#000089"/><path d="M109.06 283.00L109.99 282.55" stroke="#000084"/><path d="M109.78 282.65L110.70 282.17" stroke="#000080"/><path d="M110.50 282.30L111.32 281.66" stroke="#000080"/><path d="M111.13 281.81L111.95 281.17" stroke="#000080"/><path d="M111.78 281.33L112.43 280.58" stroke="#000080"/><path d="M112.33 280.78L112.55 279.76" stroke="#000080"/><path d="M112.50 280.00L112.73 278.98" stroke="#000080"/></g>
<path d="M227.20 296.20L228.70 298.80L234.50 300.50L241.80 301.80L249.10 303.00L256.40 304.40L263.60 305.80L269.50 306.80L275.30 305.80L279.60 304.20L282.00 302.00" fill="none" stroke="#585858" stroke-width="0.75" stroke-dasharray="2.2 1.0"/>
<g fill="none" stroke-width="0.95" stroke-linecap="butt"><path d="M234.56 279.60L234.01 280.48" stroke="#840000"/><path d="M234.14 280.27L233.58 281.15" stroke="#960000"/><path d="M233.71 280.95L233.15 281.82" stroke="#a80000"/><path d="M233.27 281.62L232.77 282.53" stroke="#bb0000"/><path d="M232.88 282.32L232.41 283.24" stroke="#c80000"/><path d="M232.52 283.03L232.04 283.95" stroke="#d60000"/><path d="M232.15 283.74L231.67 284.66" stroke="#e40000"/><path d="M231.77 284.44L231.41 285.41" stroke="#f60b00"/><path d="M231.49 285.18L231.19 286.18" stroke="#ff1a00"/><path d="M231.26 285.95L230.96 286.94" stroke="#ff2900"/><path d="M231.03 286.72L230.73 287.71" stroke="#ff3800"/><path d="M230.80 287.48L230.51 288.48" stroke="#ff4a00"/><path d="M230.57 288.25L230.29 289.25" stroke="#ff5500"/><path d="M230.36 289.02L230.08 290.02" stroke="#ff6000"/><path d="M230.14 289.79L229.86 290.79" stroke="#ff6c00"/><path d="M229.93 290.56L229.65 291.56" stroke="#ff7700"/><path d="M229.72 291.33L229.40 292.31" stroke="#ff7e00"/><path d="M229.50 292.10L228.93 292.96" stroke="#ff8900"/><path d="M229.06 292.76L228.50 293.63" stroke="#ff8d00"/><path d="M228.63 293.43L228.06 294.30" stroke="#ff9400"/><path d="M228.19 294.10L227.62 294.97" stroke="#ff9c00"/><path d="M227.66 294.76L227.88 295.70" stroke="#ffa300"/><path d="M227.81 295.48L228.23 296.43" stroke="#ffae00"/><path d="M228.13 296.21L228.55 297.16" stroke="#ffb900"/><path d="M228.43 296.97L229.07 297.66" stroke="#ffc400"/><path d="M228.88 297.55L229.88 297.83" stroke="#ffcc00"/><path d="M229.65 297.76L230.65 298.04" stroke="#ffd300"/><path d="M230.42 297.98L231.42 298.25" stroke="#ffd700"/><path d="M231.19 298.19L232.19 298.46" stroke="#ffde00"/><path d="M231.96 298.40L232.96 298.68" stroke="#ffe600"/><path d="M232.73 298.61L233.73 298.89" stroke="#ffea00"/><path d="M233.50 298.83L234.50 299.10" stroke="#fbf100"/><path d="M234.27 299.05L235.29 299.24" stroke="#f8f500"/><path d="M235.06 299.20L236.08 299.38" stroke="#f4f802"/><path d="M235.84 299.34L236.87 299.52" stroke="#f4f802"/><path d="M236.63 299.48L237.65 299.66" stroke="#f1fc06"/><path d="M237.42 299.62L238.44 299.80" stroke="#eeff09"/><path d="M238.20 299.76L239.22 299.94" stroke="#eeff09"/><path d="M238.99 299.90L240.01 300.08" stroke="#ebff0c"/><path d="M239.78 300.04L240.80 300.22" stroke="#ebff0c"/><path d="M240.56 300.18L241.58 300.36" stroke="#e7ff0f"/><path d="M241.35 300.32L242.37 300.49" stroke="#e7ff0f"/><path d="M242.14 300.45L243.16 300.61" stroke="#e4ff13"/><path d="M242.93 300.57L243.95 300.72" stroke="#e1ff16"/><path d="M243.72 300.69L244.74 300.84" stroke="#deff19"/><path d="M244.51 300.81L245.53 300.96" stroke="#dbff1c"/><path d="M245.30 300.93L246.32 301.08" stroke="#dbff1c"/><path d="M246.09 301.05L247.11 301.20" stroke="#d7ff1f"/><path d="M246.88 301.17L247.90 301.32" stroke="#d4ff23"/><path d="M247.67 301.28L248.70 301.44" stroke="#d1ff26"/><path d="M248.46 301.40L249.48 301.57" stroke="#ceff29"/><path d="M249.25 301.53L250.26 301.74" stroke="#caff2c"/><path d="M250.03 301.69L251.05 301.90" stroke="#c7ff30"/><path d="M250.81 301.85L251.83 302.06" stroke="#c4ff33"/><path d="M251.59 302.01L252.61 302.22" stroke="#c1ff36"/><path d="M252.38 302.17L253.39 302.38" stroke="#beff39"/><path d="M253.16 302.33L254.18 302.54" stroke="#baff3c"/><path d="M253.94 302.50L254.96 302.70" stroke="#b7ff40"/><path d="M254.73 302.66L255.74 302.87" stroke="#b1ff46"/><path d="M255.51 302.82L256.53 303.03" stroke="#adff49"/><path d="M256.29 302.98L257.31 303.19" stroke="#aaff4d"/><path d="M257.07 303.14L258.09 303.35" stroke="#a7ff50"/><path d="M257.86 303.30L258.87 303.52" stroke="#a4ff53"/><path d="M258.64 303.47L259.65 303.68" stroke="#a0ff56"/><path d="M259.42 303.63L260.44 303.84" stroke="#9dff5a"/><path d="M260.20 303.79L261.22 304.00" stroke="#9aff5d"/><path d="M260.98 303.96L262.00 304.17" stroke="#97ff60"/><path d="M261.77 304.12L262.78 304.33" stroke="#94ff63"/><path d="M262.55 304.28L263.57 304.49" stroke="#8dff6a"/><path d="M263.33 304.45L264.35 304.63" stroke="#8aff6d"/><path d="M264.12 304.59L265.14 304.76" stroke="#8aff6d"/><path d="M264.90 304.72L265.93 304.89" stroke="#87ff70"/><path d="M265.69 304.85L266.72 305.03" stroke="#83ff73"/><path d="M266.48 304.99L267.50 305.16" stroke="#83ff73"/><path d="M267.27 305.12L268.29 305.30" stroke="#80ff77"/><path d="M268.06 305.26L269.08 305.43" stroke="#7dff7a"/><path d="M268.84 305.40L269.87 305.46" stroke="#7dff7a"/><path d="M269.63 305.48L270.66 305.30" stroke="#7aff7d"/><path d="M270.42 305.34L271.44 305.17" stroke="#77ff80"/><path d="M271.21 305.21L272.23 305.03" stroke="#77ff80"/><path d="M271.99 305.07L273.02 304.89" stroke="#73ff83"/><path d="M272.78 304.93L273.80 304.76" stroke="#70ff87"/><path d="M273.57 304.80L274.59 304.62" stroke="#6dff8a"/><path d="M274.36 304.66L275.38 304.49" stroke="#6dff8a"/><path d="M275.15 304.55L276.13 304.21" stroke="#6aff8d"/><path d="M275.90 304.29L276.89 303.95" stroke="#63ff94"/><path d="M276.66 304.03L277.64 303.68" stroke="#5dff9a"/><path d="M277.41 303.76L278.39 303.42" stroke="#56ffa0"/><path d="M278.17 303.50L279.15 303.16" stroke="#50ffa7"/><path d="M278.93 303.25L279.85 302.81" stroke="#4dffaa"/><path d="M279.66 302.94L280.39 302.21" stroke="#40ffb7"/><path d="M280.22 302.38L280.96 301.64" stroke="#33ffc4"/><path d="M280.79 301.81L281.52 301.08" stroke="#26ffd1"/><path d="M281.37 301.26L281.96 300.43" stroke="#19ffde"/><path d="M281.85 300.64L282.20 299.66" stroke="#0ff8e7"/><path d="M282.12 299.89L282.46 298.91" stroke="#02e8f4"/><path d="M282.38 299.13L282.72 298.15" stroke="#00dcfe"/><path d="M282.64 298.38L282.99 297.40" stroke="#00ccff"/><path d="M282.91 297.63L283.25 296.64" stroke="#00bcff"/><path d="M283.17 296.87L283.50 295.89" stroke="#00b0ff"/><path d="M283.43 296.11L283.76 295.13" stroke="#00a4ff"/><path d="M283.68 295.36L284.01 294.37" stroke="#0098ff"/><path d="M283.93 294.60L284.26 293.61" stroke="#008cff"/><path d="M284.19 293.84L284.51 292.86" stroke="#0080ff"/><path d="M284.44 293.08L284.77 292.10" stroke="#0074ff"/><path d="M284.69 292.32L285.02 291.34" stroke="#0068ff"/><path d="M284.94 291.57L285.27 290.58" stroke="#005cff"/><path d="M285.20 290.81L285.53 289.82" stroke="#0050ff"/><path d="M285.45 290.05L285.74 289.05" stroke="#0048ff"/><path d="M285.68 289.28L285.96 288.29" stroke="#0040ff"/><path d="M285.90 288.52L286.19 287.52" stroke="#003cff"/><path d="M286.12 287.75L286.41 286.75" stroke="#0034ff"/><path d="M286.34 286.98L286.63 285.98" stroke="#0030ff"/><path d="M286.56 286.21L286.85 285.21" stroke="#0028ff"/><path d="M286.78 285.44L287.07 284.45" stroke="#0020ff"/><path d="M287.00 284.68L287.29 283.68" stroke="#001cff"/><path d="M287.22 283.91L287.51 282.91" stroke="#0014ff"/><path d="M287.44 283.14L287.75 282.15" stroke="#000cff"/><path d="M287.67 282.38L288.00 281.39" stroke="#0008ff"/><path d="M287.92 281.62L288.25 280.63" stroke="#0004ff"/><path d="M288.17 280.86L288.49 279.87" stroke="#0000ff"/><path d="M288.42 280.10L288.74 279.11" stroke="#0000ff"/><path d="M288.67 279.34L288.99 278.35" stroke="#0000ff"/><path d="M288.92 278.58L289.24 277.59" stroke="#0000fa"/><path d="M289.17 277.82L289.49 276.83" stroke="#0000f6"/><path d="M289.41 277.06L289.75 276.08" stroke="#0000ed"/><path d="M289.67 276.30L290.02 275.32" stroke="#0000e3"/><path d="M289.94 275.55L290.28 274.57" stroke="#0000d6"/><path d="M290.20 274.80L290.54 273.81" stroke="#0000c8"/><path d="M290.46 274.04L290.80 273.06" stroke="#0000bb"/><path d="M290.73 273.29L291.00 272.31" stroke="#0000b2"/><path d="M291.01 272.53L290.63 271.57" stroke="#0000ad"/><path d="M290.72 271.79L290.33 270.83" stroke="#0000a8"/><path d="M290.42 271.05L290.03 270.08" stroke="#0000a8"/><path d="M290.13 270.30L289.71 269.37" stroke="#0000a8"/><path d="M289.86 269.53L288.96 269.01" stroke="#0000a4"/><path d="M289.17 269.13L288.27 268.61" stroke="#0000a4"/><path d="M288.48 268.73L287.58 268.21" stroke="#0000a4"/><path d="M287.79 268.33L286.89 267.80" stroke="#0000a4"/><path d="M287.10 267.92L286.20 267.40" stroke="#0000a4"/><path d="M286.42 267.49L285.42 267.23" stroke="#0000a4"/><path d="M285.65 267.28L284.64 267.06" stroke="#0000a4"/><path d="M284.87 267.11L283.86 266.89" stroke="#0000a4"/><path d="M284.09 266.95L283.08 266.73" stroke="#0000a4"/><path d="M283.31 266.78L282.30 266.56" stroke="#0000a4"/><path d="M282.53 266.61L281.52 266.39" stroke="#0000a4"/><path d="M281.75 266.43L280.73 266.28" stroke="#0000a4"/><path d="M280.97 266.30L279.93 266.30" stroke="#0000a4"/><path d="M280.17 266.30L279.13 266.30" stroke="#0000a4"/><path d="M279.37 266.30L278.33 266.30" stroke="#0000a4"/><path d="M278.57 266.30L277.53 266.30" stroke="#0000a4"/><path d="M277.77 266.30L276.73 266.30" stroke="#0000a4"/><path d="M276.97 266.30L275.93 266.30" stroke="#0000a4"/><path d="M276.17 266.30L275.13 266.31" stroke="#0000a4"/><path d="M275.37 266.29L274.34 266.43" stroke="#0000a4"/><path d="M274.58 266.40L273.55 266.54" stroke="#0000a4"/><path d="M273.79 266.51L272.76 266.65" stroke="#0000a4"/><path d="M273.00 266.62L271.97 266.76" stroke="#0000a4"/><path d="M272.21 266.73L271.18 266.87" stroke="#0000a4"/><path d="M271.41 266.84L270.38 266.98" stroke="#0000a4"/><path d="M270.62 266.95L269.59 267.09" stroke="#0000a4"/><path d="M269.83 267.05L268.81 267.25" stroke="#0000a4"/><path d="M269.05 267.20L268.03 267.42" stroke="#0000a4"/><path d="M268.27 267.37L267.25 267.60" stroke="#0000a4"/><path d="M267.49 267.54L266.47 267.77" stroke="#0000a4"/><path d="M266.70 267.72L265.69 267.94" stroke="#0000a4"/><path d="M265.92 267.89L264.91 268.11" stroke="#0000a4"/><path d="M265.14 268.06L264.13 268.28" stroke="#0000a4"/><path d="M264.36 268.23L263.35 268.47" stroke="#0000a4"/><path d="M263.58 268.41L262.60 268.73" stroke="#0000a4"/><path d="M262.82 268.65L261.84 268.98" stroke="#0000a4"/><path d="M262.07 268.90L261.08 269.23" stroke="#0000a4"/><path d="M261.31 269.15L260.32 269.47" stroke="#0000a4"/><path d="M260.55 269.40L259.56 269.72" stroke="#0000a4"/><path d="M259.79 269.65L258.80 269.97" stroke="#0000a4"/><path d="M259.03 269.90L258.04 270.22" stroke="#0000a4"/><path d="M258.27 270.14L257.29 270.50" stroke="#0000a4"/><path d="M257.52 270.42L256.56 270.81" stroke="#0000a4"/><path d="M256.78 270.72L255.82 271.12" stroke="#0000a4"/><path d="M256.04 271.03L255.08 271.43" stroke="#0000a4"/><path d="M255.30 271.33L254.34 271.73" stroke="#0000a4"/><path d="M254.56 271.64L253.60 272.04" stroke="#0000a4"/><path d="M253.83 271.94L252.87 272.34" stroke="#0000a4"/><path d="M253.09 272.25L252.13 272.65" stroke="#0000a4"/><path d="M252.35 272.55L251.41 273.00" stroke="#0000a4"/><path d="M251.63 272.89L250.70 273.37" stroke="#0000a4"/><path d="M250.92 273.26L249.99 273.74" stroke="#0000a4"/><path d="M250.21 273.63L249.28 274.10" stroke="#0000a4"/><path d="M249.50 273.99L248.57 274.47" stroke="#0000a4"/><path d="M248.79 274.36L247.86 274.84" stroke="#0000a4"/><path d="M248.08 274.73L247.15 275.21" stroke="#0000a4"/><path d="M247.37 275.10L246.44 275.57" stroke="#0000a4"/><path d="M246.66 275.46L245.74 275.96" stroke="#0000a4"/><path d="M245.95 275.84L245.05 276.35" stroke="#0000a4"/><path d="M245.26 276.24L244.36 276.75" stroke="#0000a4"/><path d="M244.56 276.63L243.66 277.14" stroke="#0000a4"/><path d="M243.87 277.03L242.97 277.54" stroke="#0000a4"/><path d="M243.18 277.42L242.27 277.93" stroke="#0000a4"/><path d="M242.48 277.82L241.58 278.33" stroke="#0000a4"/><path d="M241.79 278.21L240.88 278.72" stroke="#0000a4"/><path d="M241.09 278.60L240.20 279.13" stroke="#0000a4"/><path d="M240.40 279.00L239.57 279.62" stroke="#0000a4"/><path d="M239.76 279.48L238.93 280.10" stroke="#0000a4"/><path d="M239.12 279.96L238.29 280.58" stroke="#0000a4"/><path d="M238.48 280.44L237.65 281.06" stroke="#0000a4"/><path d="M237.84 280.92L237.01 281.54" stroke="#0000a4"/><path d="M237.20 281.40L236.37 282.02" stroke="#0000a4"/><path d="M236.56 281.87L235.76 282.54" stroke="#0000a4"/><path d="M235.94 282.37L235.24 283.14" stroke="#0000a4"/><path d="M235.40 282.96L234.70 283.73" stroke="#0000a4"/><path d="M234.86 283.56L234.16 284.33" stroke="#0000a4"/><path d="M234.33 284.15L233.63 284.92" stroke="#0000a4"/><path d="M233.79 284.74L233.09 285.51" stroke="#0000a4"/><path d="M233.23 285.32L232.70 286.21" stroke="#0000a4"/><path d="M232.82 286.00L232.32 286.91" stroke="#0000a4"/><path d="M232.43 286.70L231.93 287.61" stroke="#0000a4"/><path d="M232.05 287.40L231.54 288.30" stroke="#0000a4"/></g>
<path d="M426.30 273.40L421.00 274.20L416.80 274.80L410.30 275.60L405.40 275.00L405.60 276.80L408.10 283.00L411.70 291.70L415.40 300.30L418.30 303.90L427.00 303.10L438.60 301.40L450.30 299.60L461.90 297.80L475.00 295.80L485.00 296.30" fill="none" stroke="#585858" stroke-width="0.75" stroke-dasharray="2.2 1.0"/>
<g fill="none" stroke-width="0.95" stroke-linecap="butt"><path d="M435.12 269.08L434.10 269.27" stroke="#800000"/><path d="M434.33 269.22L433.31 269.41" stroke="#840000"/><path d="M433.54 269.37L432.52 269.56" stroke="#890000"/><path d="M432.76 269.51L431.74 269.70" stroke="#8d0000"/><path d="M431.97 269.66L430.95 269.85" stroke="#920000"/><path d="M431.19 269.80L430.16 269.99" stroke="#960000"/><path d="M430.40 269.95L429.38 270.14" stroke="#9b0000"/><path d="M429.61 270.09L428.59 270.28" stroke="#9b0000"/><path d="M428.83 270.24L427.80 270.40" stroke="#9f0000"/><path d="M428.04 270.36L427.00 270.50" stroke="#a40000"/><path d="M427.24 270.47L426.21 270.61" stroke="#a40000"/><path d="M426.45 270.58L425.42 270.72" stroke="#a80000"/><path d="M425.66 270.69L424.63 270.83" stroke="#ad0000"/><path d="M424.87 270.80L423.84 270.94" stroke="#ad0000"/><path d="M424.07 270.91L423.04 271.05" stroke="#b20000"/><path d="M423.28 271.02L422.25 271.16" stroke="#b20000"/><path d="M422.49 271.12L421.46 271.26" stroke="#b60000"/><path d="M421.70 271.23L420.67 271.38" stroke="#b60000"/><path d="M420.90 271.35L419.88 271.51" stroke="#bb0000"/><path d="M420.11 271.47L419.09 271.63" stroke="#bf0000"/><path d="M419.32 271.59L418.30 271.75" stroke="#bf0000"/><path d="M418.53 271.71L417.50 271.87" stroke="#c40000"/><path d="M417.74 271.84L416.71 272.00" stroke="#c80000"/><path d="M416.95 271.96L415.92 272.12" stroke="#cd0000"/><path d="M416.16 272.09L415.13 272.21" stroke="#cd0000"/><path d="M415.37 272.20L414.33 272.20" stroke="#d10000"/><path d="M414.57 272.20L413.53 272.20" stroke="#d10000"/><path d="M413.77 272.20L412.73 272.20" stroke="#d60000"/><path d="M412.97 272.20L411.93 272.20" stroke="#d60000"/><path d="M412.17 272.23L411.17 272.00" stroke="#da0000"/><path d="M411.40 272.08L410.43 271.68" stroke="#da0000"/><path d="M410.65 271.77L409.69 271.38" stroke="#da0000"/><path d="M409.92 271.43L408.92 271.38" stroke="#da0000"/><path d="M409.15 271.37L408.13 271.56" stroke="#da0000"/><path d="M408.37 271.52L407.35 271.71" stroke="#da0000"/><path d="M407.54 271.60L406.89 272.38" stroke="#da0000"/><path d="M407.04 272.19L406.42 273.03" stroke="#da0000"/><path d="M406.50 272.83L406.43 273.76" stroke="#da0000"/><path d="M406.40 273.54L406.71 274.53" stroke="#df0000"/><path d="M406.64 274.30L406.94 275.30" stroke="#e40000"/><path d="M406.87 275.07L407.17 276.06" stroke="#e80000"/><path d="M407.10 275.83L407.41 276.83" stroke="#ed0400"/><path d="M407.33 276.60L407.69 277.58" stroke="#f60b00"/><path d="M407.61 277.35L407.98 278.32" stroke="#ff1600"/><path d="M407.89 278.10L408.26 279.07" stroke="#ff1e00"/><path d="M408.17 278.85L408.54 279.82" stroke="#ff2900"/><path d="M408.46 279.59L408.83 280.57" stroke="#ff3000"/><path d="M408.73 280.35L409.15 281.30" stroke="#ff3f00"/><path d="M409.06 281.08L409.48 282.03" stroke="#ff4e00"/><path d="M409.38 281.81L409.80 282.76" stroke="#ff5900"/><path d="M409.70 282.54L410.12 283.49" stroke="#ff6800"/><path d="M410.03 283.27L410.45 284.22" stroke="#ff7700"/><path d="M410.35 284.00L410.77 284.96" stroke="#ff8600"/><path d="M410.67 284.74L411.07 285.70" stroke="#ff9800"/><path d="M410.98 285.48L411.37 286.44" stroke="#ffa700"/><path d="M411.28 286.22L411.67 287.18" stroke="#ffb900"/><path d="M411.58 286.96L411.98 287.92" stroke="#ffcc00"/><path d="M411.89 287.70L412.28 288.66" stroke="#ffde00"/><path d="M412.19 288.44L412.58 289.40" stroke="#feed00"/><path d="M412.49 289.18L412.87 290.14" stroke="#f1fc06"/><path d="M412.79 289.92L413.17 290.89" stroke="#e4ff13"/><path d="M413.08 290.67L413.46 291.63" stroke="#dbff1c"/><path d="M413.37 291.41L413.76 292.38" stroke="#ceff29"/><path d="M413.67 292.15L414.05 293.12" stroke="#c4ff33"/><path d="M413.96 292.90L414.35 293.86" stroke="#b7ff40"/><path d="M414.26 293.64L414.67 294.59" stroke="#aaff4d"/><path d="M414.58 294.37L414.99 295.33" stroke="#9dff5a"/><path d="M414.89 295.11L415.31 296.06" stroke="#94ff63"/><path d="M415.21 295.84L415.62 296.80" stroke="#87ff70"/><path d="M415.53 296.58L415.94 297.53" stroke="#7aff7d"/><path d="M415.85 297.31L416.25 298.27" stroke="#6dff8a"/><path d="M416.16 298.05L416.56 299.01" stroke="#63ff94"/><path d="M416.46 298.79L416.86 299.75" stroke="#56ffa0"/><path d="M416.77 299.53L417.17 300.49" stroke="#4dffaa"/><path d="M417.07 300.26L417.47 301.23" stroke="#43ffb4"/><path d="M417.34 301.03L418.07 301.74" stroke="#36ffc1"/><path d="M417.89 301.58L418.72 302.20" stroke="#2cffca"/><path d="M418.53 302.06L419.37 302.68" stroke="#1fffd7"/><path d="M419.16 302.60L420.15 302.63" stroke="#19ffde"/><path d="M419.92 302.64L420.95 302.52" stroke="#16ffe1"/><path d="M420.71 302.54L421.74 302.42" stroke="#16ffe1"/><path d="M421.50 302.45L422.54 302.33" stroke="#13fce4"/><path d="M422.30 302.36L423.33 302.23" stroke="#0ff8e7"/><path d="M423.09 302.26L424.13 302.14" stroke="#0ff8e7"/><path d="M423.89 302.17L424.92 302.05" stroke="#0cf4eb"/><path d="M424.68 302.07L425.71 301.95" stroke="#0cf4eb"/><path d="M425.48 301.98L426.51 301.86" stroke="#09f0ee"/><path d="M426.27 301.89L427.30 301.76" stroke="#09f0ee"/><path d="M427.07 301.79L428.09 301.64" stroke="#06ecf1"/><path d="M427.86 301.67L428.89 301.52" stroke="#06ecf1"/><path d="M428.65 301.56L429.68 301.41" stroke="#06ecf1"/><path d="M429.44 301.44L430.47 301.29" stroke="#02e8f4"/><path d="M430.23 301.33L431.26 301.18" stroke="#02e8f4"/><path d="M431.02 301.21L432.05 301.06" stroke="#02e8f4"/><path d="M431.81 301.09L432.84 300.94" stroke="#00e4f8"/><path d="M432.61 300.98L433.63 300.83" stroke="#00e4f8"/><path d="M433.40 300.86L434.43 300.71" stroke="#00e4f8"/><path d="M434.19 300.75L435.22 300.60" stroke="#00e0fb"/><path d="M434.98 300.63L436.01 300.48" stroke="#00e0fb"/><path d="M435.77 300.51L436.80 300.36" stroke="#00e0fb"/><path d="M436.56 300.40L437.59 300.25" stroke="#00dcfe"/><path d="M437.35 300.28L438.38 300.13" stroke="#00dcfe"/><path d="M438.15 300.17L439.17 300.01" stroke="#00dcfe"/><path d="M438.94 300.05L439.96 299.89" stroke="#00d8ff"/><path d="M439.73 299.93L440.75 299.77" stroke="#00d8ff"/><path d="M440.52 299.81L441.55 299.65" stroke="#00d8ff"/><path d="M441.31 299.68L442.34 299.53" stroke="#00d8ff"/><path d="M442.10 299.56L443.13 299.40" stroke="#00d8ff"/><path d="M442.89 299.44L443.92 299.28" stroke="#00d4ff"/><path d="M443.68 299.32L444.71 299.16" stroke="#00d4ff"/><path d="M444.47 299.20L445.50 299.04" stroke="#00d4ff"/><path d="M445.26 299.08L446.29 298.92" stroke="#00d4ff"/><path d="M446.05 298.95L447.08 298.80" stroke="#00d4ff"/><path d="M446.84 298.83L447.87 298.67" stroke="#00d4ff"/><path d="M447.63 298.71L448.66 298.55" stroke="#00d0ff"/><path d="M448.42 298.59L449.45 298.43" stroke="#00d0ff"/><path d="M449.21 298.47L450.24 298.31" stroke="#00d0ff"/><path d="M450.00 298.34L451.03 298.19" stroke="#00d0ff"/><path d="M450.80 298.23L451.83 298.08" stroke="#00d0ff"/><path d="M451.59 298.12L452.62 297.97" stroke="#00ccff"/><path d="M452.38 298.00L453.41 297.86" stroke="#00ccff"/><path d="M453.17 297.89L454.20 297.74" stroke="#00ccff"/><path d="M453.96 297.78L454.99 297.63" stroke="#00c8ff"/><path d="M454.76 297.66L455.78 297.52" stroke="#00c8ff"/><path d="M455.55 297.55L456.58 297.40" stroke="#00c8ff"/><path d="M456.34 297.44L457.37 297.28" stroke="#00c4ff"/><path d="M457.13 297.32L458.16 297.15" stroke="#00c4ff"/><path d="M457.92 297.19L458.95 297.03" stroke="#00c4ff"/><path d="M458.71 297.06L459.74 296.90" stroke="#00c4ff"/><path d="M459.50 296.94L460.53 296.78" stroke="#00c0ff"/><path d="M460.29 296.81L461.32 296.65" stroke="#00c0ff"/><path d="M461.08 296.69L462.11 296.52" stroke="#00c0ff"/><path d="M461.87 296.56L462.90 296.40" stroke="#00c0ff"/><path d="M462.66 296.44L463.69 296.27" stroke="#00c0ff"/><path d="M463.45 296.31L464.48 296.15" stroke="#00bcff"/><path d="M464.24 296.18L465.27 296.02" stroke="#00bcff"/><path d="M465.03 296.06L466.06 295.91" stroke="#00bcff"/><path d="M465.82 295.94L466.85 295.80" stroke="#00bcff"/><path d="M466.61 295.83L467.64 295.69" stroke="#00b8ff"/><path d="M467.40 295.72L468.43 295.58" stroke="#00b8ff"/><path d="M468.20 295.61L469.23 295.47" stroke="#00b8ff"/><path d="M468.99 295.50L470.02 295.36" stroke="#00b8ff"/><path d="M469.78 295.40L470.81 295.25" stroke="#00b4ff"/><path d="M470.57 295.29L471.60 295.14" stroke="#00b4ff"/><path d="M471.37 295.18L472.40 295.03" stroke="#00b4ff"/><path d="M472.16 295.07L473.19 294.93" stroke="#00b4ff"/><path d="M472.95 294.96L473.98 294.82" stroke="#00b0ff"/><path d="M473.74 294.84L474.78 294.80" stroke="#00b0ff"/><path d="M474.54 294.80L475.58 294.80" stroke="#00b0ff"/><path d="M475.34 294.80L476.38 294.80" stroke="#00b0ff"/><path d="M476.14 294.80L477.18 294.80" stroke="#00acff"/><path d="M476.94 294.80L477.98 294.80" stroke="#00acff"/><path d="M477.74 294.80L478.78 294.80" stroke="#00acff"/><path d="M478.54 294.80L479.58 294.80" stroke="#00acff"/><path d="M479.34 294.80L480.38 294.80" stroke="#00a8ff"/><path d="M480.14 294.80L481.18 294.80" stroke="#00a8ff"/><path d="M480.94 294.80L481.98 294.84" stroke="#00a8ff"/><path d="M481.74 294.82L482.78 294.90" stroke="#00a4ff"/><path d="M482.54 294.88L483.57 294.95" stroke="#00a4ff"/><path d="M483.33 294.93L484.37 295.01" stroke="#00a0ff"/><path d="M484.13 294.99L485.17 295.06" stroke="#00a0ff"/><path d="M484.93 295.05L485.97 295.08" stroke="#009cff"/><path d="M485.73 295.09L486.75 294.90" stroke="#009cff"/><path d="M486.51 294.95L487.54 294.75" stroke="#0098ff"/><path d="M487.30 294.80L488.32 294.60" stroke="#0098ff"/><path d="M488.09 294.65L489.11 294.46" stroke="#0094ff"/><path d="M488.90 294.54L489.67 294.00" stroke="#0094ff"/><path d="M489.52 294.17L490.01 293.25" stroke="#0090ff"/><path d="M489.89 293.46L490.38 292.54" stroke="#008cff"/><path d="M490.37 292.75L489.99 291.89" stroke="#0088ff"/><path d="M490.10 292.08L489.49 291.24" stroke="#0084ff"/><path d="M489.63 291.43L489.02 290.59" stroke="#0084ff"/><path d="M489.16 290.78L488.56 289.94" stroke="#0080ff"/><path d="M488.69 290.14L488.12 289.27" stroke="#007cff"/><path d="M488.25 289.47L487.68 288.60" stroke="#0074ff"/><path d="M487.81 288.80L487.24 287.93" stroke="#0070ff"/><path d="M487.37 288.14L486.80 287.27" stroke="#0068ff"/><path d="M486.93 287.47L486.36 286.60" stroke="#0064ff"/><path d="M486.49 286.80L485.92 285.93" stroke="#005cff"/><path d="M486.05 286.13L485.48 285.27" stroke="#0054ff"/><path d="M485.61 285.46L485.03 284.60" stroke="#0050ff"/><path d="M485.16 284.80L484.58 283.94" stroke="#0048ff"/><path d="M484.71 284.14L484.13 283.28" stroke="#0044ff"/><path d="M484.27 283.48L483.69 282.61" stroke="#003cff"/><path d="M483.82 282.81L483.24 281.95" stroke="#0038ff"/><path d="M483.37 282.15L482.79 281.29" stroke="#0030ff"/><path d="M482.92 281.49L482.40 280.59" stroke="#0028ff"/><path d="M482.52 280.80L482.00 279.90" stroke="#0024ff"/><path d="M482.12 280.10L481.61 279.20" stroke="#001cff"/><path d="M481.72 279.41L481.21 278.50" stroke="#0014ff"/><path d="M481.33 278.71L480.82 277.81" stroke="#000cff"/><path d="M480.93 278.02L480.42 277.11" stroke="#0008ff"/><path d="M480.54 277.32L480.02 276.42" stroke="#0000ff"/><path d="M480.14 276.63L479.62 275.73" stroke="#0000ff"/><path d="M479.74 275.93L479.21 275.04" stroke="#0000ff"/><path d="M479.34 275.25L478.81 274.35" stroke="#0000fa"/><path d="M478.93 274.56L478.40 273.66" stroke="#0000f1"/><path d="M478.52 273.87L477.99 272.97" stroke="#0000ed"/><path d="M478.12 273.18L477.59 272.28" stroke="#0000e3"/><path d="M477.71 272.49L477.18 271.59" stroke="#0000df"/><path d="M477.30 271.80L476.79 270.90" stroke="#0000d6"/><path d="M476.91 271.11L476.40 270.20" stroke="#0000c8"/><path d="M476.52 270.41L476.01 269.50" stroke="#0000bf"/><path d="M476.13 269.71L475.62 268.80" stroke="#0000b6"/><path d="M475.76 268.99L475.05 268.27" stroke="#0000ad"/><path d="M475.23 268.42L474.36 267.84" stroke="#00009f"/><path d="M474.56 267.98L473.70 267.40" stroke="#000096"/><path d="M473.91 267.51L472.97 267.16" stroke="#00008d"/><path d="M473.20 267.20L472.16 267.20" stroke="#00008d"/><path d="M472.40 267.20L471.36 267.20" stroke="#00008d"/><path d="M471.60 267.20L470.56 267.20" stroke="#00008d"/><path d="M470.80 267.20L469.76 267.20" stroke="#00008d"/><path d="M470.00 267.19L468.97 267.30" stroke="#00008d"/><path d="M469.20 267.27L468.17 267.41" stroke="#00008d"/><path d="M468.41 267.38L467.38 267.52" stroke="#00008d"/><path d="M467.62 267.49L466.59 267.63" stroke="#00008d"/><path d="M466.83 267.60L465.80 267.74" stroke="#00008d"/><path d="M466.04 267.71L465.01 267.85" stroke="#00008d"/><path d="M465.24 267.82L464.21 267.96" stroke="#00008d"/><path d="M464.45 267.93L463.42 268.07" stroke="#00008d"/><path d="M463.66 268.04L462.63 268.18" stroke="#00008d"/><path d="M462.87 268.15L461.84 268.29" stroke="#00008d"/><path d="M462.07 268.26L461.04 268.40" stroke="#00008d"/><path d="M461.28 268.37L460.25 268.51" stroke="#00008d"/><path d="M460.49 268.47L459.46 268.61" stroke="#00008d"/><path d="M459.70 268.58L458.67 268.72" stroke="#00008d"/><path d="M458.90 268.69L457.87 268.83" stroke="#00008d"/><path d="M458.11 268.80L457.08 268.94" stroke="#00008d"/><path d="M457.32 268.91L456.29 269.05" stroke="#00008d"/><path d="M456.53 269.01L455.50 269.16" stroke="#00008d"/><path d="M455.73 269.12L454.70 269.26" stroke="#00008d"/><path d="M454.94 269.23L453.91 269.37" stroke="#00008d"/><path d="M454.15 269.34L453.12 269.48" stroke="#00008d"/><path d="M453.36 269.45L452.33 269.59" stroke="#00008d"/><path d="M452.56 269.56L451.53 269.70" stroke="#00008d"/><path d="M451.77 269.67L450.74 269.81" stroke="#00008d"/><path d="M450.98 269.78L449.95 269.92" stroke="#00008d"/><path d="M450.19 269.88L449.16 270.03" stroke="#00008d"/><path d="M449.39 269.99L448.36 270.14" stroke="#00008d"/><path d="M448.60 270.10L447.57 270.25" stroke="#00008d"/><path d="M447.81 270.21L446.78 270.35" stroke="#00008d"/><path d="M447.02 270.32L445.99 270.46" stroke="#00008d"/><path d="M446.22 270.43L445.19 270.57" stroke="#00008d"/><path d="M445.43 270.54L444.40 270.68" stroke="#00008d"/><path d="M444.64 270.65L443.61 270.77" stroke="#00008d"/><path d="M443.85 270.74L442.81 270.87" stroke="#00008d"/><path d="M443.05 270.84L442.02 270.97" stroke="#00008d"/><path d="M442.26 270.94L441.23 271.07" stroke="#00008d"/><path d="M441.46 271.04L440.43 271.17" stroke="#00008d"/><path d="M440.67 271.14L439.64 271.27" stroke="#00008d"/><path d="M439.88 271.24L438.85 271.37" stroke="#00008d"/><path d="M439.08 271.34L438.05 271.48" stroke="#00008d"/><path d="M438.29 271.45L437.26 271.60" stroke="#00008d"/><path d="M437.50 271.57L436.47 271.72" stroke="#00008d"/><path d="M436.71 271.69L435.68 271.84" stroke="#00008d"/><path d="M435.92 271.81L434.89 271.96" stroke="#00008d"/><path d="M435.13 271.93L434.10 272.08" stroke="#00008d"/><path d="M434.34 272.05L433.31 272.20" stroke="#00008d"/><path d="M433.55 272.17L432.52 272.32" stroke="#00008d"/><path d="M432.75 272.29L431.73 272.44" stroke="#00008d"/><path d="M431.96 272.41L430.93 272.55" stroke="#00008d"/><path d="M431.17 272.52L430.14 272.66" stroke="#00008d"/><path d="M430.38 272.63L429.35 272.77" stroke="#00008d"/><path d="M429.59 272.74L428.56 272.88" stroke="#00008d"/><path d="M428.80 272.85L427.77 272.99" stroke="#00008d"/><path d="M428.00 272.96L426.97 273.11" stroke="#00008d"/><path d="M427.21 273.07L426.18 273.22" stroke="#00008d"/></g>
<rect x="99.10" y="21.30" width="38.50" height="8.20" rx="0.9" ry="0.9" fill="#fff" fill-opacity="0.8" stroke="#c4c4c4" stroke-opacity="1" stroke-width="0.45"/><path d="M100.90 25.25H110.00" stroke="#666" stroke-width="0.7" stroke-dasharray="2.27 0.98" fill="none"/><text x="113.85" y="26.95" font-family="'DejaVu Sans', 'Liberation Sans', sans-serif" font-size="4.5" fill="#000">reference</text>
<rect x="285.45" y="21.30" width="38.55" height="8.20" rx="0.9" ry="0.9" fill="#fff" fill-opacity="0.8" stroke="#c4c4c4" stroke-opacity="1" stroke-width="0.45"/><path d="M287.25 25.25H296.35" stroke="#666" stroke-width="0.7" stroke-dasharray="2.27 0.98" fill="none"/><text x="300.20" y="26.95" font-family="'DejaVu Sans', 'Liberation Sans', sans-serif" font-size="4.5" fill="#000">reference</text>
<rect x="471.80" y="21.30" width="37.90" height="8.20" rx="0.9" ry="0.9" fill="#fff" fill-opacity="0.8" stroke="#c4c4c4" stroke-opacity="1" stroke-width="0.45"/><path d="M473.60 25.25H482.70" stroke="#666" stroke-width="0.7" stroke-dasharray="2.27 0.98" fill="none"/><text x="486.55" y="26.95" font-family="'DejaVu Sans', 'Liberation Sans', sans-serif" font-size="4.5" fill="#000">reference</text>
<rect x="99.10" y="220.40" width="38.50" height="8.20" rx="0.9" ry="0.9" fill="#fff" fill-opacity="0.8" stroke="#c4c4c4" stroke-opacity="1" stroke-width="0.45"/><path d="M100.90 224.35H110.00" stroke="#666" stroke-width="0.7" stroke-dasharray="2.27 0.98" fill="none"/><text x="113.85" y="226.05" font-family="'DejaVu Sans', 'Liberation Sans', sans-serif" font-size="4.5" fill="#000">reference</text>
<rect x="285.45" y="220.40" width="38.55" height="8.20" rx="0.9" ry="0.9" fill="#fff" fill-opacity="0.8" stroke="#c4c4c4" stroke-opacity="1" stroke-width="0.45"/><path d="M287.25 224.35H296.35" stroke="#666" stroke-width="0.7" stroke-dasharray="2.27 0.98" fill="none"/><text x="300.20" y="226.05" font-family="'DejaVu Sans', 'Liberation Sans', sans-serif" font-size="4.5" fill="#000">reference</text>
<rect x="471.80" y="220.40" width="37.90" height="8.20" rx="0.9" ry="0.9" fill="#fff" fill-opacity="0.8" stroke="#c4c4c4" stroke-opacity="1" stroke-width="0.45"/><path d="M473.60 224.35H482.70" stroke="#666" stroke-width="0.7" stroke-dasharray="2.27 0.98" fill="none"/><text x="486.55" y="226.05" font-family="'DejaVu Sans', 'Liberation Sans', sans-serif" font-size="4.5" fill="#000">reference</text>
<text x="87.70" y="183.30" text-anchor="middle" font-family="'Liberation Serif', 'DejaVu Serif', serif" font-weight="bold" font-size="8.2" fill="#111">(a)</text>
<text x="274.00" y="183.30" text-anchor="middle" font-family="'Liberation Serif', 'DejaVu Serif', serif" font-weight="bold" font-size="8.2" fill="#111">(b)</text>
<text x="460.30" y="183.30" text-anchor="middle" font-family="'Liberation Serif', 'DejaVu Serif', serif" font-weight="bold" font-size="8.2" fill="#111">(c)</text>
<text x="87.70" y="382.10" text-anchor="middle" font-family="'Liberation Serif', 'DejaVu Serif', serif" font-weight="bold" font-size="8.2" fill="#111">(d)</text>
<text x="274.00" y="382.10" text-anchor="middle" font-family="'Liberation Serif', 'DejaVu Serif', serif" font-weight="bold" font-size="8.2" fill="#111">(e)</text>
<text x="460.30" y="382.10" text-anchor="middle" font-family="'Liberation Serif', 'DejaVu Serif', serif" font-weight="bold" font-size="8.2" fill="#111">(f)</text>
</svg>
</body></html>
